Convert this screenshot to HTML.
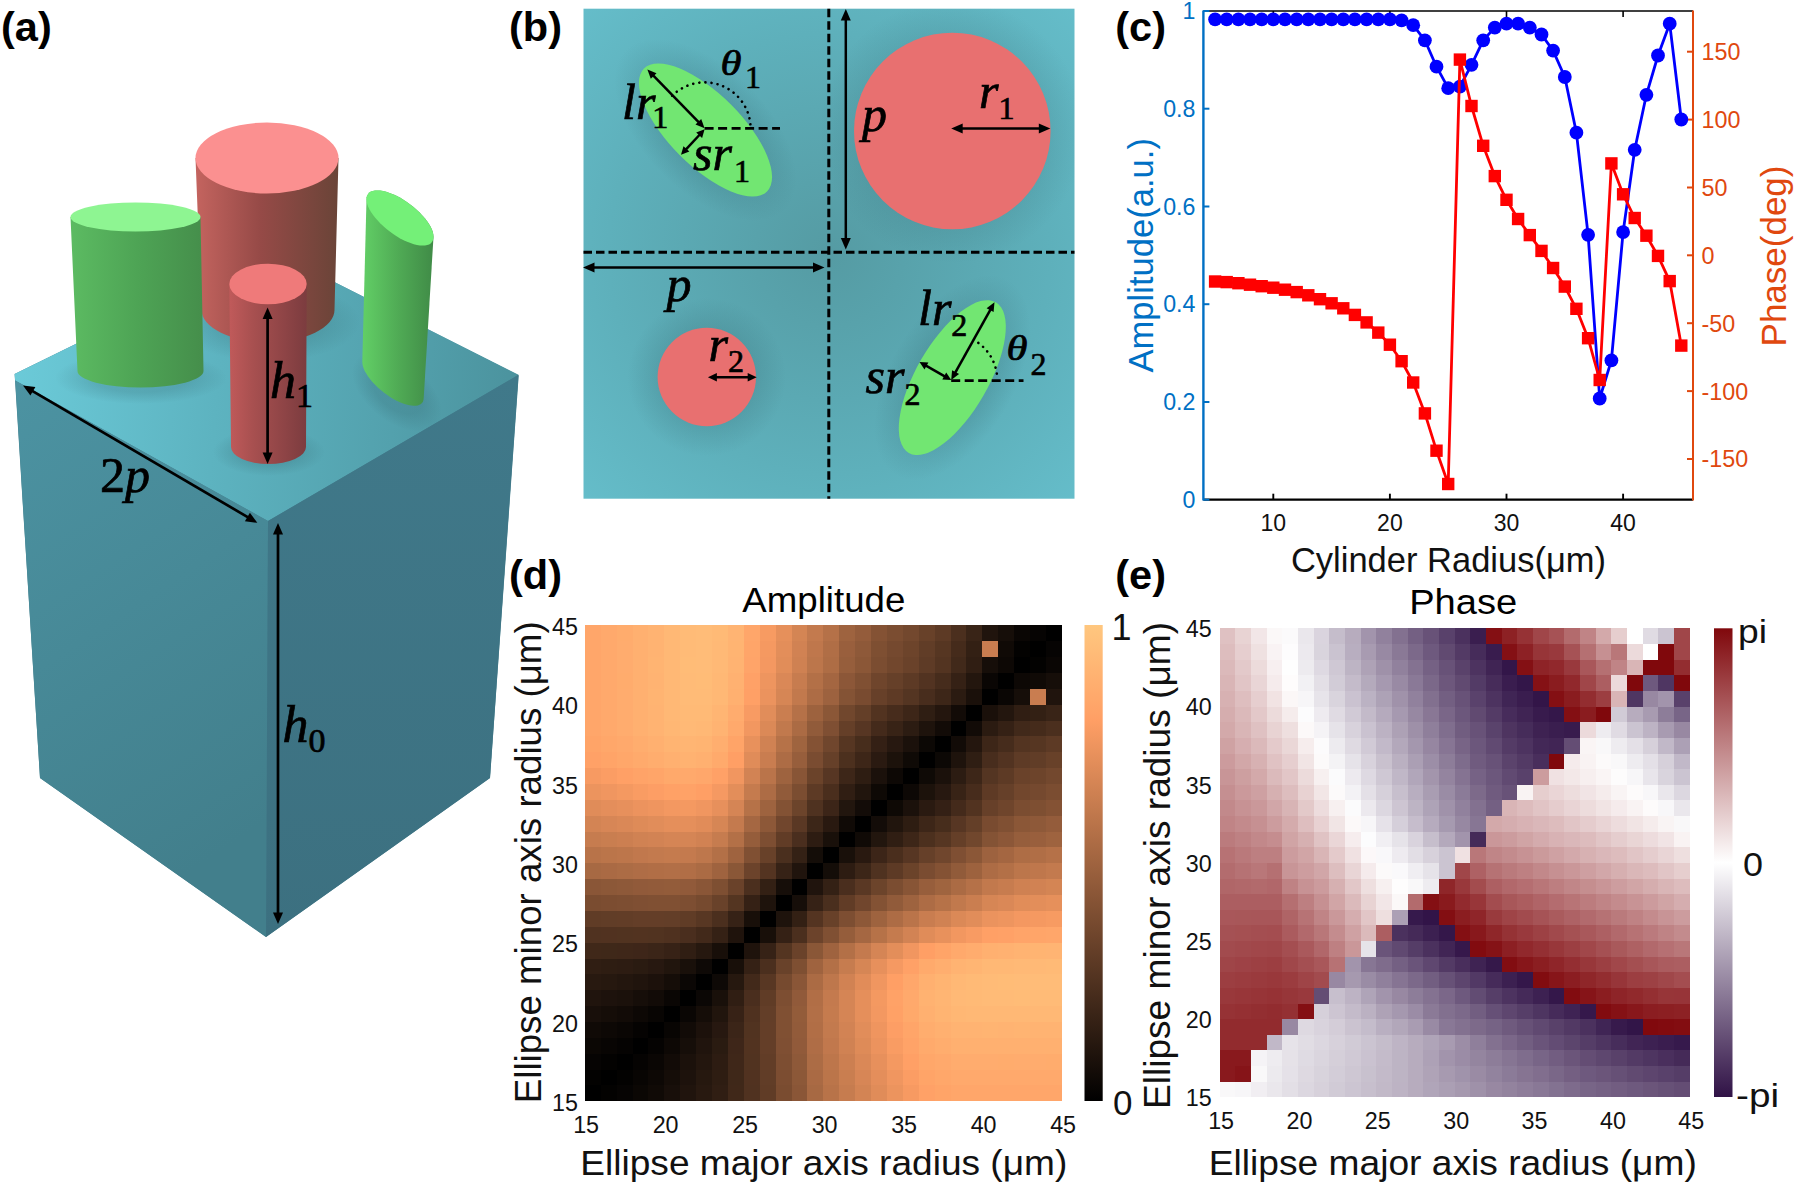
<!DOCTYPE html>
<html><head><meta charset="utf-8"><title>Figure</title>
<style>html,body{margin:0;padding:0;background:#fff}svg{display:block}</style></head>
<body>
<svg width="1797" height="1189" viewBox="0 0 1797 1189">
<defs>

<linearGradient id="gTop" gradientUnits="userSpaceOnUse" x1="15" y1="374" x2="520" y2="420"><stop offset="0" stop-color="#6bcad8"/><stop offset="0.4" stop-color="#5db3c0"/><stop offset="0.75" stop-color="#53a1ad"/><stop offset="1" stop-color="#4b929d"/></linearGradient>
<linearGradient id="gLeft" x1="0" y1="0" x2="0.3" y2="1"><stop offset="0" stop-color="#4c93a2"/><stop offset="1" stop-color="#427f8c"/></linearGradient>
<linearGradient id="gRight" x1="0" y1="0" x2="0" y2="1"><stop offset="0" stop-color="#40798a"/><stop offset="1" stop-color="#3c7080"/></linearGradient>
<linearGradient id="gRedBig" x1="0" y1="0" x2="1" y2="0"><stop offset="0" stop-color="#c4645f"/><stop offset="0.45" stop-color="#964a47"/><stop offset="1" stop-color="#6a4438"/></linearGradient>
<linearGradient id="gRedSm" x1="0" y1="0" x2="1" y2="0"><stop offset="0" stop-color="#c05a5a"/><stop offset="0.3" stop-color="#a85050"/><stop offset="1" stop-color="#7c3c3f"/></linearGradient>
<linearGradient id="gGrL" x1="0" y1="0" x2="1" y2="0"><stop offset="0" stop-color="#5cbb62"/><stop offset="0.5" stop-color="#4ea455"/><stop offset="1" stop-color="#458e4b"/></linearGradient>
<linearGradient id="gGrR" x1="0" y1="0" x2="1" y2="0"><stop offset="0" stop-color="#62cf66"/><stop offset="0.5" stop-color="#50ab55"/><stop offset="1" stop-color="#408b47"/></linearGradient>
<radialGradient id="gB" cx="0.5" cy="0.5" r="0.75"><stop offset="0" stop-color="#559ba3"/><stop offset="0.6" stop-color="#5eb0bb"/><stop offset="1" stop-color="#66bfcc"/></radialGradient>
<radialGradient id="gSh" cx="0.5" cy="0.5" r="0.5"><stop offset="0.55" stop-color="#2f6068" stop-opacity="0.22"/><stop offset="1" stop-color="#2f6068" stop-opacity="0"/></radialGradient>
<linearGradient id="gCopper" x1="0" y1="1" x2="0" y2="0"><stop offset="0" stop-color="#000"/><stop offset="0.8" stop-color="#ff9f65"/><stop offset="1" stop-color="#ffc77f"/></linearGradient>
<linearGradient id="gPhase" x1="0" y1="1" x2="0" y2="0"><stop offset="0" stop-color="#301246"/><stop offset="0.5" stop-color="#ffffff"/><stop offset="1" stop-color="#80080c"/></linearGradient>

</defs>
<rect width="1797" height="1189" fill="#fff"/>
<text x="1" y="40.6" font-family="'Liberation Sans', Arial, Helvetica, sans-serif" font-weight="bold" font-size="41.5" fill="#000">(a)</text>
<text x="509" y="40.6" font-family="'Liberation Sans', Arial, Helvetica, sans-serif" font-weight="bold" font-size="41.5" fill="#000">(b)</text>
<text x="1115.3" y="40.6" font-family="'Liberation Sans', Arial, Helvetica, sans-serif" font-weight="bold" font-size="41.5" fill="#000">(c)</text>
<text x="509" y="588.6" font-family="'Liberation Sans', Arial, Helvetica, sans-serif" font-weight="bold" font-size="41.5" fill="#000">(d)</text>
<text x="1115.3" y="588.8" font-family="'Liberation Sans', Arial, Helvetica, sans-serif" font-weight="bold" font-size="41.5" fill="#000">(e)</text>
<g id="pa">
<polygon points="14.6,374 269,249 518.7,375.5 490,778 266,937 40,778" fill="#447f8d"/>
<polygon points="14.6,374 269,249 518.5,374.8 268,521 15.2,380.5" fill="url(#gTop)"/>
<polygon points="15.2,380.5 268,521 266,937 40,778" fill="url(#gLeft)"/>
<polygon points="268,521 518.5,374.8 490,778 266,937" fill="url(#gRight)"/>
<ellipse cx="268" cy="322" rx="92" ry="40" fill="url(#gSh)"/>
<ellipse cx="141" cy="378" rx="86" ry="26" fill="url(#gSh)"/>
<ellipse cx="269" cy="452" rx="56" ry="24" fill="url(#gSh)"/>
<ellipse cx="397" cy="392" rx="52" ry="30" fill="url(#gSh)" transform="rotate(38 397 392)"/>
<path d="M195.5,158 L201.5,310 A66.5,32 0 0 0 334.5,310 L338.5,158 Z" fill="url(#gRedBig)"/>
<ellipse cx="267" cy="158" rx="71.5" ry="35.5" fill="#fb9090"/>
<path d="M70.5,217 L77.5,371 A63,16.5 0 0 0 203.5,371 L200.5,217 Z" fill="url(#gGrL)"/>
<ellipse cx="135.5" cy="217" rx="65" ry="14.5" fill="#8ef592"/>
<polygon points="433.5,236.7 423.7,397.9 423.5,399.7 423.0,401.4 422.2,402.8 421.0,403.9 419.5,404.8 417.8,405.4 415.8,405.8 413.5,405.8 411.0,405.6 408.3,405.1 405.4,404.3 402.4,403.3 399.3,402.0 396.1,400.4 392.9,398.7 389.7,396.7 386.6,394.5 383.5,392.2 380.5,389.8 377.6,387.2 374.9,384.6 372.4,381.9 370.2,379.2 368.1,376.5 366.4,373.8 364.9,371.2 363.8,368.8 363.0,366.4 362.5,364.2 362.3,362.1 366.5,199.3 366.6,197.3 367.2,195.5 368.1,193.9 369.3,192.6 370.9,191.6 372.8,190.9 375.0,190.5 377.4,190.4 380.2,190.5 383.1,191.0 386.2,191.8 389.5,192.9 392.9,194.2 396.4,195.8 399.9,197.6 403.4,199.7 406.8,202.0 410.2,204.4 413.5,207.0 416.6,209.7 419.6,212.5 422.3,215.4 424.8,218.3 427.1,221.2 429.0,224.0 430.6,226.8 431.9,229.5 432.8,232.1 433.3,234.5" fill="url(#gGrR)"/>
<polygon points="431.9,242.1 430.7,243.4 429.1,244.4 427.2,245.1 425.0,245.5 422.6,245.6 419.8,245.5 416.9,245.0 413.8,244.2 410.5,243.1 407.1,241.8 403.6,240.2 400.1,238.4 396.6,236.3 393.2,234.0 389.8,231.6 386.5,229.0 383.4,226.3 380.4,223.5 377.7,220.6 375.2,217.7 372.9,214.8 371.0,212.0 369.4,209.2 368.1,206.5 367.2,203.9 366.7,201.5 366.5,199.3 366.6,197.3 367.2,195.5 368.1,193.9 369.3,192.6 370.9,191.6 372.8,190.9 375.0,190.5 377.4,190.4 380.2,190.5 383.1,191.0 386.2,191.8 389.5,192.9 392.9,194.2 396.4,195.8 399.9,197.6 403.4,199.7 406.8,202.0 410.2,204.4 413.5,207.0 416.6,209.7 419.6,212.5 422.3,215.4 424.8,218.3 427.1,221.2 429.0,224.0 430.6,226.8 431.9,229.5 432.8,232.1 433.3,234.5 433.5,236.7 433.4,238.7 432.8,240.5" fill="#74f078"/>
<path d="M229.3,284 L231,447 A37.5,17 0 0 0 306,447 L306.7,284 Z" fill="url(#gRedSm)"/>
<ellipse cx="268" cy="284" rx="38.7" ry="20.3" fill="#ef7a7a"/>
<line x1="267.6" y1="316.7" x2="267.6" y2="454.8" stroke="#000" stroke-width="2.7"/><polygon points="267.6,464.0 262.6,452.5 272.6,452.5" fill="#000"/><polygon points="267.6,307.5 262.6,319.0 272.6,319.0" fill="#000"/>
<text x="270" y="398" font-family="'Liberation Serif', 'Times New Roman', serif" font-size="52" font-style="italic" fill="#000" stroke="#000" stroke-width="0.7">h<tspan font-style="normal" font-size="34" dy="9" dx="0">1</tspan></text>
<line x1="278.0" y1="532.2" x2="278.0" y2="914.8" stroke="#000" stroke-width="2.7"/><polygon points="278.0,924.0 273.0,912.5 283.0,912.5" fill="#000"/><polygon points="278.0,523.0 273.0,534.5 283.0,534.5" fill="#000"/>
<text x="282.5" y="742" font-family="'Liberation Serif', 'Times New Roman', serif" font-size="52" font-style="italic" fill="#000" stroke="#000" stroke-width="0.7">h<tspan font-style="normal" font-size="34" dy="10" dx="0">0</tspan></text>
<line x1="30.9" y1="390.2" x2="249.4" y2="518.1" stroke="#000" stroke-width="2.7"/><polygon points="257.3,522.8 244.9,521.3 249.9,512.7" fill="#000"/><polygon points="23.0,385.5 30.4,395.6 35.4,387.0" fill="#000"/>
<text x="100" y="491.8" font-family="'Liberation Serif', 'Times New Roman', serif" font-size="50" font-style="italic" fill="#000" stroke="#000" stroke-width="0.7"><tspan font-style="normal">2</tspan>p</text>
</g>
<g id="pb">
<rect x="583.5" y="8.7" width="491.0" height="490.0" fill="url(#gB)"/>
<clipPath id="cpB"><rect x="583.5" y="8.7" width="491.0" height="490.0"/></clipPath>
<ellipse clip-path="url(#cpB)" cx="952.3" cy="131" rx="132.3" ry="132.3" fill="url(#gSh)" transform="rotate(0 952.3 131)"/>
<ellipse clip-path="url(#cpB)" cx="706.8" cy="377" rx="79.2" ry="79.2" fill="url(#gSh)" transform="rotate(0 706.8 377)"/>
<ellipse clip-path="url(#cpB)" cx="705.5" cy="130" rx="113" ry="62" fill="url(#gSh)" transform="rotate(45 705.5 130)"/>
<ellipse clip-path="url(#cpB)" cx="952.3" cy="377.6" rx="113" ry="62" fill="url(#gSh)" transform="rotate(-60 952.3 377.6)"/>
<circle cx="952.3" cy="131" r="98.3" fill="#e87070"/>
<circle cx="706.8" cy="377" r="49.2" fill="#e87070"/>
<ellipse cx="705.5" cy="130" rx="87" ry="36" fill="#72e672" transform="rotate(45 705.5 130)"/>
<ellipse cx="952.3" cy="377.6" rx="87" ry="36" fill="#72e672" transform="rotate(-60 952.3 377.6)"/>
<line x1="828.8" y1="8.7" x2="828.8" y2="498.7" stroke="#000" stroke-width="3" stroke-dasharray="8.5 4"/>
<line x1="583.5" y1="252.3" x2="1074.5" y2="252.3" stroke="#000" stroke-width="3" stroke-dasharray="8.5 4"/>
<line x1="845.8" y1="18.2" x2="845.8" y2="240.3" stroke="#000" stroke-width="2.5"/><polygon points="845.8,249.5 840.8,238.0 850.8,238.0" fill="#000"/><polygon points="845.8,9.0 840.8,20.5 850.8,20.5" fill="#000"/>
<line x1="592.2" y1="267.5" x2="815.3" y2="267.5" stroke="#000" stroke-width="2.5"/><polygon points="824.5,267.5 813.0,272.5 813.0,262.5" fill="#000"/><polygon points="583.0,267.5 594.5,272.5 594.5,262.5" fill="#000"/>
<text x="862" y="131.2" font-family="'Liberation Serif', 'Times New Roman', serif" font-size="50" font-style="italic" fill="#000" stroke="#000" stroke-width="0.7">p</text>
<text x="666.5" y="301.4" font-family="'Liberation Serif', 'Times New Roman', serif" font-size="50" font-style="italic" fill="#000" stroke="#000" stroke-width="0.7">p</text>
<line x1="960.4" y1="128.6" x2="1041.1" y2="128.6" stroke="#000" stroke-width="2.5"/><polygon points="1050.3,128.6 1038.8,133.6 1038.8,123.6" fill="#000"/><polygon points="951.2,128.6 962.7,133.6 962.7,123.6" fill="#000"/>
<text x="979" y="108.2" font-family="'Liberation Serif', 'Times New Roman', serif" font-size="50" font-style="italic" fill="#000" stroke="#000" stroke-width="0.7">r<tspan font-style="normal" font-size="32" dy="11" dx="0">1</tspan></text>
<line x1="715.1" y1="377.3" x2="749.5" y2="377.3" stroke="#000" stroke-width="2.5"/><polygon points="756.7,377.3 747.7,381.6 747.7,373.1" fill="#000"/><polygon points="707.9,377.3 716.9,381.6 716.9,373.1" fill="#000"/>
<text x="708.5" y="360.5" font-family="'Liberation Serif', 'Times New Roman', serif" font-size="50" font-style="italic" fill="#000" stroke="#000" stroke-width="0.7">r<tspan font-style="normal" font-size="32" dy="11" dx="0">2</tspan></text>
<line x1="699.6" y1="123.1" x2="652.4" y2="74.7" stroke="#000" stroke-width="2.5"/><polygon points="647.4,69.5 656.5,73.2 650.8,78.7" fill="#000"/><polygon points="704.6,128.3 701.2,119.1 695.5,124.6" fill="#000"/>
<line x1="700.3" y1="134.0" x2="685.3" y2="150.1" stroke="#000" stroke-width="2.5"/><polygon points="681.0,154.8 683.5,146.2 689.4,151.6" fill="#000"/><polygon points="704.6,129.3 696.2,132.5 702.1,137.9" fill="#000"/>
<line x1="704.6" y1="128.3" x2="780" y2="128.3" stroke="#000" stroke-width="2.7" stroke-dasharray="9 4.5"/>
<path d="M750.4,124.3 A46,46 0 0 0 672.1,95.8" fill="none" stroke="#000" stroke-width="2.6" stroke-linecap="round" stroke-dasharray="0.1 6"/>
<text x="622" y="119.2" font-family="'Liberation Serif', 'Times New Roman', serif" font-size="50" font-style="italic" fill="#000" stroke="#000" stroke-width="0.7">lr<tspan font-style="normal" font-size="32" dy="9" dx="-3">1</tspan></text>
<text x="693" y="169.5" font-family="'Liberation Serif', 'Times New Roman', serif" font-size="50" font-style="italic" fill="#000" stroke="#000" stroke-width="0.7">sr<tspan font-style="normal" font-size="32" dy="12" dx="2">1</tspan></text>
<text transform="translate(720.5,75.4) scale(1.22,1)" font-family="'Liberation Serif', 'Times New Roman', serif" font-size="35" font-style="italic" stroke="#000" stroke-width="0.7">θ</text>
<text x="745" y="87.6" font-family="'Liberation Serif', 'Times New Roman', serif" font-size="32" stroke="#000" stroke-width="0.6">1</text>
<line x1="954.7" y1="373.7" x2="991.0" y2="308.6" stroke="#000" stroke-width="2.5"/><polygon points="994.5,302.3 993.6,312.1 986.6,308.2" fill="#000"/><polygon points="951.2,380.0 959.1,374.1 952.1,370.2" fill="#000"/>
<line x1="945.6" y1="376.8" x2="925.1" y2="365.2" stroke="#000" stroke-width="2.5"/><polygon points="919.5,362.0 928.4,362.5 924.5,369.4" fill="#000"/><polygon points="951.2,380.0 946.2,372.6 942.3,379.5" fill="#000"/>
<line x1="951.2" y1="380.6" x2="1023.5" y2="380.6" stroke="#000" stroke-width="2.7" stroke-dasharray="9 4.5"/>
<path d="M996.8,373.6 A46,46 0 0 0 974.2,340.2" fill="none" stroke="#000" stroke-width="2.6" stroke-linecap="round" stroke-dasharray="0.1 6"/>
<text x="918" y="324.8" font-family="'Liberation Serif', 'Times New Roman', serif" font-size="50" font-style="italic" fill="#000" stroke="#000" stroke-width="0.7">lr<tspan font-style="normal" font-size="32" dy="11" dx="0">2</tspan></text>
<text x="865.5" y="392.6" font-family="'Liberation Serif', 'Times New Roman', serif" font-size="50" font-style="italic" fill="#000" stroke="#000" stroke-width="0.7">sr<tspan font-style="normal" font-size="32" dy="12" dx="0">2</tspan></text>
<text transform="translate(1006.5,359.8) scale(1.22,1)" font-family="'Liberation Serif', 'Times New Roman', serif" font-size="35" font-style="italic" stroke="#000" stroke-width="0.7">θ</text>
<text x="1030.5" y="374.5" font-family="'Liberation Serif', 'Times New Roman', serif" font-size="32" stroke="#000" stroke-width="0.6">2</text>
</g>
<g id="pc">
<line x1="1203.4" y1="11.0" x2="1693.0" y2="11.0" stroke="#000" stroke-width="1.6"/>
<line x1="1203.4" y1="499.7" x2="1693.0" y2="499.7" stroke="#000" stroke-width="2.2"/>
<line x1="1203.4" y1="10.4" x2="1203.4" y2="500.4" stroke="#0070c4" stroke-width="2.4"/>
<line x1="1693.0" y1="10.4" x2="1693.0" y2="500.4" stroke="#e0480f" stroke-width="2.0"/>
<line x1="1273.3" y1="499.7" x2="1273.3" y2="493.7" stroke="#000" stroke-width="1.9"/>
<line x1="1273.3" y1="11.0" x2="1273.3" y2="17.0" stroke="#000" stroke-width="1.6"/>
<text x="1273.3" y="531.2" font-family="'Liberation Sans', Arial, Helvetica, sans-serif" font-size="23" text-anchor="middle" fill="#111">10</text>
<line x1="1389.9" y1="499.7" x2="1389.9" y2="493.7" stroke="#000" stroke-width="1.9"/>
<line x1="1389.9" y1="11.0" x2="1389.9" y2="17.0" stroke="#000" stroke-width="1.6"/>
<text x="1389.9" y="531.2" font-family="'Liberation Sans', Arial, Helvetica, sans-serif" font-size="23" text-anchor="middle" fill="#111">20</text>
<line x1="1506.5" y1="499.7" x2="1506.5" y2="493.7" stroke="#000" stroke-width="1.9"/>
<line x1="1506.5" y1="11.0" x2="1506.5" y2="17.0" stroke="#000" stroke-width="1.6"/>
<text x="1506.5" y="531.2" font-family="'Liberation Sans', Arial, Helvetica, sans-serif" font-size="23" text-anchor="middle" fill="#111">30</text>
<line x1="1623.1" y1="499.7" x2="1623.1" y2="493.7" stroke="#000" stroke-width="1.9"/>
<line x1="1623.1" y1="11.0" x2="1623.1" y2="17.0" stroke="#000" stroke-width="1.6"/>
<text x="1623.1" y="531.2" font-family="'Liberation Sans', Arial, Helvetica, sans-serif" font-size="23" text-anchor="middle" fill="#111">40</text>
<line x1="1203.4" y1="499.7" x2="1209.4" y2="499.7" stroke="#0070c4" stroke-width="2"/>
<text x="1195.4" y="507.9" font-family="'Liberation Sans', Arial, Helvetica, sans-serif" font-size="23.2" text-anchor="end" fill="#0070c4">0</text>
<line x1="1203.4" y1="402.0" x2="1209.4" y2="402.0" stroke="#0070c4" stroke-width="2"/>
<text x="1195.4" y="410.2" font-family="'Liberation Sans', Arial, Helvetica, sans-serif" font-size="23.2" text-anchor="end" fill="#0070c4">0.2</text>
<line x1="1203.4" y1="304.2" x2="1209.4" y2="304.2" stroke="#0070c4" stroke-width="2"/>
<text x="1195.4" y="312.4" font-family="'Liberation Sans', Arial, Helvetica, sans-serif" font-size="23.2" text-anchor="end" fill="#0070c4">0.4</text>
<line x1="1203.4" y1="206.5" x2="1209.4" y2="206.5" stroke="#0070c4" stroke-width="2"/>
<text x="1195.4" y="214.7" font-family="'Liberation Sans', Arial, Helvetica, sans-serif" font-size="23.2" text-anchor="end" fill="#0070c4">0.6</text>
<line x1="1203.4" y1="108.7" x2="1209.4" y2="108.7" stroke="#0070c4" stroke-width="2"/>
<text x="1195.4" y="116.9" font-family="'Liberation Sans', Arial, Helvetica, sans-serif" font-size="23.2" text-anchor="end" fill="#0070c4">0.8</text>
<line x1="1203.4" y1="11.0" x2="1209.4" y2="11.0" stroke="#0070c4" stroke-width="2"/>
<text x="1195.4" y="19.2" font-family="'Liberation Sans', Arial, Helvetica, sans-serif" font-size="23.2" text-anchor="end" fill="#0070c4">1</text>
<line x1="1693.0" y1="459.0" x2="1687.0" y2="459.0" stroke="#e0480f" stroke-width="2"/>
<text x="1701.5" y="467.4" font-family="'Liberation Sans', Arial, Helvetica, sans-serif" font-size="23.3" fill="#e0480f">-150</text>
<line x1="1693.0" y1="391.1" x2="1687.0" y2="391.1" stroke="#e0480f" stroke-width="2"/>
<text x="1701.5" y="399.5" font-family="'Liberation Sans', Arial, Helvetica, sans-serif" font-size="23.3" fill="#e0480f">-100</text>
<line x1="1693.0" y1="323.2" x2="1687.0" y2="323.2" stroke="#e0480f" stroke-width="2"/>
<text x="1701.5" y="331.6" font-family="'Liberation Sans', Arial, Helvetica, sans-serif" font-size="23.3" fill="#e0480f">-50</text>
<line x1="1693.0" y1="255.3" x2="1687.0" y2="255.3" stroke="#e0480f" stroke-width="2"/>
<text x="1701.5" y="263.8" font-family="'Liberation Sans', Arial, Helvetica, sans-serif" font-size="23.3" fill="#e0480f">0</text>
<line x1="1693.0" y1="187.5" x2="1687.0" y2="187.5" stroke="#e0480f" stroke-width="2"/>
<text x="1701.5" y="195.9" font-family="'Liberation Sans', Arial, Helvetica, sans-serif" font-size="23.3" fill="#e0480f">50</text>
<line x1="1693.0" y1="119.6" x2="1687.0" y2="119.6" stroke="#e0480f" stroke-width="2"/>
<text x="1701.5" y="128.0" font-family="'Liberation Sans', Arial, Helvetica, sans-serif" font-size="23.3" fill="#e0480f">100</text>
<line x1="1693.0" y1="51.7" x2="1687.0" y2="51.7" stroke="#e0480f" stroke-width="2"/>
<text x="1701.5" y="60.1" font-family="'Liberation Sans', Arial, Helvetica, sans-serif" font-size="23.3" fill="#e0480f">150</text>
<text transform="translate(1153,255.3) rotate(-90)" font-family="'Liberation Sans', Arial, Helvetica, sans-serif" font-size="34.6" text-anchor="middle" fill="#0070c4">Amplitude(a.u.)</text>
<text transform="translate(1786,256) rotate(-90)" font-family="'Liberation Sans', Arial, Helvetica, sans-serif" font-size="35" text-anchor="middle" fill="#e0480f">Phase(deg)</text>
<text x="1448.5" y="571.5" font-family="'Liberation Sans', Arial, Helvetica, sans-serif" font-size="34.5" text-anchor="middle" fill="#111">Cylinder Radius(μm)</text>
<polyline points="1215.1,19.3 1226.7,19.3 1238.4,19.3 1250.0,19.3 1261.7,19.3 1273.3,19.3 1285.0,19.3 1296.7,19.3 1308.3,19.3 1320.0,19.3 1331.6,19.3 1343.3,19.3 1354.9,19.3 1366.6,19.3 1378.3,19.3 1389.9,19.3 1401.6,20.3 1413.2,25.2 1424.9,40.3 1436.5,66.7 1448.2,88.2 1459.9,86.7 1471.5,64.8 1483.2,40.3 1494.8,27.6 1506.5,23.7 1518.1,23.7 1529.8,27.6 1541.5,34.5 1553.1,50.6 1564.8,77.0 1576.4,132.7 1588.1,234.8 1599.7,398.5 1611.4,360.4 1623.1,232.1 1634.7,149.8 1646.4,94.8 1658.0,55.5 1669.7,23.7 1681.3,119.5" fill="none" stroke="#0000ff" stroke-width="2.8" stroke-linejoin="round"/>
<circle cx="1215.1" cy="19.3" r="6.9" fill="#0000ff"/>
<circle cx="1226.7" cy="19.3" r="6.9" fill="#0000ff"/>
<circle cx="1238.4" cy="19.3" r="6.9" fill="#0000ff"/>
<circle cx="1250.0" cy="19.3" r="6.9" fill="#0000ff"/>
<circle cx="1261.7" cy="19.3" r="6.9" fill="#0000ff"/>
<circle cx="1273.3" cy="19.3" r="6.9" fill="#0000ff"/>
<circle cx="1285.0" cy="19.3" r="6.9" fill="#0000ff"/>
<circle cx="1296.7" cy="19.3" r="6.9" fill="#0000ff"/>
<circle cx="1308.3" cy="19.3" r="6.9" fill="#0000ff"/>
<circle cx="1320.0" cy="19.3" r="6.9" fill="#0000ff"/>
<circle cx="1331.6" cy="19.3" r="6.9" fill="#0000ff"/>
<circle cx="1343.3" cy="19.3" r="6.9" fill="#0000ff"/>
<circle cx="1354.9" cy="19.3" r="6.9" fill="#0000ff"/>
<circle cx="1366.6" cy="19.3" r="6.9" fill="#0000ff"/>
<circle cx="1378.3" cy="19.3" r="6.9" fill="#0000ff"/>
<circle cx="1389.9" cy="19.3" r="6.9" fill="#0000ff"/>
<circle cx="1401.6" cy="20.3" r="6.9" fill="#0000ff"/>
<circle cx="1413.2" cy="25.2" r="6.9" fill="#0000ff"/>
<circle cx="1424.9" cy="40.3" r="6.9" fill="#0000ff"/>
<circle cx="1436.5" cy="66.7" r="6.9" fill="#0000ff"/>
<circle cx="1448.2" cy="88.2" r="6.9" fill="#0000ff"/>
<circle cx="1459.9" cy="86.7" r="6.9" fill="#0000ff"/>
<circle cx="1471.5" cy="64.8" r="6.9" fill="#0000ff"/>
<circle cx="1483.2" cy="40.3" r="6.9" fill="#0000ff"/>
<circle cx="1494.8" cy="27.6" r="6.9" fill="#0000ff"/>
<circle cx="1506.5" cy="23.7" r="6.9" fill="#0000ff"/>
<circle cx="1518.1" cy="23.7" r="6.9" fill="#0000ff"/>
<circle cx="1529.8" cy="27.6" r="6.9" fill="#0000ff"/>
<circle cx="1541.5" cy="34.5" r="6.9" fill="#0000ff"/>
<circle cx="1553.1" cy="50.6" r="6.9" fill="#0000ff"/>
<circle cx="1564.8" cy="77.0" r="6.9" fill="#0000ff"/>
<circle cx="1576.4" cy="132.7" r="6.9" fill="#0000ff"/>
<circle cx="1588.1" cy="234.8" r="6.9" fill="#0000ff"/>
<circle cx="1599.7" cy="398.5" r="6.9" fill="#0000ff"/>
<circle cx="1611.4" cy="360.4" r="6.9" fill="#0000ff"/>
<circle cx="1623.1" cy="232.1" r="6.9" fill="#0000ff"/>
<circle cx="1634.7" cy="149.8" r="6.9" fill="#0000ff"/>
<circle cx="1646.4" cy="94.8" r="6.9" fill="#0000ff"/>
<circle cx="1658.0" cy="55.5" r="6.9" fill="#0000ff"/>
<circle cx="1669.7" cy="23.7" r="6.9" fill="#0000ff"/>
<circle cx="1681.3" cy="119.5" r="6.9" fill="#0000ff"/>
<polyline points="1215.1,281.5 1226.7,282.1 1238.4,283.2 1250.0,284.7 1261.7,286.2 1273.3,287.7 1285.0,289.7 1296.7,292.1 1308.3,295.3 1320.0,299.2 1331.6,303.3 1343.3,308.3 1354.9,314.9 1366.6,322.4 1378.3,332.6 1389.9,344.7 1401.6,361.2 1413.2,382.5 1424.9,413.4 1436.5,450.7 1448.2,484.0 1459.9,59.6 1471.5,106.0 1483.2,145.8 1494.8,176.1 1506.5,199.8 1518.1,219.0 1529.8,235.1 1541.5,250.9 1553.1,268.0 1564.8,286.6 1576.4,308.8 1588.1,338.2 1599.7,380.0 1611.4,163.4 1623.1,194.3 1634.7,218.0 1646.4,235.7 1658.0,255.9 1669.7,281.1 1681.3,345.6" fill="none" stroke="#ff0000" stroke-width="2.8" stroke-linejoin="round"/>
<rect x="1208.9" y="275.3" width="12.4" height="12.4" fill="#ff0000"/>
<rect x="1220.5" y="275.9" width="12.4" height="12.4" fill="#ff0000"/>
<rect x="1232.2" y="277.0" width="12.4" height="12.4" fill="#ff0000"/>
<rect x="1243.8" y="278.5" width="12.4" height="12.4" fill="#ff0000"/>
<rect x="1255.5" y="280.0" width="12.4" height="12.4" fill="#ff0000"/>
<rect x="1267.1" y="281.5" width="12.4" height="12.4" fill="#ff0000"/>
<rect x="1278.8" y="283.5" width="12.4" height="12.4" fill="#ff0000"/>
<rect x="1290.5" y="285.9" width="12.4" height="12.4" fill="#ff0000"/>
<rect x="1302.1" y="289.1" width="12.4" height="12.4" fill="#ff0000"/>
<rect x="1313.8" y="293.0" width="12.4" height="12.4" fill="#ff0000"/>
<rect x="1325.4" y="297.1" width="12.4" height="12.4" fill="#ff0000"/>
<rect x="1337.1" y="302.1" width="12.4" height="12.4" fill="#ff0000"/>
<rect x="1348.7" y="308.7" width="12.4" height="12.4" fill="#ff0000"/>
<rect x="1360.4" y="316.2" width="12.4" height="12.4" fill="#ff0000"/>
<rect x="1372.1" y="326.4" width="12.4" height="12.4" fill="#ff0000"/>
<rect x="1383.7" y="338.5" width="12.4" height="12.4" fill="#ff0000"/>
<rect x="1395.4" y="355.0" width="12.4" height="12.4" fill="#ff0000"/>
<rect x="1407.0" y="376.3" width="12.4" height="12.4" fill="#ff0000"/>
<rect x="1418.7" y="407.2" width="12.4" height="12.4" fill="#ff0000"/>
<rect x="1430.3" y="444.5" width="12.4" height="12.4" fill="#ff0000"/>
<rect x="1442.0" y="477.8" width="12.4" height="12.4" fill="#ff0000"/>
<rect x="1453.7" y="53.4" width="12.4" height="12.4" fill="#ff0000"/>
<rect x="1465.3" y="99.8" width="12.4" height="12.4" fill="#ff0000"/>
<rect x="1477.0" y="139.6" width="12.4" height="12.4" fill="#ff0000"/>
<rect x="1488.6" y="169.9" width="12.4" height="12.4" fill="#ff0000"/>
<rect x="1500.3" y="193.6" width="12.4" height="12.4" fill="#ff0000"/>
<rect x="1511.9" y="212.8" width="12.4" height="12.4" fill="#ff0000"/>
<rect x="1523.6" y="228.9" width="12.4" height="12.4" fill="#ff0000"/>
<rect x="1535.3" y="244.7" width="12.4" height="12.4" fill="#ff0000"/>
<rect x="1546.9" y="261.8" width="12.4" height="12.4" fill="#ff0000"/>
<rect x="1558.6" y="280.4" width="12.4" height="12.4" fill="#ff0000"/>
<rect x="1570.2" y="302.6" width="12.4" height="12.4" fill="#ff0000"/>
<rect x="1581.9" y="332.0" width="12.4" height="12.4" fill="#ff0000"/>
<rect x="1593.5" y="373.8" width="12.4" height="12.4" fill="#ff0000"/>
<rect x="1605.2" y="157.2" width="12.4" height="12.4" fill="#ff0000"/>
<rect x="1616.9" y="188.1" width="12.4" height="12.4" fill="#ff0000"/>
<rect x="1628.5" y="211.8" width="12.4" height="12.4" fill="#ff0000"/>
<rect x="1640.2" y="229.5" width="12.4" height="12.4" fill="#ff0000"/>
<rect x="1651.8" y="249.7" width="12.4" height="12.4" fill="#ff0000"/>
<rect x="1663.5" y="274.9" width="12.4" height="12.4" fill="#ff0000"/>
<rect x="1675.1" y="339.4" width="12.4" height="12.4" fill="#ff0000"/>
</g>
<g id="pd">
<g shape-rendering="crispEdges"><rect x="584.80" y="1085.13" width="16.20" height="16.17" fill="#000000"/><rect x="600.70" y="1085.13" width="16.20" height="16.17" fill="#030201"/><rect x="616.60" y="1085.13" width="16.20" height="16.17" fill="#060403"/><rect x="632.50" y="1085.13" width="16.20" height="16.17" fill="#0b0704"/><rect x="648.40" y="1085.13" width="16.20" height="16.17" fill="#100a06"/><rect x="664.30" y="1085.13" width="16.20" height="16.17" fill="#180f0a"/><rect x="680.20" y="1085.13" width="16.20" height="16.17" fill="#20140d"/><rect x="696.10" y="1085.13" width="16.20" height="16.17" fill="#281910"/><rect x="712.00" y="1085.13" width="16.20" height="16.17" fill="#301e13"/><rect x="727.90" y="1085.13" width="16.20" height="16.17" fill="#402819"/><rect x="743.80" y="1085.13" width="16.20" height="16.17" fill="#503220"/><rect x="759.70" y="1085.13" width="16.20" height="16.17" fill="#603c26"/><rect x="775.60" y="1085.13" width="16.20" height="16.17" fill="#7a4c30"/><rect x="791.50" y="1085.13" width="16.20" height="16.17" fill="#8a5637"/><rect x="807.40" y="1085.13" width="16.20" height="16.17" fill="#a76943"/><rect x="823.30" y="1085.13" width="16.20" height="16.17" fill="#b87349"/><rect x="839.20" y="1085.13" width="16.20" height="16.17" fill="#c67c4f"/><rect x="855.10" y="1085.13" width="16.20" height="16.17" fill="#d38454"/><rect x="871.00" y="1085.13" width="16.20" height="16.17" fill="#e08c59"/><rect x="886.90" y="1085.13" width="16.20" height="16.17" fill="#ec945e"/><rect x="902.80" y="1085.13" width="16.20" height="16.17" fill="#f79a62"/><rect x="918.70" y="1085.13" width="16.20" height="16.17" fill="#ffa167"/><rect x="934.60" y="1085.13" width="16.20" height="16.17" fill="#ffa468"/><rect x="950.50" y="1085.13" width="111.60" height="16.17" fill="#ffa66a"/><rect x="584.80" y="1069.27" width="16.20" height="16.17" fill="#030201"/><rect x="600.70" y="1069.27" width="16.20" height="16.17" fill="#000000"/><rect x="616.60" y="1069.27" width="16.20" height="16.17" fill="#030201"/><rect x="632.50" y="1069.27" width="16.20" height="16.17" fill="#080503"/><rect x="648.40" y="1069.27" width="16.20" height="16.17" fill="#0d0805"/><rect x="664.30" y="1069.27" width="16.20" height="16.17" fill="#150d08"/><rect x="680.20" y="1069.27" width="16.20" height="16.17" fill="#1d120c"/><rect x="696.10" y="1069.27" width="16.20" height="16.17" fill="#26180f"/><rect x="712.00" y="1069.27" width="16.20" height="16.17" fill="#2e1d12"/><rect x="727.90" y="1069.27" width="16.20" height="16.17" fill="#3f2819"/><rect x="743.80" y="1069.27" width="16.20" height="16.17" fill="#513220"/><rect x="759.70" y="1069.27" width="16.20" height="16.17" fill="#613d27"/><rect x="775.60" y="1069.27" width="16.20" height="16.17" fill="#7c4d31"/><rect x="791.50" y="1069.27" width="16.20" height="16.17" fill="#8c5838"/><rect x="807.40" y="1069.27" width="16.20" height="16.17" fill="#aa6a44"/><rect x="823.30" y="1069.27" width="16.20" height="16.17" fill="#bb754a"/><rect x="839.20" y="1069.27" width="16.20" height="16.17" fill="#c97e50"/><rect x="855.10" y="1069.27" width="16.20" height="16.17" fill="#d78656"/><rect x="871.00" y="1069.27" width="16.20" height="16.17" fill="#e48e5b"/><rect x="886.90" y="1069.27" width="16.20" height="16.17" fill="#f09660"/><rect x="902.80" y="1069.27" width="16.20" height="16.17" fill="#fb9d64"/><rect x="918.70" y="1069.27" width="16.20" height="16.17" fill="#ffa468"/><rect x="934.60" y="1069.27" width="16.20" height="16.17" fill="#ffa76a"/><rect x="950.50" y="1069.27" width="111.60" height="16.17" fill="#ffa96c"/><rect x="584.80" y="1053.40" width="16.20" height="16.17" fill="#060403"/><rect x="600.70" y="1053.40" width="16.20" height="16.17" fill="#030201"/><rect x="616.60" y="1053.40" width="16.20" height="16.17" fill="#000000"/><rect x="632.50" y="1053.40" width="16.20" height="16.17" fill="#050302"/><rect x="648.40" y="1053.40" width="16.20" height="16.17" fill="#0a0604"/><rect x="664.30" y="1053.40" width="16.20" height="16.17" fill="#120b07"/><rect x="680.20" y="1053.40" width="16.20" height="16.17" fill="#1b110b"/><rect x="696.10" y="1053.40" width="16.20" height="16.17" fill="#23160e"/><rect x="712.00" y="1053.40" width="16.20" height="16.17" fill="#2d1c12"/><rect x="727.90" y="1053.40" width="16.20" height="16.17" fill="#3f2719"/><rect x="743.80" y="1053.40" width="16.20" height="16.17" fill="#513320"/><rect x="759.70" y="1053.40" width="16.20" height="16.17" fill="#623d27"/><rect x="775.60" y="1053.40" width="16.20" height="16.17" fill="#7d4e32"/><rect x="791.50" y="1053.40" width="16.20" height="16.17" fill="#8e5939"/><rect x="807.40" y="1053.40" width="16.20" height="16.17" fill="#ac6c45"/><rect x="823.30" y="1053.40" width="16.20" height="16.17" fill="#bd764b"/><rect x="839.20" y="1053.40" width="16.20" height="16.17" fill="#cc7f51"/><rect x="855.10" y="1053.40" width="16.20" height="16.17" fill="#da8857"/><rect x="871.00" y="1053.40" width="16.20" height="16.17" fill="#e7905c"/><rect x="886.90" y="1053.40" width="16.20" height="16.17" fill="#f49961"/><rect x="902.80" y="1053.40" width="16.20" height="16.17" fill="#ffa066"/><rect x="918.70" y="1053.40" width="16.20" height="16.17" fill="#ffa76a"/><rect x="934.60" y="1053.40" width="16.20" height="16.17" fill="#ffa96c"/><rect x="950.50" y="1053.40" width="48.00" height="16.17" fill="#ffac6e"/><rect x="998.20" y="1053.40" width="16.20" height="16.17" fill="#ffac6d"/><rect x="1014.10" y="1053.40" width="32.10" height="16.17" fill="#ffac6e"/><rect x="1045.90" y="1053.40" width="16.20" height="16.17" fill="#ffac6d"/><rect x="584.80" y="1037.53" width="16.20" height="16.17" fill="#0b0704"/><rect x="600.70" y="1037.53" width="16.20" height="16.17" fill="#080503"/><rect x="616.60" y="1037.53" width="16.20" height="16.17" fill="#050302"/><rect x="632.50" y="1037.53" width="16.20" height="16.17" fill="#000000"/><rect x="648.40" y="1037.53" width="16.20" height="16.17" fill="#050302"/><rect x="664.30" y="1037.53" width="16.20" height="16.17" fill="#0d0805"/><rect x="680.20" y="1037.53" width="16.20" height="16.17" fill="#160e09"/><rect x="696.10" y="1037.53" width="16.20" height="16.17" fill="#20140d"/><rect x="712.00" y="1037.53" width="16.20" height="16.17" fill="#2a1b11"/><rect x="727.90" y="1037.53" width="16.20" height="16.17" fill="#3e2619"/><rect x="743.80" y="1037.53" width="16.20" height="16.17" fill="#523320"/><rect x="759.70" y="1037.53" width="16.20" height="16.17" fill="#643e28"/><rect x="775.60" y="1037.53" width="16.20" height="16.17" fill="#7f4f33"/><rect x="791.50" y="1037.53" width="16.20" height="16.17" fill="#915a3a"/><rect x="807.40" y="1037.53" width="16.20" height="16.17" fill="#af6d46"/><rect x="823.30" y="1037.53" width="16.20" height="16.17" fill="#c1784d"/><rect x="839.20" y="1037.53" width="16.20" height="16.17" fill="#d08253"/><rect x="855.10" y="1037.53" width="16.20" height="16.17" fill="#de8b58"/><rect x="871.00" y="1037.53" width="16.20" height="16.17" fill="#ec935e"/><rect x="886.90" y="1037.53" width="16.20" height="16.17" fill="#f99c63"/><rect x="902.80" y="1037.53" width="16.20" height="16.17" fill="#ffa368"/><rect x="918.70" y="1037.53" width="16.20" height="16.17" fill="#ffaa6c"/><rect x="934.60" y="1037.53" width="16.20" height="16.17" fill="#ffad6e"/><rect x="950.50" y="1037.53" width="111.60" height="16.17" fill="#ffb070"/><rect x="584.80" y="1021.67" width="16.20" height="16.17" fill="#100a06"/><rect x="600.70" y="1021.67" width="16.20" height="16.17" fill="#0d0805"/><rect x="616.60" y="1021.67" width="16.20" height="16.17" fill="#0a0604"/><rect x="632.50" y="1021.67" width="16.20" height="16.17" fill="#050302"/><rect x="648.40" y="1021.67" width="16.20" height="16.17" fill="#000000"/><rect x="664.30" y="1021.67" width="16.20" height="16.17" fill="#080503"/><rect x="680.20" y="1021.67" width="16.20" height="16.17" fill="#120b07"/><rect x="696.10" y="1021.67" width="16.20" height="16.17" fill="#1c110b"/><rect x="712.00" y="1021.67" width="16.20" height="16.17" fill="#271810"/><rect x="727.90" y="1021.67" width="16.20" height="16.17" fill="#3b2518"/><rect x="743.80" y="1021.67" width="16.20" height="16.17" fill="#513320"/><rect x="759.70" y="1021.67" width="16.20" height="16.17" fill="#643e28"/><rect x="775.60" y="1021.67" width="16.20" height="16.17" fill="#805033"/><rect x="791.50" y="1021.67" width="16.20" height="16.17" fill="#925b3a"/><rect x="807.40" y="1021.67" width="16.20" height="16.17" fill="#b16e46"/><rect x="823.30" y="1021.67" width="16.20" height="16.17" fill="#c37a4e"/><rect x="839.20" y="1021.67" width="16.20" height="16.17" fill="#d28354"/><rect x="855.10" y="1021.67" width="16.20" height="16.17" fill="#e18d5a"/><rect x="871.00" y="1021.67" width="16.20" height="16.17" fill="#ef955f"/><rect x="886.90" y="1021.67" width="16.20" height="16.17" fill="#fd9e65"/><rect x="902.80" y="1021.67" width="16.20" height="16.17" fill="#ffa569"/><rect x="918.70" y="1021.67" width="16.20" height="16.17" fill="#ffad6e"/><rect x="934.60" y="1021.67" width="16.20" height="16.17" fill="#ffb070"/><rect x="950.50" y="1021.67" width="32.10" height="16.17" fill="#ffb372"/><rect x="982.30" y="1021.67" width="16.20" height="16.17" fill="#ffb472"/><rect x="998.20" y="1021.67" width="16.20" height="16.17" fill="#ffb372"/><rect x="1014.10" y="1021.67" width="16.20" height="16.17" fill="#ffb472"/><rect x="1030.00" y="1021.67" width="32.10" height="16.17" fill="#ffb372"/><rect x="584.80" y="1005.80" width="16.20" height="16.17" fill="#180f0a"/><rect x="600.70" y="1005.80" width="16.20" height="16.17" fill="#150d08"/><rect x="616.60" y="1005.80" width="16.20" height="16.17" fill="#120b07"/><rect x="632.50" y="1005.80" width="16.20" height="16.17" fill="#0d0805"/><rect x="648.40" y="1005.80" width="16.20" height="16.17" fill="#080503"/><rect x="664.30" y="1005.80" width="16.20" height="16.17" fill="#000000"/><rect x="680.20" y="1005.80" width="16.20" height="16.17" fill="#0a0604"/><rect x="696.10" y="1005.80" width="16.20" height="16.17" fill="#150d08"/><rect x="712.00" y="1005.80" width="16.20" height="16.17" fill="#21150d"/><rect x="727.90" y="1005.80" width="16.20" height="16.17" fill="#372216"/><rect x="743.80" y="1005.80" width="16.20" height="16.17" fill="#4f311f"/><rect x="759.70" y="1005.80" width="16.20" height="16.17" fill="#633e28"/><rect x="775.60" y="1005.80" width="16.20" height="16.17" fill="#805033"/><rect x="791.50" y="1005.80" width="16.20" height="16.17" fill="#935c3a"/><rect x="807.40" y="1005.80" width="16.20" height="16.17" fill="#b26f47"/><rect x="823.30" y="1005.80" width="16.20" height="16.17" fill="#c57b4e"/><rect x="839.20" y="1005.80" width="16.20" height="16.17" fill="#d58555"/><rect x="855.10" y="1005.80" width="16.20" height="16.17" fill="#e58f5b"/><rect x="871.00" y="1005.80" width="16.20" height="16.17" fill="#f39861"/><rect x="886.90" y="1005.80" width="16.20" height="16.17" fill="#ffa166"/><rect x="902.80" y="1005.80" width="16.20" height="16.17" fill="#ffa96b"/><rect x="918.70" y="1005.80" width="16.20" height="16.17" fill="#ffb070"/><rect x="934.60" y="1005.80" width="16.20" height="16.17" fill="#ffb472"/><rect x="950.50" y="1005.80" width="16.20" height="16.17" fill="#ffb774"/><rect x="966.40" y="1005.80" width="95.70" height="16.17" fill="#ffb875"/><rect x="584.80" y="989.93" width="16.20" height="16.17" fill="#20140d"/><rect x="600.70" y="989.93" width="16.20" height="16.17" fill="#1d120c"/><rect x="616.60" y="989.93" width="16.20" height="16.17" fill="#1b110b"/><rect x="632.50" y="989.93" width="16.20" height="16.17" fill="#160e09"/><rect x="648.40" y="989.93" width="16.20" height="16.17" fill="#120b07"/><rect x="664.30" y="989.93" width="16.20" height="16.17" fill="#0a0604"/><rect x="680.20" y="989.93" width="16.20" height="16.17" fill="#000000"/><rect x="696.10" y="989.93" width="16.20" height="16.17" fill="#0b0705"/><rect x="712.00" y="989.93" width="16.20" height="16.17" fill="#19100a"/><rect x="727.90" y="989.93" width="16.20" height="16.17" fill="#301e13"/><rect x="743.80" y="989.93" width="16.20" height="16.17" fill="#4a2e1e"/><rect x="759.70" y="989.93" width="16.20" height="16.17" fill="#603c26"/><rect x="775.60" y="989.93" width="16.20" height="16.17" fill="#7d4e32"/><rect x="791.50" y="989.93" width="16.20" height="16.17" fill="#915a3a"/><rect x="807.40" y="989.93" width="16.20" height="16.17" fill="#b16e46"/><rect x="823.30" y="989.93" width="16.20" height="16.17" fill="#c47a4e"/><rect x="839.20" y="989.93" width="16.20" height="16.17" fill="#d58555"/><rect x="855.10" y="989.93" width="16.20" height="16.17" fill="#e58f5b"/><rect x="871.00" y="989.93" width="16.20" height="16.17" fill="#f49961"/><rect x="886.90" y="989.93" width="16.20" height="16.17" fill="#ffa267"/><rect x="902.80" y="989.93" width="16.20" height="16.17" fill="#ffa96c"/><rect x="918.70" y="989.93" width="16.20" height="16.17" fill="#ffb271"/><rect x="934.60" y="989.93" width="16.20" height="16.17" fill="#ffb573"/><rect x="950.50" y="989.93" width="16.20" height="16.17" fill="#ffb976"/><rect x="966.40" y="989.93" width="16.20" height="16.17" fill="#ffba76"/><rect x="982.30" y="989.93" width="32.10" height="16.17" fill="#ffbb77"/><rect x="1014.10" y="989.93" width="16.20" height="16.17" fill="#ffbc77"/><rect x="1030.00" y="989.93" width="32.10" height="16.17" fill="#ffbb77"/><rect x="584.80" y="974.07" width="16.20" height="16.17" fill="#281910"/><rect x="600.70" y="974.07" width="16.20" height="16.17" fill="#26180f"/><rect x="616.60" y="974.07" width="16.20" height="16.17" fill="#23160e"/><rect x="632.50" y="974.07" width="16.20" height="16.17" fill="#20140d"/><rect x="648.40" y="974.07" width="16.20" height="16.17" fill="#1c110b"/><rect x="664.30" y="974.07" width="16.20" height="16.17" fill="#150d08"/><rect x="680.20" y="974.07" width="16.20" height="16.17" fill="#0b0705"/><rect x="696.10" y="974.07" width="16.20" height="16.17" fill="#000000"/><rect x="712.00" y="974.07" width="16.20" height="16.17" fill="#0e0906"/><rect x="727.90" y="974.07" width="16.20" height="16.17" fill="#26180f"/><rect x="743.80" y="974.07" width="16.20" height="16.17" fill="#42291a"/><rect x="759.70" y="974.07" width="16.20" height="16.17" fill="#583723"/><rect x="775.60" y="974.07" width="16.20" height="16.17" fill="#764a2f"/><rect x="791.50" y="974.07" width="16.20" height="16.17" fill="#8a5637"/><rect x="807.40" y="974.07" width="16.20" height="16.17" fill="#ab6b44"/><rect x="823.30" y="974.07" width="16.20" height="16.17" fill="#be774c"/><rect x="839.20" y="974.07" width="16.20" height="16.17" fill="#d18253"/><rect x="855.10" y="974.07" width="16.20" height="16.17" fill="#e18c59"/><rect x="871.00" y="974.07" width="16.20" height="16.17" fill="#f09660"/><rect x="886.90" y="974.07" width="16.20" height="16.17" fill="#ff9f65"/><rect x="902.80" y="974.07" width="16.20" height="16.17" fill="#ffa76b"/><rect x="918.70" y="974.07" width="16.20" height="16.17" fill="#ffb070"/><rect x="934.60" y="974.07" width="16.20" height="16.17" fill="#ffb472"/><rect x="950.50" y="974.07" width="16.20" height="16.17" fill="#ffb875"/><rect x="966.40" y="974.07" width="16.20" height="16.17" fill="#ffba76"/><rect x="982.30" y="974.07" width="16.20" height="16.17" fill="#ffbb77"/><rect x="998.20" y="974.07" width="16.20" height="16.17" fill="#ffbc77"/><rect x="1014.10" y="974.07" width="48.00" height="16.17" fill="#ffbc78"/><rect x="584.80" y="958.20" width="16.20" height="16.17" fill="#301e13"/><rect x="600.70" y="958.20" width="16.20" height="16.17" fill="#2e1d12"/><rect x="616.60" y="958.20" width="16.20" height="16.17" fill="#2d1c12"/><rect x="632.50" y="958.20" width="16.20" height="16.17" fill="#2a1b11"/><rect x="648.40" y="958.20" width="16.20" height="16.17" fill="#271810"/><rect x="664.30" y="958.20" width="16.20" height="16.17" fill="#21150d"/><rect x="680.20" y="958.20" width="16.20" height="16.17" fill="#19100a"/><rect x="696.10" y="958.20" width="16.20" height="16.17" fill="#0e0906"/><rect x="712.00" y="958.20" width="16.20" height="16.17" fill="#000000"/><rect x="727.90" y="958.20" width="16.20" height="16.17" fill="#180f09"/><rect x="743.80" y="958.20" width="16.20" height="16.17" fill="#352115"/><rect x="759.70" y="958.20" width="16.20" height="16.17" fill="#4b2f1e"/><rect x="775.60" y="958.20" width="16.20" height="16.17" fill="#69422a"/><rect x="791.50" y="958.20" width="16.20" height="16.17" fill="#7e4f32"/><rect x="807.40" y="958.20" width="16.20" height="16.17" fill="#9f633f"/><rect x="823.30" y="958.20" width="16.20" height="16.17" fill="#b37047"/><rect x="839.20" y="958.20" width="16.20" height="16.17" fill="#c67c4f"/><rect x="855.10" y="958.20" width="16.20" height="16.17" fill="#d68655"/><rect x="871.00" y="958.20" width="16.20" height="16.17" fill="#e7905c"/><rect x="886.90" y="958.20" width="16.20" height="16.17" fill="#f59962"/><rect x="902.80" y="958.20" width="16.20" height="16.17" fill="#ffa167"/><rect x="918.70" y="958.20" width="16.20" height="16.17" fill="#ffaa6c"/><rect x="934.60" y="958.20" width="16.20" height="16.17" fill="#ffae6f"/><rect x="950.50" y="958.20" width="16.20" height="16.17" fill="#ffb372"/><rect x="966.40" y="958.20" width="16.20" height="16.17" fill="#ffb573"/><rect x="982.30" y="958.20" width="32.10" height="16.17" fill="#ffb875"/><rect x="1014.10" y="958.20" width="32.10" height="16.17" fill="#ffb976"/><rect x="1045.90" y="958.20" width="16.20" height="16.17" fill="#ffba76"/><rect x="584.80" y="942.33" width="16.20" height="16.17" fill="#402819"/><rect x="600.70" y="942.33" width="16.20" height="16.17" fill="#3f2819"/><rect x="616.60" y="942.33" width="16.20" height="16.17" fill="#3f2719"/><rect x="632.50" y="942.33" width="16.20" height="16.17" fill="#3e2619"/><rect x="648.40" y="942.33" width="16.20" height="16.17" fill="#3b2518"/><rect x="664.30" y="942.33" width="16.20" height="16.17" fill="#372216"/><rect x="680.20" y="942.33" width="16.20" height="16.17" fill="#301e13"/><rect x="696.10" y="942.33" width="16.20" height="16.17" fill="#26180f"/><rect x="712.00" y="942.33" width="16.20" height="16.17" fill="#180f09"/><rect x="727.90" y="942.33" width="16.20" height="16.17" fill="#000000"/><rect x="743.80" y="942.33" width="16.20" height="16.17" fill="#1f130c"/><rect x="759.70" y="942.33" width="16.20" height="16.17" fill="#362216"/><rect x="775.60" y="942.33" width="16.20" height="16.17" fill="#543521"/><rect x="791.50" y="942.33" width="16.20" height="16.17" fill="#6a422a"/><rect x="807.40" y="942.33" width="16.20" height="16.17" fill="#8a5737"/><rect x="823.30" y="942.33" width="16.20" height="16.17" fill="#9f633f"/><rect x="839.20" y="942.33" width="16.20" height="16.17" fill="#b37047"/><rect x="855.10" y="942.33" width="16.20" height="16.17" fill="#c47a4e"/><rect x="871.00" y="942.33" width="16.20" height="16.17" fill="#d58555"/><rect x="886.90" y="942.33" width="16.20" height="16.17" fill="#e38e5a"/><rect x="902.80" y="942.33" width="16.20" height="16.17" fill="#f19660"/><rect x="918.70" y="942.33" width="16.20" height="16.17" fill="#ff9f65"/><rect x="934.60" y="942.33" width="16.20" height="16.17" fill="#ffa468"/><rect x="950.50" y="942.33" width="16.20" height="16.17" fill="#ffa96c"/><rect x="966.40" y="942.33" width="16.20" height="16.17" fill="#ffac6e"/><rect x="982.30" y="942.33" width="16.20" height="16.17" fill="#ffb070"/><rect x="998.20" y="942.33" width="16.20" height="16.17" fill="#ffb171"/><rect x="1014.10" y="942.33" width="16.20" height="16.17" fill="#ffb372"/><rect x="1030.00" y="942.33" width="16.20" height="16.17" fill="#ffb472"/><rect x="1045.90" y="942.33" width="16.20" height="16.17" fill="#ffb473"/><rect x="584.80" y="926.47" width="16.20" height="16.17" fill="#503220"/><rect x="600.70" y="926.47" width="16.20" height="16.17" fill="#513220"/><rect x="616.60" y="926.47" width="16.20" height="16.17" fill="#513320"/><rect x="632.50" y="926.47" width="16.20" height="16.17" fill="#523320"/><rect x="648.40" y="926.47" width="16.20" height="16.17" fill="#513320"/><rect x="664.30" y="926.47" width="16.20" height="16.17" fill="#4f311f"/><rect x="680.20" y="926.47" width="16.20" height="16.17" fill="#4a2e1e"/><rect x="696.10" y="926.47" width="16.20" height="16.17" fill="#42291a"/><rect x="712.00" y="926.47" width="16.20" height="16.17" fill="#352115"/><rect x="727.90" y="926.47" width="16.20" height="16.17" fill="#1f130c"/><rect x="743.80" y="926.47" width="16.20" height="16.17" fill="#000000"/><rect x="759.70" y="926.47" width="16.20" height="16.17" fill="#180f09"/><rect x="775.60" y="926.47" width="16.20" height="16.17" fill="#352115"/><rect x="791.50" y="926.47" width="16.20" height="16.17" fill="#4b2f1e"/><rect x="807.40" y="926.47" width="16.20" height="16.17" fill="#6c432b"/><rect x="823.30" y="926.47" width="16.20" height="16.17" fill="#805033"/><rect x="839.20" y="926.47" width="16.20" height="16.17" fill="#955d3b"/><rect x="855.10" y="926.47" width="16.20" height="16.17" fill="#a56742"/><rect x="871.00" y="926.47" width="16.20" height="16.17" fill="#b67248"/><rect x="886.90" y="926.47" width="16.20" height="16.17" fill="#c57b4e"/><rect x="902.80" y="926.47" width="16.20" height="16.17" fill="#d28354"/><rect x="918.70" y="926.47" width="16.20" height="16.17" fill="#e08c59"/><rect x="934.60" y="926.47" width="16.20" height="16.17" fill="#e8915c"/><rect x="950.50" y="926.47" width="16.20" height="16.17" fill="#f29760"/><rect x="966.40" y="926.47" width="16.20" height="16.17" fill="#f89b63"/><rect x="982.30" y="926.47" width="16.20" height="16.17" fill="#ffa066"/><rect x="998.20" y="926.47" width="16.20" height="16.17" fill="#ffa167"/><rect x="1014.10" y="926.47" width="16.20" height="16.17" fill="#ffa469"/><rect x="1030.00" y="926.47" width="16.20" height="16.17" fill="#ffa569"/><rect x="1045.90" y="926.47" width="16.20" height="16.17" fill="#ffa66a"/><rect x="584.80" y="910.60" width="16.20" height="16.17" fill="#603c26"/><rect x="600.70" y="910.60" width="16.20" height="16.17" fill="#613d27"/><rect x="616.60" y="910.60" width="16.20" height="16.17" fill="#623d27"/><rect x="632.50" y="910.60" width="32.10" height="16.17" fill="#643e28"/><rect x="664.30" y="910.60" width="16.20" height="16.17" fill="#633e28"/><rect x="680.20" y="910.60" width="16.20" height="16.17" fill="#603c26"/><rect x="696.10" y="910.60" width="16.20" height="16.17" fill="#583723"/><rect x="712.00" y="910.60" width="16.20" height="16.17" fill="#4b2f1e"/><rect x="727.90" y="910.60" width="16.20" height="16.17" fill="#362216"/><rect x="743.80" y="910.60" width="16.20" height="16.17" fill="#180f09"/><rect x="759.70" y="910.60" width="16.20" height="16.17" fill="#000000"/><rect x="775.60" y="910.60" width="16.20" height="16.17" fill="#1e130c"/><rect x="791.50" y="910.60" width="16.20" height="16.17" fill="#332014"/><rect x="807.40" y="910.60" width="16.20" height="16.17" fill="#543421"/><rect x="823.30" y="910.60" width="16.20" height="16.17" fill="#684129"/><rect x="839.20" y="910.60" width="16.20" height="16.17" fill="#7d4e32"/><rect x="855.10" y="910.60" width="16.20" height="16.17" fill="#8d5838"/><rect x="871.00" y="910.60" width="16.20" height="16.17" fill="#9e633f"/><rect x="886.90" y="910.60" width="16.20" height="16.17" fill="#ad6c45"/><rect x="902.80" y="910.60" width="16.20" height="16.17" fill="#ba744a"/><rect x="918.70" y="910.60" width="16.20" height="16.17" fill="#c97d50"/><rect x="934.60" y="910.60" width="16.20" height="16.17" fill="#d08253"/><rect x="950.50" y="910.60" width="16.20" height="16.17" fill="#db8957"/><rect x="966.40" y="910.60" width="16.20" height="16.17" fill="#e18d5a"/><rect x="982.30" y="910.60" width="16.20" height="16.17" fill="#eb935e"/><rect x="998.20" y="910.60" width="16.20" height="16.17" fill="#ee955f"/><rect x="1014.10" y="910.60" width="16.20" height="16.17" fill="#f49861"/><rect x="1030.00" y="910.60" width="16.20" height="16.17" fill="#f59961"/><rect x="1045.90" y="910.60" width="16.20" height="16.17" fill="#f79b62"/><rect x="584.80" y="894.73" width="16.20" height="16.17" fill="#7a4c30"/><rect x="600.70" y="894.73" width="16.20" height="16.17" fill="#7c4d31"/><rect x="616.60" y="894.73" width="16.20" height="16.17" fill="#7d4e32"/><rect x="632.50" y="894.73" width="16.20" height="16.17" fill="#7f4f33"/><rect x="648.40" y="894.73" width="32.10" height="16.17" fill="#805033"/><rect x="680.20" y="894.73" width="16.20" height="16.17" fill="#7d4e32"/><rect x="696.10" y="894.73" width="16.20" height="16.17" fill="#764a2f"/><rect x="712.00" y="894.73" width="16.20" height="16.17" fill="#69422a"/><rect x="727.90" y="894.73" width="16.20" height="16.17" fill="#543521"/><rect x="743.80" y="894.73" width="16.20" height="16.17" fill="#352115"/><rect x="759.70" y="894.73" width="16.20" height="16.17" fill="#1e130c"/><rect x="775.60" y="894.73" width="16.20" height="16.17" fill="#000000"/><rect x="791.50" y="894.73" width="16.20" height="16.17" fill="#160e09"/><rect x="807.40" y="894.73" width="16.20" height="16.17" fill="#362216"/><rect x="823.30" y="894.73" width="16.20" height="16.17" fill="#4a2f1e"/><rect x="839.20" y="894.73" width="16.20" height="16.17" fill="#613c26"/><rect x="855.10" y="894.73" width="16.20" height="16.17" fill="#71462d"/><rect x="871.00" y="894.73" width="16.20" height="16.17" fill="#835234"/><rect x="886.90" y="894.73" width="16.20" height="16.17" fill="#915b3a"/><rect x="902.80" y="894.73" width="16.20" height="16.17" fill="#9e633f"/><rect x="918.70" y="894.73" width="16.20" height="16.17" fill="#ad6c45"/><rect x="934.60" y="894.73" width="16.20" height="16.17" fill="#b67248"/><rect x="950.50" y="894.73" width="16.20" height="16.17" fill="#c1794d"/><rect x="966.40" y="894.73" width="16.20" height="16.17" fill="#ca7e50"/><rect x="982.30" y="894.73" width="16.20" height="16.17" fill="#d68655"/><rect x="998.20" y="894.73" width="16.20" height="16.17" fill="#da8857"/><rect x="1014.10" y="894.73" width="16.20" height="16.17" fill="#e18d59"/><rect x="1030.00" y="894.73" width="16.20" height="16.17" fill="#e38e5a"/><rect x="1045.90" y="894.73" width="16.20" height="16.17" fill="#e6905b"/><rect x="584.80" y="878.87" width="16.20" height="16.17" fill="#8a5637"/><rect x="600.70" y="878.87" width="16.20" height="16.17" fill="#8c5838"/><rect x="616.60" y="878.87" width="16.20" height="16.17" fill="#8e5939"/><rect x="632.50" y="878.87" width="16.20" height="16.17" fill="#915a3a"/><rect x="648.40" y="878.87" width="16.20" height="16.17" fill="#925b3a"/><rect x="664.30" y="878.87" width="16.20" height="16.17" fill="#935c3a"/><rect x="680.20" y="878.87" width="16.20" height="16.17" fill="#915a3a"/><rect x="696.10" y="878.87" width="16.20" height="16.17" fill="#8a5637"/><rect x="712.00" y="878.87" width="16.20" height="16.17" fill="#7e4f32"/><rect x="727.90" y="878.87" width="16.20" height="16.17" fill="#6a422a"/><rect x="743.80" y="878.87" width="16.20" height="16.17" fill="#4b2f1e"/><rect x="759.70" y="878.87" width="16.20" height="16.17" fill="#332014"/><rect x="775.60" y="878.87" width="16.20" height="16.17" fill="#160e09"/><rect x="791.50" y="878.87" width="16.20" height="16.17" fill="#000000"/><rect x="807.40" y="878.87" width="16.20" height="16.17" fill="#20140d"/><rect x="823.30" y="878.87" width="16.20" height="16.17" fill="#342115"/><rect x="839.20" y="878.87" width="16.20" height="16.17" fill="#4a2e1e"/><rect x="855.10" y="878.87" width="16.20" height="16.17" fill="#5a3824"/><rect x="871.00" y="878.87" width="16.20" height="16.17" fill="#6c442b"/><rect x="886.90" y="878.87" width="16.20" height="16.17" fill="#7b4d31"/><rect x="902.80" y="878.87" width="16.20" height="16.17" fill="#885536"/><rect x="918.70" y="878.87" width="16.20" height="16.17" fill="#975e3c"/><rect x="934.60" y="878.87" width="16.20" height="16.17" fill="#9f643f"/><rect x="950.50" y="878.87" width="16.20" height="16.17" fill="#ab6b44"/><rect x="966.40" y="878.87" width="16.20" height="16.17" fill="#b57148"/><rect x="982.30" y="878.87" width="16.20" height="16.17" fill="#c2794d"/><rect x="998.20" y="878.87" width="16.20" height="16.17" fill="#c77c4f"/><rect x="1014.10" y="878.87" width="16.20" height="16.17" fill="#cf8152"/><rect x="1030.00" y="878.87" width="16.20" height="16.17" fill="#d18253"/><rect x="1045.90" y="878.87" width="16.20" height="16.17" fill="#d48554"/><rect x="584.80" y="863.00" width="16.20" height="16.17" fill="#a76943"/><rect x="600.70" y="863.00" width="16.20" height="16.17" fill="#aa6a44"/><rect x="616.60" y="863.00" width="16.20" height="16.17" fill="#ac6c45"/><rect x="632.50" y="863.00" width="16.20" height="16.17" fill="#af6d46"/><rect x="648.40" y="863.00" width="16.20" height="16.17" fill="#b16e46"/><rect x="664.30" y="863.00" width="16.20" height="16.17" fill="#b26f47"/><rect x="680.20" y="863.00" width="16.20" height="16.17" fill="#b16e46"/><rect x="696.10" y="863.00" width="16.20" height="16.17" fill="#ab6b44"/><rect x="712.00" y="863.00" width="16.20" height="16.17" fill="#9f633f"/><rect x="727.90" y="863.00" width="16.20" height="16.17" fill="#8a5737"/><rect x="743.80" y="863.00" width="16.20" height="16.17" fill="#6c432b"/><rect x="759.70" y="863.00" width="16.20" height="16.17" fill="#543421"/><rect x="775.60" y="863.00" width="16.20" height="16.17" fill="#362216"/><rect x="791.50" y="863.00" width="16.20" height="16.17" fill="#20140d"/><rect x="807.40" y="863.00" width="16.20" height="16.17" fill="#000000"/><rect x="823.30" y="863.00" width="16.20" height="16.17" fill="#140d08"/><rect x="839.20" y="863.00" width="16.20" height="16.17" fill="#2d1c12"/><rect x="855.10" y="863.00" width="16.20" height="16.17" fill="#3c2618"/><rect x="871.00" y="863.00" width="16.20" height="16.17" fill="#4f3220"/><rect x="886.90" y="863.00" width="16.20" height="16.17" fill="#5d3a25"/><rect x="902.80" y="863.00" width="16.20" height="16.17" fill="#6b432a"/><rect x="918.70" y="863.00" width="16.20" height="16.17" fill="#7a4c31"/><rect x="934.60" y="863.00" width="16.20" height="16.17" fill="#845234"/><rect x="950.50" y="863.00" width="16.20" height="16.17" fill="#915b3a"/><rect x="966.40" y="863.00" width="16.20" height="16.17" fill="#9d623e"/><rect x="982.30" y="863.00" width="16.20" height="16.17" fill="#ad6c45"/><rect x="998.20" y="863.00" width="16.20" height="16.17" fill="#b37047"/><rect x="1014.10" y="863.00" width="16.20" height="16.17" fill="#bc764b"/><rect x="1030.00" y="863.00" width="16.20" height="16.17" fill="#bf774c"/><rect x="1045.90" y="863.00" width="16.20" height="16.17" fill="#c37a4e"/><rect x="584.80" y="847.13" width="16.20" height="16.17" fill="#b87349"/><rect x="600.70" y="847.13" width="16.20" height="16.17" fill="#bb754a"/><rect x="616.60" y="847.13" width="16.20" height="16.17" fill="#bd764b"/><rect x="632.50" y="847.13" width="16.20" height="16.17" fill="#c1784d"/><rect x="648.40" y="847.13" width="16.20" height="16.17" fill="#c37a4e"/><rect x="664.30" y="847.13" width="16.20" height="16.17" fill="#c57b4e"/><rect x="680.20" y="847.13" width="16.20" height="16.17" fill="#c47a4e"/><rect x="696.10" y="847.13" width="16.20" height="16.17" fill="#be774c"/><rect x="712.00" y="847.13" width="16.20" height="16.17" fill="#b37047"/><rect x="727.90" y="847.13" width="16.20" height="16.17" fill="#9f633f"/><rect x="743.80" y="847.13" width="16.20" height="16.17" fill="#805033"/><rect x="759.70" y="847.13" width="16.20" height="16.17" fill="#684129"/><rect x="775.60" y="847.13" width="16.20" height="16.17" fill="#4a2f1e"/><rect x="791.50" y="847.13" width="16.20" height="16.17" fill="#342115"/><rect x="807.40" y="847.13" width="16.20" height="16.17" fill="#140d08"/><rect x="823.30" y="847.13" width="16.20" height="16.17" fill="#000000"/><rect x="839.20" y="847.13" width="16.20" height="16.17" fill="#19100a"/><rect x="855.10" y="847.13" width="16.20" height="16.17" fill="#291910"/><rect x="871.00" y="847.13" width="16.20" height="16.17" fill="#3c2518"/><rect x="886.90" y="847.13" width="16.20" height="16.17" fill="#4a2e1d"/><rect x="902.80" y="847.13" width="16.20" height="16.17" fill="#573623"/><rect x="918.70" y="847.13" width="16.20" height="16.17" fill="#664029"/><rect x="934.60" y="847.13" width="16.20" height="16.17" fill="#70462d"/><rect x="950.50" y="847.13" width="16.20" height="16.17" fill="#7f4f33"/><rect x="966.40" y="847.13" width="16.20" height="16.17" fill="#8b5737"/><rect x="982.30" y="847.13" width="16.20" height="16.17" fill="#9d623f"/><rect x="998.20" y="847.13" width="16.20" height="16.17" fill="#a46641"/><rect x="1014.10" y="847.13" width="16.20" height="16.17" fill="#ae6d45"/><rect x="1030.00" y="847.13" width="16.20" height="16.17" fill="#b06e46"/><rect x="1045.90" y="847.13" width="16.20" height="16.17" fill="#b57148"/><rect x="584.80" y="831.27" width="16.20" height="16.17" fill="#c67c4f"/><rect x="600.70" y="831.27" width="16.20" height="16.17" fill="#c97e50"/><rect x="616.60" y="831.27" width="16.20" height="16.17" fill="#cc7f51"/><rect x="632.50" y="831.27" width="16.20" height="16.17" fill="#d08253"/><rect x="648.40" y="831.27" width="16.20" height="16.17" fill="#d28354"/><rect x="664.30" y="831.27" width="32.10" height="16.17" fill="#d58555"/><rect x="696.10" y="831.27" width="16.20" height="16.17" fill="#d18253"/><rect x="712.00" y="831.27" width="16.20" height="16.17" fill="#c67c4f"/><rect x="727.90" y="831.27" width="16.20" height="16.17" fill="#b37047"/><rect x="743.80" y="831.27" width="16.20" height="16.17" fill="#955d3b"/><rect x="759.70" y="831.27" width="16.20" height="16.17" fill="#7d4e32"/><rect x="775.60" y="831.27" width="16.20" height="16.17" fill="#613c26"/><rect x="791.50" y="831.27" width="16.20" height="16.17" fill="#4a2e1e"/><rect x="807.40" y="831.27" width="16.20" height="16.17" fill="#2d1c12"/><rect x="823.30" y="831.27" width="16.20" height="16.17" fill="#19100a"/><rect x="839.20" y="831.27" width="16.20" height="16.17" fill="#000000"/><rect x="855.10" y="831.27" width="16.20" height="16.17" fill="#100a06"/><rect x="871.00" y="831.27" width="16.20" height="16.17" fill="#22160e"/><rect x="886.90" y="831.27" width="16.20" height="16.17" fill="#301e13"/><rect x="902.80" y="831.27" width="16.20" height="16.17" fill="#3d2618"/><rect x="918.70" y="831.27" width="16.20" height="16.17" fill="#4c301e"/><rect x="934.60" y="831.27" width="16.20" height="16.17" fill="#563622"/><rect x="950.50" y="831.27" width="16.20" height="16.17" fill="#653f28"/><rect x="966.40" y="831.27" width="16.20" height="16.17" fill="#71472d"/><rect x="982.30" y="831.27" width="16.20" height="16.17" fill="#845335"/><rect x="998.20" y="831.27" width="16.20" height="16.17" fill="#8c5738"/><rect x="1014.10" y="831.27" width="16.20" height="16.17" fill="#965e3c"/><rect x="1030.00" y="831.27" width="16.20" height="16.17" fill="#995f3d"/><rect x="1045.90" y="831.27" width="16.20" height="16.17" fill="#9e633f"/><rect x="584.80" y="815.40" width="16.20" height="16.17" fill="#d38454"/><rect x="600.70" y="815.40" width="16.20" height="16.17" fill="#d78656"/><rect x="616.60" y="815.40" width="16.20" height="16.17" fill="#da8857"/><rect x="632.50" y="815.40" width="16.20" height="16.17" fill="#de8b58"/><rect x="648.40" y="815.40" width="16.20" height="16.17" fill="#e18d5a"/><rect x="664.30" y="815.40" width="32.10" height="16.17" fill="#e58f5b"/><rect x="696.10" y="815.40" width="16.20" height="16.17" fill="#e18c59"/><rect x="712.00" y="815.40" width="16.20" height="16.17" fill="#d68655"/><rect x="727.90" y="815.40" width="16.20" height="16.17" fill="#c47a4e"/><rect x="743.80" y="815.40" width="16.20" height="16.17" fill="#a56742"/><rect x="759.70" y="815.40" width="16.20" height="16.17" fill="#8d5838"/><rect x="775.60" y="815.40" width="16.20" height="16.17" fill="#71462d"/><rect x="791.50" y="815.40" width="16.20" height="16.17" fill="#5a3824"/><rect x="807.40" y="815.40" width="16.20" height="16.17" fill="#3c2618"/><rect x="823.30" y="815.40" width="16.20" height="16.17" fill="#291910"/><rect x="839.20" y="815.40" width="16.20" height="16.17" fill="#100a06"/><rect x="855.10" y="815.40" width="16.20" height="16.17" fill="#000000"/><rect x="871.00" y="815.40" width="16.20" height="16.17" fill="#130c08"/><rect x="886.90" y="815.40" width="16.20" height="16.17" fill="#21150d"/><rect x="902.80" y="815.40" width="16.20" height="16.17" fill="#2e1d12"/><rect x="918.70" y="815.40" width="16.20" height="16.17" fill="#3d2618"/><rect x="934.60" y="815.40" width="16.20" height="16.17" fill="#472d1c"/><rect x="950.50" y="815.40" width="16.20" height="16.17" fill="#573623"/><rect x="966.40" y="815.40" width="16.20" height="16.17" fill="#643f28"/><rect x="982.30" y="815.40" width="16.20" height="16.17" fill="#794b30"/><rect x="998.20" y="815.40" width="16.20" height="16.17" fill="#805033"/><rect x="1014.10" y="815.40" width="16.20" height="16.17" fill="#8b5737"/><rect x="1030.00" y="815.40" width="16.20" height="16.17" fill="#8e5939"/><rect x="1045.90" y="815.40" width="16.20" height="16.17" fill="#945c3b"/><rect x="584.80" y="799.53" width="16.20" height="16.17" fill="#e08c59"/><rect x="600.70" y="799.53" width="16.20" height="16.17" fill="#e48e5b"/><rect x="616.60" y="799.53" width="16.20" height="16.17" fill="#e7905c"/><rect x="632.50" y="799.53" width="16.20" height="16.17" fill="#ec935e"/><rect x="648.40" y="799.53" width="16.20" height="16.17" fill="#ef955f"/><rect x="664.30" y="799.53" width="16.20" height="16.17" fill="#f39861"/><rect x="680.20" y="799.53" width="16.20" height="16.17" fill="#f49961"/><rect x="696.10" y="799.53" width="16.20" height="16.17" fill="#f09660"/><rect x="712.00" y="799.53" width="16.20" height="16.17" fill="#e7905c"/><rect x="727.90" y="799.53" width="16.20" height="16.17" fill="#d58555"/><rect x="743.80" y="799.53" width="16.20" height="16.17" fill="#b67248"/><rect x="759.70" y="799.53" width="16.20" height="16.17" fill="#9e633f"/><rect x="775.60" y="799.53" width="16.20" height="16.17" fill="#835234"/><rect x="791.50" y="799.53" width="16.20" height="16.17" fill="#6c442b"/><rect x="807.40" y="799.53" width="16.20" height="16.17" fill="#4f3220"/><rect x="823.30" y="799.53" width="16.20" height="16.17" fill="#3c2518"/><rect x="839.20" y="799.53" width="16.20" height="16.17" fill="#22160e"/><rect x="855.10" y="799.53" width="16.20" height="16.17" fill="#130c08"/><rect x="871.00" y="799.53" width="16.20" height="16.17" fill="#000000"/><rect x="886.90" y="799.53" width="16.20" height="16.17" fill="#0e0905"/><rect x="902.80" y="799.53" width="16.20" height="16.17" fill="#1b110b"/><rect x="918.70" y="799.53" width="16.20" height="16.17" fill="#2a1a11"/><rect x="934.60" y="799.53" width="16.20" height="16.17" fill="#342015"/><rect x="950.50" y="799.53" width="16.20" height="16.17" fill="#442a1b"/><rect x="966.40" y="799.53" width="16.20" height="16.17" fill="#523320"/><rect x="982.30" y="799.53" width="16.20" height="16.17" fill="#674029"/><rect x="998.20" y="799.53" width="16.20" height="16.17" fill="#6f452c"/><rect x="1014.10" y="799.53" width="16.20" height="16.17" fill="#7b4d31"/><rect x="1030.00" y="799.53" width="16.20" height="16.17" fill="#7e4f32"/><rect x="1045.90" y="799.53" width="16.20" height="16.17" fill="#845234"/><rect x="584.80" y="783.67" width="16.20" height="16.17" fill="#ec945e"/><rect x="600.70" y="783.67" width="16.20" height="16.17" fill="#f09660"/><rect x="616.60" y="783.67" width="16.20" height="16.17" fill="#f49961"/><rect x="632.50" y="783.67" width="16.20" height="16.17" fill="#f99c63"/><rect x="648.40" y="783.67" width="16.20" height="16.17" fill="#fd9e65"/><rect x="664.30" y="783.67" width="16.20" height="16.17" fill="#ffa166"/><rect x="680.20" y="783.67" width="16.20" height="16.17" fill="#ffa267"/><rect x="696.10" y="783.67" width="16.20" height="16.17" fill="#ff9f65"/><rect x="712.00" y="783.67" width="16.20" height="16.17" fill="#f59962"/><rect x="727.90" y="783.67" width="16.20" height="16.17" fill="#e38e5a"/><rect x="743.80" y="783.67" width="16.20" height="16.17" fill="#c57b4e"/><rect x="759.70" y="783.67" width="16.20" height="16.17" fill="#ad6c45"/><rect x="775.60" y="783.67" width="16.20" height="16.17" fill="#915b3a"/><rect x="791.50" y="783.67" width="16.20" height="16.17" fill="#7b4d31"/><rect x="807.40" y="783.67" width="16.20" height="16.17" fill="#5d3a25"/><rect x="823.30" y="783.67" width="16.20" height="16.17" fill="#4a2e1d"/><rect x="839.20" y="783.67" width="16.20" height="16.17" fill="#301e13"/><rect x="855.10" y="783.67" width="16.20" height="16.17" fill="#21150d"/><rect x="871.00" y="783.67" width="16.20" height="16.17" fill="#0e0905"/><rect x="886.90" y="783.67" width="16.20" height="16.17" fill="#000000"/><rect x="902.80" y="783.67" width="16.20" height="16.17" fill="#0d0805"/><rect x="918.70" y="783.67" width="16.20" height="16.17" fill="#1c120b"/><rect x="934.60" y="783.67" width="16.20" height="16.17" fill="#271810"/><rect x="950.50" y="783.67" width="16.20" height="16.17" fill="#382316"/><rect x="966.40" y="783.67" width="16.20" height="16.17" fill="#472c1c"/><rect x="982.30" y="783.67" width="16.20" height="16.17" fill="#5e3a25"/><rect x="998.20" y="783.67" width="16.20" height="16.17" fill="#664029"/><rect x="1014.10" y="783.67" width="16.20" height="16.17" fill="#72472d"/><rect x="1030.00" y="783.67" width="16.20" height="16.17" fill="#75492f"/><rect x="1045.90" y="783.67" width="16.20" height="16.17" fill="#7b4d31"/><rect x="584.80" y="767.80" width="16.20" height="16.17" fill="#f79a62"/><rect x="600.70" y="767.80" width="16.20" height="16.17" fill="#fb9d64"/><rect x="616.60" y="767.80" width="16.20" height="16.17" fill="#ffa066"/><rect x="632.50" y="767.80" width="16.20" height="16.17" fill="#ffa368"/><rect x="648.40" y="767.80" width="16.20" height="16.17" fill="#ffa569"/><rect x="664.30" y="767.80" width="16.20" height="16.17" fill="#ffa96b"/><rect x="680.20" y="767.80" width="16.20" height="16.17" fill="#ffa96c"/><rect x="696.10" y="767.80" width="16.20" height="16.17" fill="#ffa76b"/><rect x="712.00" y="767.80" width="16.20" height="16.17" fill="#ffa167"/><rect x="727.90" y="767.80" width="16.20" height="16.17" fill="#f19660"/><rect x="743.80" y="767.80" width="16.20" height="16.17" fill="#d28354"/><rect x="759.70" y="767.80" width="16.20" height="16.17" fill="#ba744a"/><rect x="775.60" y="767.80" width="16.20" height="16.17" fill="#9e633f"/><rect x="791.50" y="767.80" width="16.20" height="16.17" fill="#885536"/><rect x="807.40" y="767.80" width="16.20" height="16.17" fill="#6b432a"/><rect x="823.30" y="767.80" width="16.20" height="16.17" fill="#573623"/><rect x="839.20" y="767.80" width="16.20" height="16.17" fill="#3d2618"/><rect x="855.10" y="767.80" width="16.20" height="16.17" fill="#2e1d12"/><rect x="871.00" y="767.80" width="16.20" height="16.17" fill="#1b110b"/><rect x="886.90" y="767.80" width="16.20" height="16.17" fill="#0d0805"/><rect x="902.80" y="767.80" width="16.20" height="16.17" fill="#000000"/><rect x="918.70" y="767.80" width="16.20" height="16.17" fill="#0f0a06"/><rect x="934.60" y="767.80" width="16.20" height="16.17" fill="#1b110b"/><rect x="950.50" y="767.80" width="16.20" height="16.17" fill="#2c1c12"/><rect x="966.40" y="767.80" width="16.20" height="16.17" fill="#3d2618"/><rect x="982.30" y="767.80" width="16.20" height="16.17" fill="#543522"/><rect x="998.20" y="767.80" width="16.20" height="16.17" fill="#5d3a25"/><rect x="1014.10" y="767.80" width="16.20" height="16.17" fill="#6a422a"/><rect x="1030.00" y="767.80" width="16.20" height="16.17" fill="#6d442b"/><rect x="1045.90" y="767.80" width="16.20" height="16.17" fill="#73482e"/><rect x="584.80" y="751.93" width="16.20" height="16.17" fill="#ffa167"/><rect x="600.70" y="751.93" width="16.20" height="16.17" fill="#ffa468"/><rect x="616.60" y="751.93" width="16.20" height="16.17" fill="#ffa76a"/><rect x="632.50" y="751.93" width="16.20" height="16.17" fill="#ffaa6c"/><rect x="648.40" y="751.93" width="16.20" height="16.17" fill="#ffad6e"/><rect x="664.30" y="751.93" width="16.20" height="16.17" fill="#ffb070"/><rect x="680.20" y="751.93" width="16.20" height="16.17" fill="#ffb271"/><rect x="696.10" y="751.93" width="16.20" height="16.17" fill="#ffb070"/><rect x="712.00" y="751.93" width="16.20" height="16.17" fill="#ffaa6c"/><rect x="727.90" y="751.93" width="16.20" height="16.17" fill="#ff9f65"/><rect x="743.80" y="751.93" width="16.20" height="16.17" fill="#e08c59"/><rect x="759.70" y="751.93" width="16.20" height="16.17" fill="#c97d50"/><rect x="775.60" y="751.93" width="16.20" height="16.17" fill="#ad6c45"/><rect x="791.50" y="751.93" width="16.20" height="16.17" fill="#975e3c"/><rect x="807.40" y="751.93" width="16.20" height="16.17" fill="#7a4c31"/><rect x="823.30" y="751.93" width="16.20" height="16.17" fill="#664029"/><rect x="839.20" y="751.93" width="16.20" height="16.17" fill="#4c301e"/><rect x="855.10" y="751.93" width="16.20" height="16.17" fill="#3d2618"/><rect x="871.00" y="751.93" width="16.20" height="16.17" fill="#2a1a11"/><rect x="886.90" y="751.93" width="16.20" height="16.17" fill="#1c120b"/><rect x="902.80" y="751.93" width="16.20" height="16.17" fill="#0f0a06"/><rect x="918.70" y="751.93" width="16.20" height="16.17" fill="#000000"/><rect x="934.60" y="751.93" width="16.20" height="16.17" fill="#0c0805"/><rect x="950.50" y="751.93" width="16.20" height="16.17" fill="#1e130c"/><rect x="966.40" y="751.93" width="16.20" height="16.17" fill="#2f1e13"/><rect x="982.30" y="751.93" width="16.20" height="16.17" fill="#482d1d"/><rect x="998.20" y="751.93" width="16.20" height="16.17" fill="#523321"/><rect x="1014.10" y="751.93" width="16.20" height="16.17" fill="#5e3b26"/><rect x="1030.00" y="751.93" width="16.20" height="16.17" fill="#613d27"/><rect x="1045.90" y="751.93" width="16.20" height="16.17" fill="#684129"/><rect x="584.80" y="736.07" width="16.20" height="16.17" fill="#ffa468"/><rect x="600.70" y="736.07" width="16.20" height="16.17" fill="#ffa76a"/><rect x="616.60" y="736.07" width="16.20" height="16.17" fill="#ffa96c"/><rect x="632.50" y="736.07" width="16.20" height="16.17" fill="#ffad6e"/><rect x="648.40" y="736.07" width="16.20" height="16.17" fill="#ffb070"/><rect x="664.30" y="736.07" width="16.20" height="16.17" fill="#ffb472"/><rect x="680.20" y="736.07" width="16.20" height="16.17" fill="#ffb573"/><rect x="696.10" y="736.07" width="16.20" height="16.17" fill="#ffb472"/><rect x="712.00" y="736.07" width="16.20" height="16.17" fill="#ffae6f"/><rect x="727.90" y="736.07" width="16.20" height="16.17" fill="#ffa468"/><rect x="743.80" y="736.07" width="16.20" height="16.17" fill="#e8915c"/><rect x="759.70" y="736.07" width="16.20" height="16.17" fill="#d08253"/><rect x="775.60" y="736.07" width="16.20" height="16.17" fill="#b67248"/><rect x="791.50" y="736.07" width="16.20" height="16.17" fill="#9f643f"/><rect x="807.40" y="736.07" width="16.20" height="16.17" fill="#845234"/><rect x="823.30" y="736.07" width="16.20" height="16.17" fill="#70462d"/><rect x="839.20" y="736.07" width="16.20" height="16.17" fill="#563622"/><rect x="855.10" y="736.07" width="16.20" height="16.17" fill="#472d1c"/><rect x="871.00" y="736.07" width="16.20" height="16.17" fill="#342015"/><rect x="886.90" y="736.07" width="16.20" height="16.17" fill="#271810"/><rect x="902.80" y="736.07" width="16.20" height="16.17" fill="#1b110b"/><rect x="918.70" y="736.07" width="16.20" height="16.17" fill="#0c0805"/><rect x="934.60" y="736.07" width="16.20" height="16.17" fill="#000000"/><rect x="950.50" y="736.07" width="16.20" height="16.17" fill="#120b07"/><rect x="966.40" y="736.07" width="16.20" height="16.17" fill="#24160e"/><rect x="982.30" y="736.07" width="16.20" height="16.17" fill="#3d2618"/><rect x="998.20" y="736.07" width="16.20" height="16.17" fill="#462c1c"/><rect x="1014.10" y="736.07" width="16.20" height="16.17" fill="#533421"/><rect x="1030.00" y="736.07" width="16.20" height="16.17" fill="#563622"/><rect x="1045.90" y="736.07" width="16.20" height="16.17" fill="#5d3a25"/><rect x="584.80" y="720.20" width="16.20" height="16.17" fill="#ffa66a"/><rect x="600.70" y="720.20" width="16.20" height="16.17" fill="#ffa96c"/><rect x="616.60" y="720.20" width="16.20" height="16.17" fill="#ffac6e"/><rect x="632.50" y="720.20" width="16.20" height="16.17" fill="#ffb070"/><rect x="648.40" y="720.20" width="16.20" height="16.17" fill="#ffb372"/><rect x="664.30" y="720.20" width="16.20" height="16.17" fill="#ffb774"/><rect x="680.20" y="720.20" width="16.20" height="16.17" fill="#ffb976"/><rect x="696.10" y="720.20" width="16.20" height="16.17" fill="#ffb875"/><rect x="712.00" y="720.20" width="16.20" height="16.17" fill="#ffb372"/><rect x="727.90" y="720.20" width="16.20" height="16.17" fill="#ffa96c"/><rect x="743.80" y="720.20" width="16.20" height="16.17" fill="#f29760"/><rect x="759.70" y="720.20" width="16.20" height="16.17" fill="#db8957"/><rect x="775.60" y="720.20" width="16.20" height="16.17" fill="#c1794d"/><rect x="791.50" y="720.20" width="16.20" height="16.17" fill="#ab6b44"/><rect x="807.40" y="720.20" width="16.20" height="16.17" fill="#915b3a"/><rect x="823.30" y="720.20" width="16.20" height="16.17" fill="#7f4f33"/><rect x="839.20" y="720.20" width="16.20" height="16.17" fill="#653f28"/><rect x="855.10" y="720.20" width="16.20" height="16.17" fill="#573623"/><rect x="871.00" y="720.20" width="16.20" height="16.17" fill="#442a1b"/><rect x="886.90" y="720.20" width="16.20" height="16.17" fill="#382316"/><rect x="902.80" y="720.20" width="16.20" height="16.17" fill="#2c1c12"/><rect x="918.70" y="720.20" width="16.20" height="16.17" fill="#1e130c"/><rect x="934.60" y="720.20" width="16.20" height="16.17" fill="#120b07"/><rect x="950.50" y="720.20" width="16.20" height="16.17" fill="#000000"/><rect x="966.40" y="720.20" width="16.20" height="16.17" fill="#120b07"/><rect x="982.30" y="720.20" width="16.20" height="16.17" fill="#2b1b11"/><rect x="998.20" y="720.20" width="16.20" height="16.17" fill="#352115"/><rect x="1014.10" y="720.20" width="16.20" height="16.17" fill="#41291a"/><rect x="1030.00" y="720.20" width="16.20" height="16.17" fill="#452b1b"/><rect x="1045.90" y="720.20" width="16.20" height="16.17" fill="#4b2f1e"/><rect x="584.80" y="704.33" width="16.20" height="16.17" fill="#ffa66a"/><rect x="600.70" y="704.33" width="16.20" height="16.17" fill="#ffa96c"/><rect x="616.60" y="704.33" width="16.20" height="16.17" fill="#ffac6e"/><rect x="632.50" y="704.33" width="16.20" height="16.17" fill="#ffb070"/><rect x="648.40" y="704.33" width="16.20" height="16.17" fill="#ffb372"/><rect x="664.30" y="704.33" width="16.20" height="16.17" fill="#ffb875"/><rect x="680.20" y="704.33" width="32.10" height="16.17" fill="#ffba76"/><rect x="712.00" y="704.33" width="16.20" height="16.17" fill="#ffb573"/><rect x="727.90" y="704.33" width="16.20" height="16.17" fill="#ffac6e"/><rect x="743.80" y="704.33" width="16.20" height="16.17" fill="#f89b63"/><rect x="759.70" y="704.33" width="16.20" height="16.17" fill="#e18d5a"/><rect x="775.60" y="704.33" width="16.20" height="16.17" fill="#ca7e50"/><rect x="791.50" y="704.33" width="16.20" height="16.17" fill="#b57148"/><rect x="807.40" y="704.33" width="16.20" height="16.17" fill="#9d623e"/><rect x="823.30" y="704.33" width="16.20" height="16.17" fill="#8b5737"/><rect x="839.20" y="704.33" width="16.20" height="16.17" fill="#71472d"/><rect x="855.10" y="704.33" width="16.20" height="16.17" fill="#643f28"/><rect x="871.00" y="704.33" width="16.20" height="16.17" fill="#523320"/><rect x="886.90" y="704.33" width="16.20" height="16.17" fill="#472c1c"/><rect x="902.80" y="704.33" width="16.20" height="16.17" fill="#3d2618"/><rect x="918.70" y="704.33" width="16.20" height="16.17" fill="#2f1e13"/><rect x="934.60" y="704.33" width="16.20" height="16.17" fill="#24160e"/><rect x="950.50" y="704.33" width="16.20" height="16.17" fill="#120b07"/><rect x="966.40" y="704.33" width="16.20" height="16.17" fill="#000000"/><rect x="982.30" y="704.33" width="16.20" height="16.17" fill="#1a100a"/><rect x="998.20" y="704.33" width="16.20" height="16.17" fill="#23160e"/><rect x="1014.10" y="704.33" width="16.20" height="16.17" fill="#301e13"/><rect x="1030.00" y="704.33" width="16.20" height="16.17" fill="#332014"/><rect x="1045.90" y="704.33" width="16.20" height="16.17" fill="#392417"/><rect x="584.80" y="688.47" width="16.20" height="16.17" fill="#ffa66a"/><rect x="600.70" y="688.47" width="16.20" height="16.17" fill="#ffa96c"/><rect x="616.60" y="688.47" width="16.20" height="16.17" fill="#ffac6e"/><rect x="632.50" y="688.47" width="16.20" height="16.17" fill="#ffb070"/><rect x="648.40" y="688.47" width="16.20" height="16.17" fill="#ffb472"/><rect x="664.30" y="688.47" width="16.20" height="16.17" fill="#ffb875"/><rect x="680.20" y="688.47" width="32.10" height="16.17" fill="#ffbb77"/><rect x="712.00" y="688.47" width="16.20" height="16.17" fill="#ffb875"/><rect x="727.90" y="688.47" width="16.20" height="16.17" fill="#ffb070"/><rect x="743.80" y="688.47" width="16.20" height="16.17" fill="#ffa066"/><rect x="759.70" y="688.47" width="16.20" height="16.17" fill="#eb935e"/><rect x="775.60" y="688.47" width="16.20" height="16.17" fill="#d68655"/><rect x="791.50" y="688.47" width="16.20" height="16.17" fill="#c2794d"/><rect x="807.40" y="688.47" width="16.20" height="16.17" fill="#ad6c45"/><rect x="823.30" y="688.47" width="16.20" height="16.17" fill="#9d623f"/><rect x="839.20" y="688.47" width="16.20" height="16.17" fill="#845335"/><rect x="855.10" y="688.47" width="16.20" height="16.17" fill="#794b30"/><rect x="871.00" y="688.47" width="16.20" height="16.17" fill="#674029"/><rect x="886.90" y="688.47" width="16.20" height="16.17" fill="#5e3a25"/><rect x="902.80" y="688.47" width="16.20" height="16.17" fill="#543522"/><rect x="918.70" y="688.47" width="16.20" height="16.17" fill="#482d1d"/><rect x="934.60" y="688.47" width="16.20" height="16.17" fill="#3d2618"/><rect x="950.50" y="688.47" width="16.20" height="16.17" fill="#2b1b11"/><rect x="966.40" y="688.47" width="16.20" height="16.17" fill="#1a100a"/><rect x="982.30" y="688.47" width="16.20" height="16.17" fill="#000000"/><rect x="998.20" y="688.47" width="16.20" height="16.17" fill="#0a0604"/><rect x="1014.10" y="688.47" width="16.20" height="16.17" fill="#160e09"/><rect x="1030.00" y="688.47" width="16.20" height="16.17" fill="#c97d50"/><rect x="1045.90" y="688.47" width="16.20" height="16.17" fill="#20140d"/><rect x="584.80" y="672.60" width="16.20" height="16.17" fill="#ffa66a"/><rect x="600.70" y="672.60" width="16.20" height="16.17" fill="#ffa96c"/><rect x="616.60" y="672.60" width="16.20" height="16.17" fill="#ffac6d"/><rect x="632.50" y="672.60" width="16.20" height="16.17" fill="#ffb070"/><rect x="648.40" y="672.60" width="16.20" height="16.17" fill="#ffb372"/><rect x="664.30" y="672.60" width="16.20" height="16.17" fill="#ffb875"/><rect x="680.20" y="672.60" width="16.20" height="16.17" fill="#ffbb77"/><rect x="696.10" y="672.60" width="16.20" height="16.17" fill="#ffbc77"/><rect x="712.00" y="672.60" width="16.20" height="16.17" fill="#ffb875"/><rect x="727.90" y="672.60" width="16.20" height="16.17" fill="#ffb171"/><rect x="743.80" y="672.60" width="16.20" height="16.17" fill="#ffa167"/><rect x="759.70" y="672.60" width="16.20" height="16.17" fill="#ee955f"/><rect x="775.60" y="672.60" width="16.20" height="16.17" fill="#da8857"/><rect x="791.50" y="672.60" width="16.20" height="16.17" fill="#c77c4f"/><rect x="807.40" y="672.60" width="16.20" height="16.17" fill="#b37047"/><rect x="823.30" y="672.60" width="16.20" height="16.17" fill="#a46641"/><rect x="839.20" y="672.60" width="16.20" height="16.17" fill="#8c5738"/><rect x="855.10" y="672.60" width="16.20" height="16.17" fill="#805033"/><rect x="871.00" y="672.60" width="16.20" height="16.17" fill="#6f452c"/><rect x="886.90" y="672.60" width="16.20" height="16.17" fill="#664029"/><rect x="902.80" y="672.60" width="16.20" height="16.17" fill="#5d3a25"/><rect x="918.70" y="672.60" width="16.20" height="16.17" fill="#523321"/><rect x="934.60" y="672.60" width="16.20" height="16.17" fill="#462c1c"/><rect x="950.50" y="672.60" width="16.20" height="16.17" fill="#352115"/><rect x="966.40" y="672.60" width="16.20" height="16.17" fill="#23160e"/><rect x="982.30" y="672.60" width="16.20" height="16.17" fill="#0a0604"/><rect x="998.20" y="672.60" width="16.20" height="16.17" fill="#000000"/><rect x="1014.10" y="672.60" width="16.20" height="16.17" fill="#0d0805"/><rect x="1030.00" y="672.60" width="16.20" height="16.17" fill="#100a06"/><rect x="1045.90" y="672.60" width="16.20" height="16.17" fill="#160e09"/><rect x="584.80" y="656.73" width="16.20" height="16.17" fill="#ffa66a"/><rect x="600.70" y="656.73" width="16.20" height="16.17" fill="#ffa96c"/><rect x="616.60" y="656.73" width="16.20" height="16.17" fill="#ffac6e"/><rect x="632.50" y="656.73" width="16.20" height="16.17" fill="#ffb070"/><rect x="648.40" y="656.73" width="16.20" height="16.17" fill="#ffb472"/><rect x="664.30" y="656.73" width="16.20" height="16.17" fill="#ffb875"/><rect x="680.20" y="656.73" width="16.20" height="16.17" fill="#ffbc77"/><rect x="696.10" y="656.73" width="16.20" height="16.17" fill="#ffbc78"/><rect x="712.00" y="656.73" width="16.20" height="16.17" fill="#ffb976"/><rect x="727.90" y="656.73" width="16.20" height="16.17" fill="#ffb372"/><rect x="743.80" y="656.73" width="16.20" height="16.17" fill="#ffa469"/><rect x="759.70" y="656.73" width="16.20" height="16.17" fill="#f49861"/><rect x="775.60" y="656.73" width="16.20" height="16.17" fill="#e18d59"/><rect x="791.50" y="656.73" width="16.20" height="16.17" fill="#cf8152"/><rect x="807.40" y="656.73" width="16.20" height="16.17" fill="#bc764b"/><rect x="823.30" y="656.73" width="16.20" height="16.17" fill="#ae6d45"/><rect x="839.20" y="656.73" width="16.20" height="16.17" fill="#965e3c"/><rect x="855.10" y="656.73" width="16.20" height="16.17" fill="#8b5737"/><rect x="871.00" y="656.73" width="16.20" height="16.17" fill="#7b4d31"/><rect x="886.90" y="656.73" width="16.20" height="16.17" fill="#72472d"/><rect x="902.80" y="656.73" width="16.20" height="16.17" fill="#6a422a"/><rect x="918.70" y="656.73" width="16.20" height="16.17" fill="#5e3b26"/><rect x="934.60" y="656.73" width="16.20" height="16.17" fill="#533421"/><rect x="950.50" y="656.73" width="16.20" height="16.17" fill="#41291a"/><rect x="966.40" y="656.73" width="16.20" height="16.17" fill="#301e13"/><rect x="982.30" y="656.73" width="16.20" height="16.17" fill="#160e09"/><rect x="998.20" y="656.73" width="16.20" height="16.17" fill="#0d0805"/><rect x="1014.10" y="656.73" width="16.20" height="16.17" fill="#000000"/><rect x="1030.00" y="656.73" width="16.20" height="16.17" fill="#030201"/><rect x="1045.90" y="656.73" width="16.20" height="16.17" fill="#0a0604"/><rect x="584.80" y="640.87" width="16.20" height="16.17" fill="#ffa66a"/><rect x="600.70" y="640.87" width="16.20" height="16.17" fill="#ffa96c"/><rect x="616.60" y="640.87" width="16.20" height="16.17" fill="#ffac6e"/><rect x="632.50" y="640.87" width="16.20" height="16.17" fill="#ffb070"/><rect x="648.40" y="640.87" width="16.20" height="16.17" fill="#ffb372"/><rect x="664.30" y="640.87" width="16.20" height="16.17" fill="#ffb875"/><rect x="680.20" y="640.87" width="16.20" height="16.17" fill="#ffbb77"/><rect x="696.10" y="640.87" width="16.20" height="16.17" fill="#ffbc78"/><rect x="712.00" y="640.87" width="16.20" height="16.17" fill="#ffb976"/><rect x="727.90" y="640.87" width="16.20" height="16.17" fill="#ffb472"/><rect x="743.80" y="640.87" width="16.20" height="16.17" fill="#ffa569"/><rect x="759.70" y="640.87" width="16.20" height="16.17" fill="#f59961"/><rect x="775.60" y="640.87" width="16.20" height="16.17" fill="#e38e5a"/><rect x="791.50" y="640.87" width="16.20" height="16.17" fill="#d18253"/><rect x="807.40" y="640.87" width="16.20" height="16.17" fill="#bf774c"/><rect x="823.30" y="640.87" width="16.20" height="16.17" fill="#b06e46"/><rect x="839.20" y="640.87" width="16.20" height="16.17" fill="#995f3d"/><rect x="855.10" y="640.87" width="16.20" height="16.17" fill="#8e5939"/><rect x="871.00" y="640.87" width="16.20" height="16.17" fill="#7e4f32"/><rect x="886.90" y="640.87" width="16.20" height="16.17" fill="#75492f"/><rect x="902.80" y="640.87" width="16.20" height="16.17" fill="#6d442b"/><rect x="918.70" y="640.87" width="16.20" height="16.17" fill="#613d27"/><rect x="934.60" y="640.87" width="16.20" height="16.17" fill="#563622"/><rect x="950.50" y="640.87" width="16.20" height="16.17" fill="#452b1b"/><rect x="966.40" y="640.87" width="16.20" height="16.17" fill="#332014"/><rect x="982.30" y="640.87" width="16.20" height="16.17" fill="#c97d50"/><rect x="998.20" y="640.87" width="16.20" height="16.17" fill="#100a06"/><rect x="1014.10" y="640.87" width="16.20" height="16.17" fill="#030201"/><rect x="1030.00" y="640.87" width="16.20" height="16.17" fill="#000000"/><rect x="1045.90" y="640.87" width="16.20" height="16.17" fill="#060403"/><rect x="584.80" y="625.00" width="16.20" height="16.17" fill="#ffa66a"/><rect x="600.70" y="625.00" width="16.20" height="16.17" fill="#ffa96c"/><rect x="616.60" y="625.00" width="16.20" height="16.17" fill="#ffac6d"/><rect x="632.50" y="625.00" width="16.20" height="16.17" fill="#ffb070"/><rect x="648.40" y="625.00" width="16.20" height="16.17" fill="#ffb372"/><rect x="664.30" y="625.00" width="16.20" height="16.17" fill="#ffb875"/><rect x="680.20" y="625.00" width="16.20" height="16.17" fill="#ffbb77"/><rect x="696.10" y="625.00" width="16.20" height="16.17" fill="#ffbc78"/><rect x="712.00" y="625.00" width="16.20" height="16.17" fill="#ffba76"/><rect x="727.90" y="625.00" width="16.20" height="16.17" fill="#ffb473"/><rect x="743.80" y="625.00" width="16.20" height="16.17" fill="#ffa66a"/><rect x="759.70" y="625.00" width="16.20" height="16.17" fill="#f79b62"/><rect x="775.60" y="625.00" width="16.20" height="16.17" fill="#e6905b"/><rect x="791.50" y="625.00" width="16.20" height="16.17" fill="#d48554"/><rect x="807.40" y="625.00" width="16.20" height="16.17" fill="#c37a4e"/><rect x="823.30" y="625.00" width="16.20" height="16.17" fill="#b57148"/><rect x="839.20" y="625.00" width="16.20" height="16.17" fill="#9e633f"/><rect x="855.10" y="625.00" width="16.20" height="16.17" fill="#945c3b"/><rect x="871.00" y="625.00" width="16.20" height="16.17" fill="#845234"/><rect x="886.90" y="625.00" width="16.20" height="16.17" fill="#7b4d31"/><rect x="902.80" y="625.00" width="16.20" height="16.17" fill="#73482e"/><rect x="918.70" y="625.00" width="16.20" height="16.17" fill="#684129"/><rect x="934.60" y="625.00" width="16.20" height="16.17" fill="#5d3a25"/><rect x="950.50" y="625.00" width="16.20" height="16.17" fill="#4b2f1e"/><rect x="966.40" y="625.00" width="16.20" height="16.17" fill="#392417"/><rect x="982.30" y="625.00" width="16.20" height="16.17" fill="#20140d"/><rect x="998.20" y="625.00" width="16.20" height="16.17" fill="#160e09"/><rect x="1014.10" y="625.00" width="16.20" height="16.17" fill="#0a0604"/><rect x="1030.00" y="625.00" width="16.20" height="16.17" fill="#060403"/><rect x="1045.90" y="625.00" width="16.20" height="16.17" fill="#000000"/></g>
<rect x="1084.5" y="625.0" width="18.2" height="476.0" fill="url(#gCopper)"/>
<text x="823.8" y="611.5" font-family="'Liberation Sans', Arial, Helvetica, sans-serif" font-size="35.5" text-anchor="middle" textLength="163" lengthAdjust="spacingAndGlyphs" fill="#000">Amplitude</text>
<text x="586.1" y="1132.7" font-family="'Liberation Sans', Arial, Helvetica, sans-serif" font-size="23.3" text-anchor="middle" fill="#111">15</text>
<text x="578.0" y="1110.8" font-family="'Liberation Sans', Arial, Helvetica, sans-serif" font-size="23.3" text-anchor="end" fill="#111">15</text>
<text x="665.6" y="1132.7" font-family="'Liberation Sans', Arial, Helvetica, sans-serif" font-size="23.3" text-anchor="middle" fill="#111">20</text>
<text x="578.0" y="1031.5" font-family="'Liberation Sans', Arial, Helvetica, sans-serif" font-size="23.3" text-anchor="end" fill="#111">20</text>
<text x="745.1" y="1132.7" font-family="'Liberation Sans', Arial, Helvetica, sans-serif" font-size="23.3" text-anchor="middle" fill="#111">25</text>
<text x="578.0" y="952.1" font-family="'Liberation Sans', Arial, Helvetica, sans-serif" font-size="23.3" text-anchor="end" fill="#111">25</text>
<text x="824.6" y="1132.7" font-family="'Liberation Sans', Arial, Helvetica, sans-serif" font-size="23.3" text-anchor="middle" fill="#111">30</text>
<text x="578.0" y="872.8" font-family="'Liberation Sans', Arial, Helvetica, sans-serif" font-size="23.3" text-anchor="end" fill="#111">30</text>
<text x="904.1" y="1132.7" font-family="'Liberation Sans', Arial, Helvetica, sans-serif" font-size="23.3" text-anchor="middle" fill="#111">35</text>
<text x="578.0" y="793.5" font-family="'Liberation Sans', Arial, Helvetica, sans-serif" font-size="23.3" text-anchor="end" fill="#111">35</text>
<text x="983.6" y="1132.7" font-family="'Liberation Sans', Arial, Helvetica, sans-serif" font-size="23.3" text-anchor="middle" fill="#111">40</text>
<text x="578.0" y="714.1" font-family="'Liberation Sans', Arial, Helvetica, sans-serif" font-size="23.3" text-anchor="end" fill="#111">40</text>
<text x="1063.1" y="1132.7" font-family="'Liberation Sans', Arial, Helvetica, sans-serif" font-size="23.3" text-anchor="middle" fill="#111">45</text>
<text x="578.0" y="634.8" font-family="'Liberation Sans', Arial, Helvetica, sans-serif" font-size="23.3" text-anchor="end" fill="#111">45</text>
<text x="823.8" y="1174.5" font-family="'Liberation Sans', Arial, Helvetica, sans-serif" font-size="35.5" text-anchor="middle" textLength="487" lengthAdjust="spacingAndGlyphs" fill="#111">Ellipse major axis radius (μm)</text>
<text transform="translate(541,862.3) rotate(-90)" font-family="'Liberation Sans', Arial, Helvetica, sans-serif" font-size="36.7" text-anchor="middle" fill="#111">Ellipse minor axis radius (μm)</text>
<text x="1111.5" y="639.5" font-family="'Liberation Sans', Arial, Helvetica, sans-serif" font-size="36" fill="#111">1</text>
<text x="1113" y="1114.5" font-family="'Liberation Sans', Arial, Helvetica, sans-serif" font-size="35" fill="#111">0</text>
</g>
<g id="pe">
<g shape-rendering="crispEdges"><rect x="1219.60" y="1081.38" width="15.97" height="15.92" fill="#f9f8f9"/><rect x="1235.27" y="1081.38" width="15.97" height="15.92" fill="#f7f6f8"/><rect x="1250.94" y="1081.38" width="15.97" height="15.92" fill="#f1eef2"/><rect x="1266.61" y="1081.38" width="15.97" height="15.92" fill="#eae7ec"/><rect x="1282.28" y="1081.38" width="15.97" height="15.92" fill="#e3dfe6"/><rect x="1297.95" y="1081.38" width="15.97" height="15.92" fill="#dcd7e0"/><rect x="1313.62" y="1081.38" width="15.97" height="15.92" fill="#d7d1db"/><rect x="1329.29" y="1081.38" width="15.97" height="15.92" fill="#d1cbd6"/><rect x="1344.96" y="1081.38" width="15.97" height="15.92" fill="#ccc5d2"/><rect x="1360.63" y="1081.38" width="15.97" height="15.92" fill="#c7bfcd"/><rect x="1376.30" y="1081.38" width="15.97" height="15.92" fill="#c2b9c8"/><rect x="1391.97" y="1081.38" width="15.97" height="15.92" fill="#bdb3c4"/><rect x="1407.64" y="1081.38" width="15.97" height="15.92" fill="#b7acbe"/><rect x="1423.31" y="1081.38" width="15.97" height="15.92" fill="#b0a5b9"/><rect x="1438.98" y="1081.38" width="15.97" height="15.92" fill="#ab9fb4"/><rect x="1454.65" y="1081.38" width="15.97" height="15.92" fill="#a699af"/><rect x="1470.32" y="1081.38" width="15.97" height="15.92" fill="#9f91a9"/><rect x="1485.99" y="1081.38" width="15.97" height="15.92" fill="#9888a2"/><rect x="1501.66" y="1081.38" width="15.97" height="15.92" fill="#93839e"/><rect x="1517.33" y="1081.38" width="15.97" height="15.92" fill="#8e7d9a"/><rect x="1533.00" y="1081.38" width="15.97" height="15.92" fill="#897896"/><rect x="1548.67" y="1081.38" width="15.97" height="15.92" fill="#837291"/><rect x="1564.34" y="1081.38" width="15.97" height="15.92" fill="#7e6b8c"/><rect x="1580.01" y="1081.38" width="15.97" height="15.92" fill="#786587"/><rect x="1595.68" y="1081.38" width="15.97" height="15.92" fill="#756184"/><rect x="1611.35" y="1081.38" width="15.97" height="15.92" fill="#725d81"/><rect x="1627.02" y="1081.38" width="15.97" height="15.92" fill="#6e597e"/><rect x="1642.69" y="1081.38" width="15.97" height="15.92" fill="#6b557a"/><rect x="1658.36" y="1081.38" width="15.97" height="15.92" fill="#675177"/><rect x="1674.03" y="1081.38" width="15.97" height="15.92" fill="#644d74"/><rect x="1219.60" y="1065.75" width="15.97" height="15.92" fill="#89191d"/><rect x="1235.27" y="1065.75" width="15.97" height="15.92" fill="#861418"/><rect x="1250.94" y="1065.75" width="15.97" height="15.92" fill="#f9f8f9"/><rect x="1266.61" y="1065.75" width="15.97" height="15.92" fill="#eceaee"/><rect x="1282.28" y="1065.75" width="15.97" height="15.92" fill="#e5e1e8"/><rect x="1297.95" y="1065.75" width="15.97" height="15.92" fill="#ded9e1"/><rect x="1313.62" y="1065.75" width="15.97" height="15.92" fill="#d8d3dc"/><rect x="1329.29" y="1065.75" width="15.97" height="15.92" fill="#d3cdd8"/><rect x="1344.96" y="1065.75" width="15.97" height="15.92" fill="#cec7d3"/><rect x="1360.63" y="1065.75" width="15.97" height="15.92" fill="#c8c1ce"/><rect x="1376.30" y="1065.75" width="15.97" height="15.92" fill="#c3bac9"/><rect x="1391.97" y="1065.75" width="15.97" height="15.92" fill="#bdb4c4"/><rect x="1407.64" y="1065.75" width="15.97" height="15.92" fill="#b7acbe"/><rect x="1423.31" y="1065.75" width="15.97" height="15.92" fill="#afa3b7"/><rect x="1438.98" y="1065.75" width="15.97" height="15.92" fill="#a79ab0"/><rect x="1454.65" y="1065.75" width="15.97" height="15.92" fill="#a093ab"/><rect x="1470.32" y="1065.75" width="15.97" height="15.92" fill="#9a8ba4"/><rect x="1485.99" y="1065.75" width="15.97" height="15.92" fill="#92839e"/><rect x="1501.66" y="1065.75" width="15.97" height="15.92" fill="#8b7b98"/><rect x="1517.33" y="1065.75" width="15.97" height="15.92" fill="#867492"/><rect x="1533.00" y="1065.75" width="15.97" height="15.92" fill="#816e8e"/><rect x="1548.67" y="1065.75" width="15.97" height="15.92" fill="#7a6788"/><rect x="1564.34" y="1065.75" width="15.97" height="15.92" fill="#745f82"/><rect x="1580.01" y="1065.75" width="15.97" height="15.92" fill="#6e597e"/><rect x="1595.68" y="1065.75" width="15.97" height="15.92" fill="#6b557a"/><rect x="1611.35" y="1065.75" width="15.97" height="15.92" fill="#665076"/><rect x="1627.02" y="1065.75" width="15.97" height="15.92" fill="#614a71"/><rect x="1642.69" y="1065.75" width="15.97" height="15.92" fill="#5d456e"/><rect x="1658.36" y="1065.75" width="15.97" height="15.92" fill="#59416b"/><rect x="1674.03" y="1065.75" width="15.97" height="15.92" fill="#553d67"/><rect x="1219.60" y="1050.13" width="31.64" height="15.92" fill="#89191d"/><rect x="1250.94" y="1050.13" width="15.97" height="15.92" fill="#f5f3f6"/><rect x="1266.61" y="1050.13" width="15.97" height="15.92" fill="#eeecf0"/><rect x="1282.28" y="1050.13" width="15.97" height="15.92" fill="#e6e2e8"/><rect x="1297.95" y="1050.13" width="15.97" height="15.92" fill="#dfdbe3"/><rect x="1313.62" y="1050.13" width="15.97" height="15.92" fill="#dad5de"/><rect x="1329.29" y="1050.13" width="15.97" height="15.92" fill="#d5cfd9"/><rect x="1344.96" y="1050.13" width="15.97" height="15.92" fill="#d0c9d5"/><rect x="1360.63" y="1050.13" width="15.97" height="15.92" fill="#cac2d0"/><rect x="1376.30" y="1050.13" width="15.97" height="15.92" fill="#c4bbca"/><rect x="1391.97" y="1050.13" width="15.97" height="15.92" fill="#bdb4c4"/><rect x="1407.64" y="1050.13" width="15.97" height="15.92" fill="#b7acbe"/><rect x="1423.31" y="1050.13" width="15.97" height="15.92" fill="#ada1b6"/><rect x="1438.98" y="1050.13" width="15.97" height="15.92" fill="#a294ac"/><rect x="1454.65" y="1050.13" width="15.97" height="15.92" fill="#9b8ca6"/><rect x="1470.32" y="1050.13" width="15.97" height="15.92" fill="#94859f"/><rect x="1485.99" y="1050.13" width="15.97" height="15.92" fill="#8d7d99"/><rect x="1501.66" y="1050.13" width="15.97" height="15.92" fill="#867593"/><rect x="1517.33" y="1050.13" width="15.97" height="15.92" fill="#7f6d8d"/><rect x="1533.00" y="1050.13" width="15.97" height="15.92" fill="#786587"/><rect x="1548.67" y="1050.13" width="15.97" height="15.92" fill="#725d81"/><rect x="1564.34" y="1050.13" width="15.97" height="15.92" fill="#6b557a"/><rect x="1580.01" y="1050.13" width="15.97" height="15.92" fill="#644d74"/><rect x="1595.68" y="1050.13" width="15.97" height="15.92" fill="#5e476f"/><rect x="1611.35" y="1050.13" width="15.97" height="15.92" fill="#59416a"/><rect x="1627.02" y="1050.13" width="15.97" height="15.92" fill="#533a65"/><rect x="1642.69" y="1050.13" width="15.97" height="15.92" fill="#4e3561"/><rect x="1658.36" y="1050.13" width="15.97" height="15.92" fill="#4a2f5d"/><rect x="1674.03" y="1050.13" width="15.97" height="15.92" fill="#452a58"/><rect x="1219.60" y="1034.51" width="47.31" height="15.92" fill="#922b2e"/><rect x="1266.61" y="1034.51" width="15.97" height="15.92" fill="#c1b8c8"/><rect x="1282.28" y="1034.51" width="15.97" height="15.92" fill="#e6e3e9"/><rect x="1297.95" y="1034.51" width="15.97" height="15.92" fill="#e1dde4"/><rect x="1313.62" y="1034.51" width="15.97" height="15.92" fill="#dcd7e0"/><rect x="1329.29" y="1034.51" width="15.97" height="15.92" fill="#d7d1db"/><rect x="1344.96" y="1034.51" width="15.97" height="15.92" fill="#d1cbd6"/><rect x="1360.63" y="1034.51" width="15.97" height="15.92" fill="#cbc4d1"/><rect x="1376.30" y="1034.51" width="15.97" height="15.92" fill="#c5bdcb"/><rect x="1391.97" y="1034.51" width="15.97" height="15.92" fill="#beb4c5"/><rect x="1407.64" y="1034.51" width="15.97" height="15.92" fill="#b7acbe"/><rect x="1423.31" y="1034.51" width="15.97" height="15.92" fill="#afa4b8"/><rect x="1438.98" y="1034.51" width="15.97" height="15.92" fill="#a89bb1"/><rect x="1454.65" y="1034.51" width="15.97" height="15.92" fill="#9c8da6"/><rect x="1470.32" y="1034.51" width="15.97" height="15.92" fill="#8f7f9b"/><rect x="1485.99" y="1034.51" width="15.97" height="15.92" fill="#837190"/><rect x="1501.66" y="1034.51" width="15.97" height="15.92" fill="#7b6789"/><rect x="1517.33" y="1034.51" width="15.97" height="15.92" fill="#725e81"/><rect x="1533.00" y="1034.51" width="15.97" height="15.92" fill="#6a547a"/><rect x="1548.67" y="1034.51" width="15.97" height="15.92" fill="#634c74"/><rect x="1564.34" y="1034.51" width="15.97" height="15.92" fill="#5c456d"/><rect x="1580.01" y="1034.51" width="15.97" height="15.92" fill="#553d67"/><rect x="1595.68" y="1034.51" width="15.97" height="15.92" fill="#4e3561"/><rect x="1611.35" y="1034.51" width="15.97" height="15.92" fill="#472d5b"/><rect x="1627.02" y="1034.51" width="15.97" height="15.92" fill="#412555"/><rect x="1642.69" y="1034.51" width="15.97" height="15.92" fill="#3d2152"/><rect x="1658.36" y="1034.51" width="15.97" height="15.92" fill="#3a1d4f"/><rect x="1674.03" y="1034.51" width="15.97" height="15.92" fill="#36194c"/><rect x="1219.60" y="1018.88" width="62.98" height="15.92" fill="#922b2e"/><rect x="1282.28" y="1018.88" width="15.97" height="15.92" fill="#9888a2"/><rect x="1297.95" y="1018.88" width="15.97" height="15.92" fill="#ded9e1"/><rect x="1313.62" y="1018.88" width="15.97" height="15.92" fill="#d9d3dd"/><rect x="1329.29" y="1018.88" width="15.97" height="15.92" fill="#d4cdd8"/><rect x="1344.96" y="1018.88" width="15.97" height="15.92" fill="#cbc3d0"/><rect x="1360.63" y="1018.88" width="15.97" height="15.92" fill="#c4bccb"/><rect x="1376.30" y="1018.88" width="15.97" height="15.92" fill="#b9afc1"/><rect x="1391.97" y="1018.88" width="15.97" height="15.92" fill="#b2a7ba"/><rect x="1407.64" y="1018.88" width="15.97" height="15.92" fill="#a99cb2"/><rect x="1423.31" y="1018.88" width="15.97" height="15.92" fill="#998aa4"/><rect x="1438.98" y="1018.88" width="15.97" height="15.92" fill="#897896"/><rect x="1454.65" y="1018.88" width="15.97" height="15.92" fill="#837190"/><rect x="1470.32" y="1018.88" width="15.97" height="15.92" fill="#7d6a8a"/><rect x="1485.99" y="1018.88" width="15.97" height="15.92" fill="#766385"/><rect x="1501.66" y="1018.88" width="15.97" height="15.92" fill="#6f5a7e"/><rect x="1517.33" y="1018.88" width="15.97" height="15.92" fill="#675177"/><rect x="1533.00" y="1018.88" width="15.97" height="15.92" fill="#604971"/><rect x="1548.67" y="1018.88" width="15.97" height="15.92" fill="#59416a"/><rect x="1564.34" y="1018.88" width="15.97" height="15.92" fill="#523964"/><rect x="1580.01" y="1018.88" width="15.97" height="15.92" fill="#4b315e"/><rect x="1595.68" y="1018.88" width="15.97" height="15.92" fill="#402555"/><rect x="1611.35" y="1018.88" width="15.97" height="15.92" fill="#371a4c"/><rect x="1627.02" y="1018.88" width="15.97" height="15.92" fill="#321548"/><rect x="1642.69" y="1018.88" width="15.97" height="15.92" fill="#81090d"/><rect x="1658.36" y="1018.88" width="15.97" height="15.92" fill="#820b0f"/><rect x="1674.03" y="1018.88" width="15.97" height="15.92" fill="#830d11"/><rect x="1219.60" y="1003.26" width="15.97" height="15.92" fill="#963235"/><rect x="1235.27" y="1003.26" width="15.97" height="15.92" fill="#953033"/><rect x="1250.94" y="1003.26" width="15.97" height="15.92" fill="#932e31"/><rect x="1266.61" y="1003.26" width="15.97" height="15.92" fill="#922c2f"/><rect x="1282.28" y="1003.26" width="15.97" height="15.92" fill="#943033"/><rect x="1297.95" y="1003.26" width="15.97" height="15.92" fill="#840f13"/><rect x="1313.62" y="1003.26" width="15.97" height="15.92" fill="#d6d0da"/><rect x="1329.29" y="1003.26" width="15.97" height="15.92" fill="#cdc5d2"/><rect x="1344.96" y="1003.26" width="15.97" height="15.92" fill="#c4bbca"/><rect x="1360.63" y="1003.26" width="15.97" height="15.92" fill="#bbb1c2"/><rect x="1376.30" y="1003.26" width="15.97" height="15.92" fill="#aea2b6"/><rect x="1391.97" y="1003.26" width="15.97" height="15.92" fill="#a598af"/><rect x="1407.64" y="1003.26" width="15.97" height="15.92" fill="#9b8ca6"/><rect x="1423.31" y="1003.26" width="15.97" height="15.92" fill="#8b7a97"/><rect x="1438.98" y="1003.26" width="15.97" height="15.92" fill="#82708f"/><rect x="1454.65" y="1003.26" width="15.97" height="15.92" fill="#7c698a"/><rect x="1470.32" y="1003.26" width="15.97" height="15.92" fill="#725e81"/><rect x="1485.99" y="1003.26" width="15.97" height="15.92" fill="#665077"/><rect x="1501.66" y="1003.26" width="15.97" height="15.92" fill="#5e466f"/><rect x="1517.33" y="1003.26" width="15.97" height="15.92" fill="#563e68"/><rect x="1533.00" y="1003.26" width="15.97" height="15.92" fill="#4e3561"/><rect x="1548.67" y="1003.26" width="15.97" height="15.92" fill="#462b5a"/><rect x="1564.34" y="1003.26" width="15.97" height="15.92" fill="#3f2354"/><rect x="1580.01" y="1003.26" width="15.97" height="15.92" fill="#35184b"/><rect x="1595.68" y="1003.26" width="15.97" height="15.92" fill="#820b0f"/><rect x="1611.35" y="1003.26" width="15.97" height="15.92" fill="#851115"/><rect x="1627.02" y="1003.26" width="15.97" height="15.92" fill="#88171b"/><rect x="1642.69" y="1003.26" width="15.97" height="15.92" fill="#8b1d21"/><rect x="1658.36" y="1003.26" width="15.97" height="15.92" fill="#8c1f22"/><rect x="1674.03" y="1003.26" width="15.97" height="15.92" fill="#8d2124"/><rect x="1219.60" y="987.64" width="15.97" height="15.92" fill="#99383b"/><rect x="1235.27" y="987.64" width="15.97" height="15.92" fill="#983639"/><rect x="1250.94" y="987.64" width="15.97" height="15.92" fill="#973437"/><rect x="1266.61" y="987.64" width="15.97" height="15.92" fill="#963235"/><rect x="1282.28" y="987.64" width="15.97" height="15.92" fill="#973639"/><rect x="1297.95" y="987.64" width="15.97" height="15.92" fill="#99393d"/><rect x="1313.62" y="987.64" width="15.97" height="15.92" fill="#644d74"/><rect x="1329.29" y="987.64" width="15.97" height="15.92" fill="#c7bfcd"/><rect x="1344.96" y="987.64" width="15.97" height="15.92" fill="#bdb3c4"/><rect x="1360.63" y="987.64" width="15.97" height="15.92" fill="#afa4b8"/><rect x="1376.30" y="987.64" width="15.97" height="15.92" fill="#a294ac"/><rect x="1391.97" y="987.64" width="15.97" height="15.92" fill="#9888a2"/><rect x="1407.64" y="987.64" width="15.97" height="15.92" fill="#8d7d99"/><rect x="1423.31" y="987.64" width="15.97" height="15.92" fill="#847291"/><rect x="1438.98" y="987.64" width="15.97" height="15.92" fill="#7b6789"/><rect x="1454.65" y="987.64" width="15.97" height="15.92" fill="#6e597e"/><rect x="1470.32" y="987.64" width="15.97" height="15.92" fill="#624c73"/><rect x="1485.99" y="987.64" width="15.97" height="15.92" fill="#563e68"/><rect x="1501.66" y="987.64" width="15.97" height="15.92" fill="#4d3360"/><rect x="1517.33" y="987.64" width="15.97" height="15.92" fill="#452a59"/><rect x="1533.00" y="987.64" width="15.97" height="15.92" fill="#3d2152"/><rect x="1548.67" y="987.64" width="15.97" height="15.92" fill="#34174a"/><rect x="1564.34" y="987.64" width="15.97" height="15.92" fill="#820c10"/><rect x="1580.01" y="987.64" width="15.97" height="15.92" fill="#861418"/><rect x="1595.68" y="987.64" width="15.97" height="15.92" fill="#8b1d20"/><rect x="1611.35" y="987.64" width="15.97" height="15.92" fill="#8e2428"/><rect x="1627.02" y="987.64" width="15.97" height="15.92" fill="#91292c"/><rect x="1642.69" y="987.64" width="15.97" height="15.92" fill="#942f32"/><rect x="1658.36" y="987.64" width="15.97" height="15.92" fill="#973538"/><rect x="1674.03" y="987.64" width="15.97" height="15.92" fill="#973438"/><rect x="1219.60" y="972.01" width="15.97" height="15.92" fill="#9c3e41"/><rect x="1235.27" y="972.01" width="15.97" height="15.92" fill="#9b3c3f"/><rect x="1250.94" y="972.01" width="15.97" height="15.92" fill="#9a3a3d"/><rect x="1266.61" y="972.01" width="15.97" height="15.92" fill="#99383b"/><rect x="1282.28" y="972.01" width="15.97" height="15.92" fill="#9b3c3f"/><rect x="1297.95" y="972.01" width="15.97" height="15.92" fill="#9f4447"/><rect x="1313.62" y="972.01" width="15.97" height="15.92" fill="#a24b4e"/><rect x="1329.29" y="972.01" width="15.97" height="15.92" fill="#9888a2"/><rect x="1344.96" y="972.01" width="15.97" height="15.92" fill="#a699af"/><rect x="1360.63" y="972.01" width="15.97" height="15.92" fill="#9a8ca5"/><rect x="1376.30" y="972.01" width="15.97" height="15.92" fill="#90809c"/><rect x="1391.97" y="972.01" width="15.97" height="15.92" fill="#867493"/><rect x="1407.64" y="972.01" width="15.97" height="15.92" fill="#7c698a"/><rect x="1423.31" y="972.01" width="15.97" height="15.92" fill="#725e81"/><rect x="1438.98" y="972.01" width="15.97" height="15.92" fill="#675177"/><rect x="1454.65" y="972.01" width="15.97" height="15.92" fill="#5d456e"/><rect x="1470.32" y="972.01" width="15.97" height="15.92" fill="#523965"/><rect x="1485.99" y="972.01" width="15.97" height="15.92" fill="#462b5a"/><rect x="1501.66" y="972.01" width="15.97" height="15.92" fill="#3c2051"/><rect x="1517.33" y="972.01" width="15.97" height="15.92" fill="#34174a"/><rect x="1533.00" y="972.01" width="15.97" height="15.92" fill="#820c10"/><rect x="1548.67" y="972.01" width="15.97" height="15.92" fill="#871519"/><rect x="1564.34" y="972.01" width="15.97" height="15.92" fill="#8b1d21"/><rect x="1580.01" y="972.01" width="15.97" height="15.92" fill="#8f2629"/><rect x="1595.68" y="972.01" width="15.97" height="15.92" fill="#932d30"/><rect x="1611.35" y="972.01" width="15.97" height="15.92" fill="#973539"/><rect x="1627.02" y="972.01" width="15.97" height="15.92" fill="#9c3e41"/><rect x="1642.69" y="972.01" width="15.97" height="15.92" fill="#9d4144"/><rect x="1658.36" y="972.01" width="15.97" height="15.92" fill="#a0474a"/><rect x="1674.03" y="972.01" width="15.97" height="15.92" fill="#a44d50"/><rect x="1219.60" y="956.39" width="15.97" height="15.92" fill="#9f4548"/><rect x="1235.27" y="956.39" width="15.97" height="15.92" fill="#9e4246"/><rect x="1250.94" y="956.39" width="15.97" height="15.92" fill="#9d4043"/><rect x="1266.61" y="956.39" width="15.97" height="15.92" fill="#9c3e41"/><rect x="1282.28" y="956.39" width="15.97" height="15.92" fill="#a0474a"/><rect x="1297.95" y="956.39" width="15.97" height="15.92" fill="#a44f52"/><rect x="1313.62" y="956.39" width="15.97" height="15.92" fill="#a9575a"/><rect x="1329.29" y="956.39" width="15.97" height="15.92" fill="#b77274"/><rect x="1344.96" y="956.39" width="15.97" height="15.92" fill="#a294ac"/><rect x="1360.63" y="956.39" width="15.97" height="15.92" fill="#877694"/><rect x="1376.30" y="956.39" width="15.97" height="15.92" fill="#7f6c8c"/><rect x="1391.97" y="956.39" width="15.97" height="15.92" fill="#746083"/><rect x="1407.64" y="956.39" width="15.97" height="15.92" fill="#6a547a"/><rect x="1423.31" y="956.39" width="15.97" height="15.92" fill="#5f4770"/><rect x="1438.98" y="956.39" width="15.97" height="15.92" fill="#533a65"/><rect x="1454.65" y="956.39" width="15.97" height="15.92" fill="#492e5c"/><rect x="1470.32" y="956.39" width="15.97" height="15.92" fill="#3f2353"/><rect x="1485.99" y="956.39" width="15.97" height="15.92" fill="#35184a"/><rect x="1501.66" y="956.39" width="15.97" height="15.92" fill="#820d11"/><rect x="1517.33" y="956.39" width="15.97" height="15.92" fill="#87161a"/><rect x="1533.00" y="956.39" width="15.97" height="15.92" fill="#8b1e21"/><rect x="1548.67" y="956.39" width="15.97" height="15.92" fill="#8f2529"/><rect x="1564.34" y="956.39" width="15.97" height="15.92" fill="#942e32"/><rect x="1580.01" y="956.39" width="15.97" height="15.92" fill="#98373a"/><rect x="1595.68" y="956.39" width="15.97" height="15.92" fill="#9c3f42"/><rect x="1611.35" y="956.39" width="15.97" height="15.92" fill="#a1474a"/><rect x="1627.02" y="956.39" width="15.97" height="15.92" fill="#a44f51"/><rect x="1642.69" y="956.39" width="15.97" height="15.92" fill="#a85659"/><rect x="1658.36" y="956.39" width="15.97" height="15.92" fill="#ab5c5f"/><rect x="1674.03" y="956.39" width="15.97" height="15.92" fill="#ac5e61"/><rect x="1219.60" y="940.77" width="15.97" height="15.92" fill="#a24b4e"/><rect x="1235.27" y="940.77" width="15.97" height="15.92" fill="#a1494c"/><rect x="1250.94" y="940.77" width="15.97" height="15.92" fill="#a1474a"/><rect x="1266.61" y="940.77" width="15.97" height="15.92" fill="#a04649"/><rect x="1282.28" y="940.77" width="15.97" height="15.92" fill="#a44e51"/><rect x="1297.95" y="940.77" width="15.97" height="15.92" fill="#aa595c"/><rect x="1313.62" y="940.77" width="15.97" height="15.92" fill="#b1676a"/><rect x="1329.29" y="940.77" width="15.97" height="15.92" fill="#be8082"/><rect x="1344.96" y="940.77" width="15.97" height="15.92" fill="#ca9799"/><rect x="1360.63" y="940.77" width="15.97" height="15.92" fill="#e6e3e9"/><rect x="1376.30" y="940.77" width="15.97" height="15.92" fill="#6a547a"/><rect x="1391.97" y="940.77" width="15.97" height="15.92" fill="#604971"/><rect x="1407.64" y="940.77" width="15.97" height="15.92" fill="#553d67"/><rect x="1423.31" y="940.77" width="15.97" height="15.92" fill="#4b315e"/><rect x="1438.98" y="940.77" width="15.97" height="15.92" fill="#412555"/><rect x="1454.65" y="940.77" width="15.97" height="15.92" fill="#36184b"/><rect x="1470.32" y="940.77" width="15.97" height="15.92" fill="#820b0f"/><rect x="1485.99" y="940.77" width="15.97" height="15.92" fill="#851216"/><rect x="1501.66" y="940.77" width="15.97" height="15.92" fill="#8c1f23"/><rect x="1517.33" y="940.77" width="15.97" height="15.92" fill="#91282c"/><rect x="1533.00" y="940.77" width="15.97" height="15.92" fill="#942f33"/><rect x="1548.67" y="940.77" width="15.97" height="15.92" fill="#98373a"/><rect x="1564.34" y="940.77" width="15.97" height="15.92" fill="#9c3f42"/><rect x="1580.01" y="940.77" width="15.97" height="15.92" fill="#a1474a"/><rect x="1595.68" y="940.77" width="15.97" height="15.92" fill="#a55053"/><rect x="1611.35" y="940.77" width="15.97" height="15.92" fill="#a9595b"/><rect x="1627.02" y="940.77" width="15.97" height="15.92" fill="#ae6163"/><rect x="1642.69" y="940.77" width="15.97" height="15.92" fill="#b2696c"/><rect x="1658.36" y="940.77" width="15.97" height="15.92" fill="#b67073"/><rect x="1674.03" y="940.77" width="15.97" height="15.92" fill="#b97779"/><rect x="1219.60" y="925.14" width="15.97" height="15.92" fill="#a55154"/><rect x="1235.27" y="925.14" width="15.97" height="15.92" fill="#a55052"/><rect x="1250.94" y="925.14" width="15.97" height="15.92" fill="#a44e51"/><rect x="1266.61" y="925.14" width="15.97" height="15.92" fill="#a44d50"/><rect x="1282.28" y="925.14" width="15.97" height="15.92" fill="#ab5b5e"/><rect x="1297.95" y="925.14" width="15.97" height="15.92" fill="#b2696c"/><rect x="1313.62" y="925.14" width="15.97" height="15.92" fill="#b97779"/><rect x="1329.29" y="925.14" width="15.97" height="15.92" fill="#c48c8e"/><rect x="1344.96" y="925.14" width="15.97" height="15.92" fill="#cfa1a3"/><rect x="1360.63" y="925.14" width="15.97" height="15.92" fill="#dbbabb"/><rect x="1376.30" y="925.14" width="15.97" height="15.92" fill="#ac5e61"/><rect x="1391.97" y="925.14" width="15.97" height="15.92" fill="#4b315e"/><rect x="1407.64" y="925.14" width="15.97" height="15.92" fill="#452a58"/><rect x="1423.31" y="925.14" width="15.97" height="15.92" fill="#3c2051"/><rect x="1438.98" y="925.14" width="15.97" height="15.92" fill="#34174a"/><rect x="1454.65" y="925.14" width="15.97" height="15.92" fill="#840f13"/><rect x="1470.32" y="925.14" width="15.97" height="15.92" fill="#88181c"/><rect x="1485.99" y="925.14" width="15.97" height="15.92" fill="#8f2629"/><rect x="1501.66" y="925.14" width="15.97" height="15.92" fill="#953235"/><rect x="1517.33" y="925.14" width="15.97" height="15.92" fill="#99393d"/><rect x="1533.00" y="925.14" width="15.97" height="15.92" fill="#9d4144"/><rect x="1548.67" y="925.14" width="15.97" height="15.92" fill="#a1494c"/><rect x="1564.34" y="925.14" width="15.97" height="15.92" fill="#a55153"/><rect x="1580.01" y="925.14" width="15.97" height="15.92" fill="#a9585b"/><rect x="1595.68" y="925.14" width="15.97" height="15.92" fill="#ad6063"/><rect x="1611.35" y="925.14" width="15.97" height="15.92" fill="#b2696c"/><rect x="1627.02" y="925.14" width="15.97" height="15.92" fill="#b77274"/><rect x="1642.69" y="925.14" width="15.97" height="15.92" fill="#bb7a7d"/><rect x="1658.36" y="925.14" width="15.97" height="15.92" fill="#bf8385"/><rect x="1674.03" y="925.14" width="15.97" height="15.92" fill="#c38b8d"/><rect x="1219.60" y="909.52" width="15.97" height="15.92" fill="#a9575a"/><rect x="1235.27" y="909.52" width="15.97" height="15.92" fill="#a85759"/><rect x="1250.94" y="909.52" width="31.64" height="15.92" fill="#a85659"/><rect x="1282.28" y="909.52" width="15.97" height="15.92" fill="#af6466"/><rect x="1297.95" y="909.52" width="15.97" height="15.92" fill="#b77375"/><rect x="1313.62" y="909.52" width="15.97" height="15.92" fill="#c08486"/><rect x="1329.29" y="909.52" width="15.97" height="15.92" fill="#ca989a"/><rect x="1344.96" y="909.52" width="15.97" height="15.92" fill="#d5adaf"/><rect x="1360.63" y="909.52" width="15.97" height="15.92" fill="#e2c6c7"/><rect x="1376.30" y="909.52" width="15.97" height="15.92" fill="#eedfdf"/><rect x="1391.97" y="909.52" width="15.97" height="15.92" fill="#aca0b5"/><rect x="1407.64" y="909.52" width="15.97" height="15.92" fill="#36194c"/><rect x="1423.31" y="909.52" width="15.97" height="15.92" fill="#321448"/><rect x="1438.98" y="909.52" width="15.97" height="15.92" fill="#830e12"/><rect x="1454.65" y="909.52" width="15.97" height="15.92" fill="#8b1d20"/><rect x="1470.32" y="909.52" width="15.97" height="15.92" fill="#8f2529"/><rect x="1485.99" y="909.52" width="15.97" height="15.92" fill="#993a3d"/><rect x="1501.66" y="909.52" width="15.97" height="15.92" fill="#9f4447"/><rect x="1517.33" y="909.52" width="15.97" height="15.92" fill="#a24b4e"/><rect x="1533.00" y="909.52" width="15.97" height="15.92" fill="#a65356"/><rect x="1548.67" y="909.52" width="15.97" height="15.92" fill="#aa5b5d"/><rect x="1564.34" y="909.52" width="15.97" height="15.92" fill="#ae6265"/><rect x="1580.01" y="909.52" width="15.97" height="15.92" fill="#b26a6d"/><rect x="1595.68" y="909.52" width="15.97" height="15.92" fill="#b67274"/><rect x="1611.35" y="909.52" width="15.97" height="15.92" fill="#ba7a7c"/><rect x="1627.02" y="909.52" width="15.97" height="15.92" fill="#bf8284"/><rect x="1642.69" y="909.52" width="15.97" height="15.92" fill="#c48b8d"/><rect x="1658.36" y="909.52" width="15.97" height="15.92" fill="#c89496"/><rect x="1674.03" y="909.52" width="15.97" height="15.92" fill="#cc9c9e"/><rect x="1219.60" y="893.90" width="62.98" height="15.92" fill="#ac5e61"/><rect x="1282.28" y="893.90" width="15.97" height="15.92" fill="#b56f71"/><rect x="1297.95" y="893.90" width="15.97" height="15.92" fill="#bd7f81"/><rect x="1313.62" y="893.90" width="15.97" height="15.92" fill="#c69092"/><rect x="1329.29" y="893.90" width="15.97" height="15.92" fill="#d1a5a6"/><rect x="1344.96" y="893.90" width="15.97" height="15.92" fill="#dbbabb"/><rect x="1360.63" y="893.90" width="15.97" height="15.92" fill="#e8d3d3"/><rect x="1376.30" y="893.90" width="15.97" height="15.92" fill="#f2e6e7"/><rect x="1391.97" y="893.90" width="15.97" height="15.92" fill="#fbf8f8"/><rect x="1407.64" y="893.90" width="15.97" height="15.92" fill="#b36b6d"/><rect x="1423.31" y="893.90" width="15.97" height="15.92" fill="#840f13"/><rect x="1438.98" y="893.90" width="15.97" height="15.92" fill="#891a1d"/><rect x="1454.65" y="893.90" width="15.97" height="15.92" fill="#922a2e"/><rect x="1470.32" y="893.90" width="15.97" height="15.92" fill="#983639"/><rect x="1485.99" y="893.90" width="15.97" height="15.92" fill="#a34c4f"/><rect x="1501.66" y="893.90" width="15.97" height="15.92" fill="#a85759"/><rect x="1517.33" y="893.90" width="15.97" height="15.92" fill="#ac5d5f"/><rect x="1533.00" y="893.90" width="15.97" height="15.92" fill="#b06467"/><rect x="1548.67" y="893.90" width="15.97" height="15.92" fill="#b46c6f"/><rect x="1564.34" y="893.90" width="15.97" height="15.92" fill="#b87476"/><rect x="1580.01" y="893.90" width="15.97" height="15.92" fill="#bc7c7e"/><rect x="1595.68" y="893.90" width="15.97" height="15.92" fill="#c08486"/><rect x="1611.35" y="893.90" width="15.97" height="15.92" fill="#c48b8d"/><rect x="1627.02" y="893.90" width="15.97" height="15.92" fill="#c89395"/><rect x="1642.69" y="893.90" width="15.97" height="15.92" fill="#cc9b9d"/><rect x="1658.36" y="893.90" width="15.97" height="15.92" fill="#d0a4a5"/><rect x="1674.03" y="893.90" width="15.97" height="15.92" fill="#d5adaf"/><rect x="1219.60" y="878.27" width="15.97" height="15.92" fill="#b06668"/><rect x="1235.27" y="878.27" width="15.97" height="15.92" fill="#b1686a"/><rect x="1250.94" y="878.27" width="15.97" height="15.92" fill="#b26a6c"/><rect x="1266.61" y="878.27" width="15.97" height="15.92" fill="#b1676a"/><rect x="1282.28" y="878.27" width="15.97" height="15.92" fill="#bf8284"/><rect x="1297.95" y="878.27" width="15.97" height="15.92" fill="#c79294"/><rect x="1313.62" y="878.27" width="15.97" height="15.92" fill="#cc9b9d"/><rect x="1329.29" y="878.27" width="15.97" height="15.92" fill="#d6b0b1"/><rect x="1344.96" y="878.27" width="15.97" height="15.92" fill="#e2c7c8"/><rect x="1360.63" y="878.27" width="15.97" height="15.92" fill="#eedfdf"/><rect x="1376.30" y="878.27" width="15.97" height="15.92" fill="#f7f0f0"/><rect x="1391.97" y="878.27" width="15.97" height="15.92" fill="#fefdfd"/><rect x="1407.64" y="878.27" width="15.97" height="15.92" fill="#f9f8f9"/><rect x="1423.31" y="878.27" width="15.97" height="15.92" fill="#eeecf0"/><rect x="1438.98" y="878.27" width="15.97" height="15.92" fill="#8f2629"/><rect x="1454.65" y="878.27" width="15.97" height="15.92" fill="#99383b"/><rect x="1470.32" y="878.27" width="15.97" height="15.92" fill="#a34c4e"/><rect x="1485.99" y="878.27" width="15.97" height="15.92" fill="#ad5f62"/><rect x="1501.66" y="878.27" width="15.97" height="15.92" fill="#b2686b"/><rect x="1517.33" y="878.27" width="15.97" height="15.92" fill="#b56e71"/><rect x="1533.00" y="878.27" width="15.97" height="15.92" fill="#b97678"/><rect x="1548.67" y="878.27" width="15.97" height="15.92" fill="#bd7e80"/><rect x="1564.34" y="878.27" width="15.97" height="15.92" fill="#c18688"/><rect x="1580.01" y="878.27" width="15.97" height="15.92" fill="#c58e8f"/><rect x="1595.68" y="878.27" width="15.97" height="15.92" fill="#c99597"/><rect x="1611.35" y="878.27" width="15.97" height="15.92" fill="#cd9d9f"/><rect x="1627.02" y="878.27" width="15.97" height="15.92" fill="#d1a5a6"/><rect x="1642.69" y="878.27" width="15.97" height="15.92" fill="#d5adae"/><rect x="1658.36" y="878.27" width="15.97" height="15.92" fill="#d9b5b6"/><rect x="1674.03" y="878.27" width="15.97" height="15.92" fill="#ddbcbd"/><rect x="1219.60" y="862.65" width="15.97" height="15.92" fill="#b36c6e"/><rect x="1235.27" y="862.65" width="15.97" height="15.92" fill="#b67274"/><rect x="1250.94" y="862.65" width="15.97" height="15.92" fill="#b97779"/><rect x="1266.61" y="862.65" width="15.97" height="15.92" fill="#b57072"/><rect x="1282.28" y="862.65" width="15.97" height="15.92" fill="#c89597"/><rect x="1297.95" y="862.65" width="15.97" height="15.92" fill="#cd9d9f"/><rect x="1313.62" y="862.65" width="15.97" height="15.92" fill="#d1a6a8"/><rect x="1329.29" y="862.65" width="15.97" height="15.92" fill="#ddbebf"/><rect x="1344.96" y="862.65" width="15.97" height="15.92" fill="#e9d5d6"/><rect x="1360.63" y="862.65" width="15.97" height="15.92" fill="#f5ebec"/><rect x="1376.30" y="862.65" width="15.97" height="15.92" fill="#fcfafa"/><rect x="1391.97" y="862.65" width="15.97" height="15.92" fill="#faf9fb"/><rect x="1407.64" y="862.65" width="15.97" height="15.92" fill="#f0eef2"/><rect x="1423.31" y="862.65" width="15.97" height="15.92" fill="#e6e3e9"/><rect x="1438.98" y="862.65" width="15.97" height="15.92" fill="#cbc4d1"/><rect x="1454.65" y="862.65" width="15.97" height="15.92" fill="#a04649"/><rect x="1470.32" y="862.65" width="15.97" height="15.92" fill="#ae6164"/><rect x="1485.99" y="862.65" width="15.97" height="15.92" fill="#b67274"/><rect x="1501.66" y="862.65" width="15.97" height="15.92" fill="#ba7a7c"/><rect x="1517.33" y="862.65" width="15.97" height="15.92" fill="#be8082"/><rect x="1533.00" y="862.65" width="15.97" height="15.92" fill="#c2888a"/><rect x="1548.67" y="862.65" width="15.97" height="15.92" fill="#c69092"/><rect x="1564.34" y="862.65" width="15.97" height="15.92" fill="#ca9799"/><rect x="1580.01" y="862.65" width="15.97" height="15.92" fill="#ce9fa1"/><rect x="1595.68" y="862.65" width="15.97" height="15.92" fill="#d2a7a9"/><rect x="1611.35" y="862.65" width="15.97" height="15.92" fill="#d6afb0"/><rect x="1627.02" y="862.65" width="15.97" height="15.92" fill="#dab7b8"/><rect x="1642.69" y="862.65" width="15.97" height="15.92" fill="#ddbcbd"/><rect x="1658.36" y="862.65" width="15.97" height="15.92" fill="#e1c5c6"/><rect x="1674.03" y="862.65" width="15.97" height="15.92" fill="#e6cece"/><rect x="1219.60" y="847.03" width="15.97" height="15.92" fill="#b77274"/><rect x="1235.27" y="847.03" width="15.97" height="15.92" fill="#ba797b"/><rect x="1250.94" y="847.03" width="31.64" height="15.92" fill="#bd7f81"/><rect x="1282.28" y="847.03" width="15.97" height="15.92" fill="#cc9c9e"/><rect x="1297.95" y="847.03" width="15.97" height="15.92" fill="#d1a5a6"/><rect x="1313.62" y="847.03" width="15.97" height="15.92" fill="#d9b5b6"/><rect x="1329.29" y="847.03" width="15.97" height="15.92" fill="#e4cacb"/><rect x="1344.96" y="847.03" width="15.97" height="15.92" fill="#f0e1e2"/><rect x="1360.63" y="847.03" width="15.97" height="15.92" fill="#fcf8f9"/><rect x="1376.30" y="847.03" width="15.97" height="15.92" fill="#f9f8fa"/><rect x="1391.97" y="847.03" width="15.97" height="15.92" fill="#eeebf0"/><rect x="1407.64" y="847.03" width="15.97" height="15.92" fill="#e2dee5"/><rect x="1423.31" y="847.03" width="15.97" height="15.92" fill="#d7d1db"/><rect x="1438.98" y="847.03" width="15.97" height="15.92" fill="#cbc4d1"/><rect x="1454.65" y="847.03" width="15.97" height="15.92" fill="#f0e1e2"/><rect x="1470.32" y="847.03" width="15.97" height="15.92" fill="#b97779"/><rect x="1485.99" y="847.03" width="15.97" height="15.92" fill="#c08587"/><rect x="1501.66" y="847.03" width="15.97" height="15.92" fill="#c38b8d"/><rect x="1517.33" y="847.03" width="15.97" height="15.92" fill="#c79294"/><rect x="1533.00" y="847.03" width="15.97" height="15.92" fill="#cb9a9b"/><rect x="1548.67" y="847.03" width="15.97" height="15.92" fill="#cfa1a3"/><rect x="1564.34" y="847.03" width="15.97" height="15.92" fill="#d3a9ab"/><rect x="1580.01" y="847.03" width="15.97" height="15.92" fill="#d7b1b2"/><rect x="1595.68" y="847.03" width="15.97" height="15.92" fill="#dab7b9"/><rect x="1611.35" y="847.03" width="15.97" height="15.92" fill="#ddbcbd"/><rect x="1627.02" y="847.03" width="15.97" height="15.92" fill="#e1c5c6"/><rect x="1642.69" y="847.03" width="15.97" height="15.92" fill="#e5cdce"/><rect x="1658.36" y="847.03" width="15.97" height="15.92" fill="#e9d5d6"/><rect x="1674.03" y="847.03" width="15.97" height="15.92" fill="#eedfdf"/><rect x="1219.60" y="831.40" width="15.97" height="15.92" fill="#bb7b7d"/><rect x="1235.27" y="831.40" width="15.97" height="15.92" fill="#be8183"/><rect x="1250.94" y="831.40" width="15.97" height="15.92" fill="#c2888a"/><rect x="1266.61" y="831.40" width="15.97" height="15.92" fill="#c58d8f"/><rect x="1282.28" y="831.40" width="15.97" height="15.92" fill="#d0a4a5"/><rect x="1297.95" y="831.40" width="15.97" height="15.92" fill="#d6b0b1"/><rect x="1313.62" y="831.40" width="15.97" height="15.92" fill="#e0c3c4"/><rect x="1329.29" y="831.40" width="15.97" height="15.92" fill="#ead6d7"/><rect x="1344.96" y="831.40" width="15.97" height="15.92" fill="#f6edee"/><rect x="1360.63" y="831.40" width="15.97" height="15.92" fill="#fcfcfd"/><rect x="1376.30" y="831.40" width="15.97" height="15.92" fill="#f1eff3"/><rect x="1391.97" y="831.40" width="15.97" height="15.92" fill="#e6e3e9"/><rect x="1407.64" y="831.40" width="15.97" height="15.92" fill="#d9d3dd"/><rect x="1423.31" y="831.40" width="15.97" height="15.92" fill="#c6becc"/><rect x="1438.98" y="831.40" width="15.97" height="15.92" fill="#b4a9bc"/><rect x="1454.65" y="831.40" width="15.97" height="15.92" fill="#a294ac"/><rect x="1470.32" y="831.40" width="15.97" height="15.92" fill="#452a58"/><rect x="1485.99" y="831.40" width="15.97" height="15.92" fill="#ca9799"/><rect x="1501.66" y="831.40" width="15.97" height="15.92" fill="#cc9c9e"/><rect x="1517.33" y="831.40" width="15.97" height="15.92" fill="#d0a4a5"/><rect x="1533.00" y="831.40" width="15.97" height="15.92" fill="#d4abad"/><rect x="1548.67" y="831.40" width="15.97" height="15.92" fill="#d8b2b4"/><rect x="1564.34" y="831.40" width="15.97" height="15.92" fill="#dab7b9"/><rect x="1580.01" y="831.40" width="15.97" height="15.92" fill="#ddbcbd"/><rect x="1595.68" y="831.40" width="15.97" height="15.92" fill="#e1c5c6"/><rect x="1611.35" y="831.40" width="15.97" height="15.92" fill="#e5cdce"/><rect x="1627.02" y="831.40" width="15.97" height="15.92" fill="#e9d5d5"/><rect x="1642.69" y="831.40" width="15.97" height="15.92" fill="#eddcdd"/><rect x="1658.36" y="831.40" width="15.97" height="15.92" fill="#f1e4e5"/><rect x="1674.03" y="831.40" width="15.97" height="15.92" fill="#f9f3f3"/><rect x="1219.60" y="815.78" width="15.97" height="15.92" fill="#c08486"/><rect x="1235.27" y="815.78" width="15.97" height="15.92" fill="#c38a8c"/><rect x="1250.94" y="815.78" width="15.97" height="15.92" fill="#c69092"/><rect x="1266.61" y="815.78" width="15.97" height="15.92" fill="#cc9c9e"/><rect x="1282.28" y="815.78" width="15.97" height="15.92" fill="#d4abac"/><rect x="1297.95" y="815.78" width="15.97" height="15.92" fill="#debebf"/><rect x="1313.62" y="815.78" width="15.97" height="15.92" fill="#e8d1d2"/><rect x="1329.29" y="815.78" width="15.97" height="15.92" fill="#f1e5e5"/><rect x="1344.96" y="815.78" width="15.97" height="15.92" fill="#fcf9f9"/><rect x="1360.63" y="815.78" width="15.97" height="15.92" fill="#f7f6f8"/><rect x="1376.30" y="815.78" width="15.97" height="15.92" fill="#e6e2e9"/><rect x="1391.97" y="815.78" width="15.97" height="15.92" fill="#d5cfda"/><rect x="1407.64" y="815.78" width="15.97" height="15.92" fill="#c6bdcc"/><rect x="1423.31" y="815.78" width="15.97" height="15.92" fill="#b6abbe"/><rect x="1438.98" y="815.78" width="15.97" height="15.92" fill="#a69ab0"/><rect x="1454.65" y="815.78" width="15.97" height="15.92" fill="#9788a2"/><rect x="1470.32" y="815.78" width="15.97" height="15.92" fill="#877694"/><rect x="1485.99" y="815.78" width="15.97" height="15.92" fill="#d3a9aa"/><rect x="1501.66" y="815.78" width="15.97" height="15.92" fill="#d5adaf"/><rect x="1517.33" y="815.78" width="15.97" height="15.92" fill="#d8b2b4"/><rect x="1533.00" y="815.78" width="15.97" height="15.92" fill="#dab7b9"/><rect x="1548.67" y="815.78" width="15.97" height="15.92" fill="#ddbcbd"/><rect x="1564.34" y="815.78" width="15.97" height="15.92" fill="#e1c5c6"/><rect x="1580.01" y="815.78" width="15.97" height="15.92" fill="#e5cccd"/><rect x="1595.68" y="815.78" width="15.97" height="15.92" fill="#e9d4d5"/><rect x="1611.35" y="815.78" width="15.97" height="15.92" fill="#eddcdd"/><rect x="1627.02" y="815.78" width="15.97" height="15.92" fill="#f1e4e4"/><rect x="1642.69" y="815.78" width="15.97" height="15.92" fill="#f5ecec"/><rect x="1658.36" y="815.78" width="15.97" height="15.92" fill="#f9f4f4"/><rect x="1674.03" y="815.78" width="15.97" height="15.92" fill="#f9f8f9"/><rect x="1219.60" y="800.16" width="15.97" height="15.92" fill="#c2898b"/><rect x="1235.27" y="800.16" width="15.97" height="15.92" fill="#c79294"/><rect x="1250.94" y="800.16" width="15.97" height="15.92" fill="#ca989a"/><rect x="1266.61" y="800.16" width="15.97" height="15.92" fill="#d1a6a8"/><rect x="1282.28" y="800.16" width="15.97" height="15.92" fill="#d8b4b5"/><rect x="1297.95" y="800.16" width="15.97" height="15.92" fill="#e3c9c9"/><rect x="1313.62" y="800.16" width="15.97" height="15.92" fill="#eddcdd"/><rect x="1329.29" y="800.16" width="15.97" height="15.92" fill="#f7f0f0"/><rect x="1344.96" y="800.16" width="15.97" height="15.92" fill="#fbfbfc"/><rect x="1360.63" y="800.16" width="15.97" height="15.92" fill="#ece9ee"/><rect x="1376.30" y="800.16" width="15.97" height="15.92" fill="#dcd7e0"/><rect x="1391.97" y="800.16" width="15.97" height="15.92" fill="#cdc5d2"/><rect x="1407.64" y="800.16" width="15.97" height="15.92" fill="#bdb4c4"/><rect x="1423.31" y="800.16" width="15.97" height="15.92" fill="#aea3b7"/><rect x="1438.98" y="800.16" width="15.97" height="15.92" fill="#a092aa"/><rect x="1454.65" y="800.16" width="15.97" height="15.92" fill="#91819d"/><rect x="1470.32" y="800.16" width="15.97" height="15.92" fill="#837190"/><rect x="1485.99" y="800.16" width="15.97" height="15.92" fill="#746083"/><rect x="1501.66" y="800.16" width="15.97" height="15.92" fill="#d9b5b6"/><rect x="1517.33" y="800.16" width="15.97" height="15.92" fill="#ddbcbd"/><rect x="1533.00" y="800.16" width="15.97" height="15.92" fill="#e1c4c5"/><rect x="1548.67" y="800.16" width="15.97" height="15.92" fill="#e5cccd"/><rect x="1564.34" y="800.16" width="15.97" height="15.92" fill="#e9d4d5"/><rect x="1580.01" y="800.16" width="15.97" height="15.92" fill="#eddcdc"/><rect x="1595.68" y="800.16" width="15.97" height="15.92" fill="#f1e4e4"/><rect x="1611.35" y="800.16" width="15.97" height="15.92" fill="#f5ebec"/><rect x="1627.02" y="800.16" width="15.97" height="15.92" fill="#f9f3f3"/><rect x="1642.69" y="800.16" width="15.97" height="15.92" fill="#fdfbfb"/><rect x="1658.36" y="800.16" width="15.97" height="15.92" fill="#f8f7f9"/><rect x="1674.03" y="800.16" width="15.97" height="15.92" fill="#eae7ec"/><rect x="1219.60" y="784.53" width="15.97" height="15.92" fill="#c58f91"/><rect x="1235.27" y="784.53" width="15.97" height="15.92" fill="#cb999b"/><rect x="1250.94" y="784.53" width="15.97" height="15.92" fill="#cea0a2"/><rect x="1266.61" y="784.53" width="15.97" height="15.92" fill="#d6b0b1"/><rect x="1282.28" y="784.53" width="15.97" height="15.92" fill="#ddbdbe"/><rect x="1297.95" y="784.53" width="15.97" height="15.92" fill="#e8d2d2"/><rect x="1313.62" y="784.53" width="15.97" height="15.92" fill="#f2e6e6"/><rect x="1329.29" y="784.53" width="15.97" height="15.92" fill="#fcfafa"/><rect x="1344.96" y="784.53" width="15.97" height="15.92" fill="#f3f2f5"/><rect x="1360.63" y="784.53" width="15.97" height="15.92" fill="#e4e0e7"/><rect x="1376.30" y="784.53" width="15.97" height="15.92" fill="#d6d0da"/><rect x="1391.97" y="784.53" width="15.97" height="15.92" fill="#c7bfcd"/><rect x="1407.64" y="784.53" width="15.97" height="15.92" fill="#b8aec0"/><rect x="1423.31" y="784.53" width="15.97" height="15.92" fill="#a99db2"/><rect x="1438.98" y="784.53" width="15.97" height="15.92" fill="#9a8ca5"/><rect x="1454.65" y="784.53" width="15.97" height="15.92" fill="#8b7b98"/><rect x="1470.32" y="784.53" width="15.97" height="15.92" fill="#7d6a8a"/><rect x="1485.99" y="784.53" width="15.97" height="15.92" fill="#705b7f"/><rect x="1501.66" y="784.53" width="15.97" height="15.92" fill="#685278"/><rect x="1517.33" y="784.53" width="15.97" height="15.92" fill="#f9f3f3"/><rect x="1533.00" y="784.53" width="15.97" height="15.92" fill="#e6cece"/><rect x="1548.67" y="784.53" width="15.97" height="15.92" fill="#ead5d6"/><rect x="1564.34" y="784.53" width="15.97" height="15.92" fill="#eddddd"/><rect x="1580.01" y="784.53" width="15.97" height="15.92" fill="#f1e4e5"/><rect x="1595.68" y="784.53" width="15.97" height="15.92" fill="#f5ecec"/><rect x="1611.35" y="784.53" width="15.97" height="15.92" fill="#f9f4f4"/><rect x="1627.02" y="784.53" width="15.97" height="15.92" fill="#fdfbfb"/><rect x="1642.69" y="784.53" width="15.97" height="15.92" fill="#f8f7f9"/><rect x="1658.36" y="784.53" width="15.97" height="15.92" fill="#eae7ec"/><rect x="1674.03" y="784.53" width="15.97" height="15.92" fill="#dcd7e0"/><rect x="1219.60" y="768.91" width="15.97" height="15.92" fill="#c89597"/><rect x="1235.27" y="768.91" width="15.97" height="15.92" fill="#cd9fa0"/><rect x="1250.94" y="768.91" width="15.97" height="15.92" fill="#d3a9aa"/><rect x="1266.61" y="768.91" width="15.97" height="15.92" fill="#dbbabb"/><rect x="1282.28" y="768.91" width="15.97" height="15.92" fill="#e2c6c7"/><rect x="1297.95" y="768.91" width="15.97" height="15.92" fill="#ecdbdb"/><rect x="1313.62" y="768.91" width="15.97" height="15.92" fill="#f7f0f0"/><rect x="1329.29" y="768.91" width="15.97" height="15.92" fill="#fbfbfc"/><rect x="1344.96" y="768.91" width="15.97" height="15.92" fill="#edeaef"/><rect x="1360.63" y="768.91" width="15.97" height="15.92" fill="#ded9e2"/><rect x="1376.30" y="768.91" width="15.97" height="15.92" fill="#cfc8d4"/><rect x="1391.97" y="768.91" width="15.97" height="15.92" fill="#c0b7c7"/><rect x="1407.64" y="768.91" width="15.97" height="15.92" fill="#b1a6ba"/><rect x="1423.31" y="768.91" width="15.97" height="15.92" fill="#a395ac"/><rect x="1438.98" y="768.91" width="15.97" height="15.92" fill="#94849f"/><rect x="1454.65" y="768.91" width="15.97" height="15.92" fill="#857392"/><rect x="1470.32" y="768.91" width="15.97" height="15.92" fill="#766285"/><rect x="1485.99" y="768.91" width="15.97" height="15.92" fill="#6c577c"/><rect x="1501.66" y="768.91" width="15.97" height="15.92" fill="#614a72"/><rect x="1517.33" y="768.91" width="15.97" height="15.92" fill="#59416b"/><rect x="1533.00" y="768.91" width="15.97" height="15.92" fill="#cc9c9e"/><rect x="1548.67" y="768.91" width="15.97" height="15.92" fill="#f0e1e2"/><rect x="1564.34" y="768.91" width="15.97" height="15.92" fill="#f3e8e8"/><rect x="1580.01" y="768.91" width="15.97" height="15.92" fill="#f7efef"/><rect x="1595.68" y="768.91" width="15.97" height="15.92" fill="#faf5f5"/><rect x="1611.35" y="768.91" width="15.97" height="15.92" fill="#fdfcfc"/><rect x="1627.02" y="768.91" width="15.97" height="15.92" fill="#f7f6f8"/><rect x="1642.69" y="768.91" width="15.97" height="15.92" fill="#e8e5eb"/><rect x="1658.36" y="768.91" width="15.97" height="15.92" fill="#d9d4dd"/><rect x="1674.03" y="768.91" width="15.97" height="15.92" fill="#cbc4d1"/><rect x="1219.60" y="753.29" width="15.97" height="15.92" fill="#cc9b9d"/><rect x="1235.27" y="753.29" width="15.97" height="15.92" fill="#d2a7a8"/><rect x="1250.94" y="753.29" width="15.97" height="15.92" fill="#d7b1b2"/><rect x="1266.61" y="753.29" width="15.97" height="15.92" fill="#e0c2c3"/><rect x="1282.28" y="753.29" width="15.97" height="15.92" fill="#e6cecf"/><rect x="1297.95" y="753.29" width="15.97" height="15.92" fill="#f1e5e5"/><rect x="1313.62" y="753.29" width="15.97" height="15.92" fill="#fcfafa"/><rect x="1329.29" y="753.29" width="15.97" height="15.92" fill="#f4f3f5"/><rect x="1344.96" y="753.29" width="15.97" height="15.92" fill="#e6e3e9"/><rect x="1360.63" y="753.29" width="15.97" height="15.92" fill="#d8d2dc"/><rect x="1376.30" y="753.29" width="15.97" height="15.92" fill="#c9c1ce"/><rect x="1391.97" y="753.29" width="15.97" height="15.92" fill="#bab0c1"/><rect x="1407.64" y="753.29" width="15.97" height="15.92" fill="#ab9fb4"/><rect x="1423.31" y="753.29" width="15.97" height="15.92" fill="#9c8ea7"/><rect x="1438.98" y="753.29" width="15.97" height="15.92" fill="#8d7d99"/><rect x="1454.65" y="753.29" width="15.97" height="15.92" fill="#7e6c8c"/><rect x="1470.32" y="753.29" width="15.97" height="15.92" fill="#705b7f"/><rect x="1485.99" y="753.29" width="15.97" height="15.92" fill="#685278"/><rect x="1501.66" y="753.29" width="15.97" height="15.92" fill="#5b436c"/><rect x="1517.33" y="753.29" width="15.97" height="15.92" fill="#533a65"/><rect x="1533.00" y="753.29" width="15.97" height="15.92" fill="#492e5c"/><rect x="1548.67" y="753.29" width="15.97" height="15.92" fill="#80080c"/><rect x="1564.34" y="753.29" width="15.97" height="15.92" fill="#f5ebec"/><rect x="1580.01" y="753.29" width="15.97" height="15.92" fill="#f9f3f3"/><rect x="1595.68" y="753.29" width="15.97" height="15.92" fill="#fcfafa"/><rect x="1611.35" y="753.29" width="15.97" height="15.92" fill="#f9f8f9"/><rect x="1627.02" y="753.29" width="15.97" height="15.92" fill="#eeecf0"/><rect x="1642.69" y="753.29" width="15.97" height="15.92" fill="#e4e0e7"/><rect x="1658.36" y="753.29" width="15.97" height="15.92" fill="#d6d0da"/><rect x="1674.03" y="753.29" width="15.97" height="15.92" fill="#c1b8c8"/><rect x="1219.60" y="737.66" width="15.97" height="15.92" fill="#cfa2a3"/><rect x="1235.27" y="737.66" width="15.97" height="15.92" fill="#d6aeb0"/><rect x="1250.94" y="737.66" width="15.97" height="15.92" fill="#dbb9ba"/><rect x="1266.61" y="737.66" width="15.97" height="15.92" fill="#e4cacb"/><rect x="1282.28" y="737.66" width="15.97" height="15.92" fill="#ead7d7"/><rect x="1297.95" y="737.66" width="15.97" height="15.92" fill="#f6eded"/><rect x="1313.62" y="737.66" width="15.97" height="15.92" fill="#fcfbfc"/><rect x="1329.29" y="737.66" width="15.97" height="15.92" fill="#edebef"/><rect x="1344.96" y="737.66" width="15.97" height="15.92" fill="#dfdae2"/><rect x="1360.63" y="737.66" width="15.97" height="15.92" fill="#d1cad6"/><rect x="1376.30" y="737.66" width="15.97" height="15.92" fill="#c2b9c9"/><rect x="1391.97" y="737.66" width="15.97" height="15.92" fill="#b3a8bb"/><rect x="1407.64" y="737.66" width="15.97" height="15.92" fill="#a497ae"/><rect x="1423.31" y="737.66" width="15.97" height="15.92" fill="#9686a1"/><rect x="1438.98" y="737.66" width="15.97" height="15.92" fill="#877594"/><rect x="1454.65" y="737.66" width="15.97" height="15.92" fill="#786486"/><rect x="1470.32" y="737.66" width="15.97" height="15.92" fill="#6c577c"/><rect x="1485.99" y="737.66" width="15.97" height="15.92" fill="#614a72"/><rect x="1501.66" y="737.66" width="15.97" height="15.92" fill="#543b66"/><rect x="1517.33" y="737.66" width="15.97" height="15.92" fill="#4d3360"/><rect x="1533.00" y="737.66" width="15.97" height="15.92" fill="#432857"/><rect x="1548.67" y="737.66" width="15.97" height="15.92" fill="#412555"/><rect x="1564.34" y="737.66" width="15.97" height="15.92" fill="#644d74"/><rect x="1580.01" y="737.66" width="15.97" height="15.92" fill="#faf5f5"/><rect x="1595.68" y="737.66" width="15.97" height="15.92" fill="#f9f8f9"/><rect x="1611.35" y="737.66" width="15.97" height="15.92" fill="#eeecf0"/><rect x="1627.02" y="737.66" width="15.97" height="15.92" fill="#e4e0e7"/><rect x="1642.69" y="737.66" width="15.97" height="15.92" fill="#d6d0da"/><rect x="1658.36" y="737.66" width="15.97" height="15.92" fill="#c1b8c8"/><rect x="1674.03" y="737.66" width="15.97" height="15.92" fill="#aca0b5"/><rect x="1219.60" y="722.04" width="15.97" height="15.92" fill="#d3a9aa"/><rect x="1235.27" y="722.04" width="15.97" height="15.92" fill="#d9b5b6"/><rect x="1250.94" y="722.04" width="15.97" height="15.92" fill="#dfc1c2"/><rect x="1266.61" y="722.04" width="15.97" height="15.92" fill="#e8d3d3"/><rect x="1282.28" y="722.04" width="15.97" height="15.92" fill="#eedfdf"/><rect x="1297.95" y="722.04" width="15.97" height="15.92" fill="#fcf9f9"/><rect x="1313.62" y="722.04" width="15.97" height="15.92" fill="#f5f3f6"/><rect x="1329.29" y="722.04" width="15.97" height="15.92" fill="#e6e3e9"/><rect x="1344.96" y="722.04" width="15.97" height="15.92" fill="#d8d2dc"/><rect x="1360.63" y="722.04" width="15.97" height="15.92" fill="#cac2d0"/><rect x="1376.30" y="722.04" width="15.97" height="15.92" fill="#bcb2c3"/><rect x="1391.97" y="722.04" width="15.97" height="15.92" fill="#ada1b5"/><rect x="1407.64" y="722.04" width="15.97" height="15.92" fill="#9e90a8"/><rect x="1423.31" y="722.04" width="15.97" height="15.92" fill="#8f7f9b"/><rect x="1438.98" y="722.04" width="15.97" height="15.92" fill="#806e8e"/><rect x="1454.65" y="722.04" width="15.97" height="15.92" fill="#715d80"/><rect x="1470.32" y="722.04" width="15.97" height="15.92" fill="#685278"/><rect x="1485.99" y="722.04" width="15.97" height="15.92" fill="#5a436c"/><rect x="1501.66" y="722.04" width="15.97" height="15.92" fill="#4e3460"/><rect x="1517.33" y="722.04" width="15.97" height="15.92" fill="#462c5a"/><rect x="1533.00" y="722.04" width="15.97" height="15.92" fill="#3e2252"/><rect x="1548.67" y="722.04" width="15.97" height="15.92" fill="#3a1e4f"/><rect x="1564.34" y="722.04" width="15.97" height="15.92" fill="#381b4d"/><rect x="1580.01" y="722.04" width="15.97" height="15.92" fill="#ecdadb"/><rect x="1595.68" y="722.04" width="15.97" height="15.92" fill="#eeecf0"/><rect x="1611.35" y="722.04" width="15.97" height="15.92" fill="#e0dbe3"/><rect x="1627.02" y="722.04" width="15.97" height="15.92" fill="#cbc4d1"/><rect x="1642.69" y="722.04" width="15.97" height="15.92" fill="#bdb3c4"/><rect x="1658.36" y="722.04" width="15.97" height="15.92" fill="#a89bb1"/><rect x="1674.03" y="722.04" width="15.97" height="15.92" fill="#9888a2"/><rect x="1219.60" y="706.42" width="15.97" height="15.92" fill="#d5adae"/><rect x="1235.27" y="706.42" width="15.97" height="15.92" fill="#dbb9ba"/><rect x="1250.94" y="706.42" width="15.97" height="15.92" fill="#e3c8c9"/><rect x="1266.61" y="706.42" width="15.97" height="15.92" fill="#ecdbdb"/><rect x="1282.28" y="706.42" width="15.97" height="15.92" fill="#f5ecec"/><rect x="1297.95" y="706.42" width="15.97" height="15.92" fill="#fcfcfd"/><rect x="1313.62" y="706.42" width="15.97" height="15.92" fill="#eeebf0"/><rect x="1329.29" y="706.42" width="15.97" height="15.92" fill="#e0dbe3"/><rect x="1344.96" y="706.42" width="15.97" height="15.92" fill="#d1cad6"/><rect x="1360.63" y="706.42" width="15.97" height="15.92" fill="#c3bac9"/><rect x="1376.30" y="706.42" width="15.97" height="15.92" fill="#b5aabd"/><rect x="1391.97" y="706.42" width="15.97" height="15.92" fill="#a699b0"/><rect x="1407.64" y="706.42" width="15.97" height="15.92" fill="#9788a2"/><rect x="1423.31" y="706.42" width="15.97" height="15.92" fill="#897795"/><rect x="1438.98" y="706.42" width="15.97" height="15.92" fill="#7a6688"/><rect x="1454.65" y="706.42" width="15.97" height="15.92" fill="#6c577c"/><rect x="1470.32" y="706.42" width="15.97" height="15.92" fill="#614a71"/><rect x="1485.99" y="706.42" width="15.97" height="15.92" fill="#543b66"/><rect x="1501.66" y="706.42" width="15.97" height="15.92" fill="#472c5b"/><rect x="1517.33" y="706.42" width="15.97" height="15.92" fill="#402454"/><rect x="1533.00" y="706.42" width="15.97" height="15.92" fill="#381b4d"/><rect x="1548.67" y="706.42" width="15.97" height="15.92" fill="#34174a"/><rect x="1564.34" y="706.42" width="15.97" height="15.92" fill="#840f13"/><rect x="1580.01" y="706.42" width="15.97" height="15.92" fill="#8a1c1f"/><rect x="1595.68" y="706.42" width="15.97" height="15.92" fill="#80080c"/><rect x="1611.35" y="706.42" width="15.97" height="15.92" fill="#d1cbd6"/><rect x="1627.02" y="706.42" width="15.97" height="15.92" fill="#b7acbe"/><rect x="1642.69" y="706.42" width="15.97" height="15.92" fill="#a89bb1"/><rect x="1658.36" y="706.42" width="15.97" height="15.92" fill="#8d7d99"/><rect x="1674.03" y="706.42" width="15.97" height="15.92" fill="#786587"/><rect x="1219.60" y="690.79" width="15.97" height="15.92" fill="#d7b1b2"/><rect x="1235.27" y="690.79" width="15.97" height="15.92" fill="#debebf"/><rect x="1250.94" y="690.79" width="15.97" height="15.92" fill="#e6cecf"/><rect x="1266.61" y="690.79" width="15.97" height="15.92" fill="#f1e3e3"/><rect x="1282.28" y="690.79" width="15.97" height="15.92" fill="#fbf7f7"/><rect x="1297.95" y="690.79" width="15.97" height="15.92" fill="#f7f6f8"/><rect x="1313.62" y="690.79" width="15.97" height="15.92" fill="#e7e4ea"/><rect x="1329.29" y="690.79" width="15.97" height="15.92" fill="#d9d4dd"/><rect x="1344.96" y="690.79" width="15.97" height="15.92" fill="#cac2d0"/><rect x="1360.63" y="690.79" width="15.97" height="15.92" fill="#bbb2c3"/><rect x="1376.30" y="690.79" width="15.97" height="15.92" fill="#ada2b6"/><rect x="1391.97" y="690.79" width="15.97" height="15.92" fill="#a092aa"/><rect x="1407.64" y="690.79" width="15.97" height="15.92" fill="#91819d"/><rect x="1423.31" y="690.79" width="15.97" height="15.92" fill="#82708f"/><rect x="1438.98" y="690.79" width="15.97" height="15.92" fill="#735f82"/><rect x="1454.65" y="690.79" width="15.97" height="15.92" fill="#685278"/><rect x="1470.32" y="690.79" width="15.97" height="15.92" fill="#5a426c"/><rect x="1485.99" y="690.79" width="15.97" height="15.92" fill="#4d3360"/><rect x="1501.66" y="690.79" width="15.97" height="15.92" fill="#402555"/><rect x="1517.33" y="690.79" width="15.97" height="15.92" fill="#3a1d4f"/><rect x="1533.00" y="690.79" width="15.97" height="15.92" fill="#331548"/><rect x="1548.67" y="690.79" width="15.97" height="15.92" fill="#840f13"/><rect x="1564.34" y="690.79" width="15.97" height="15.92" fill="#8a1c1f"/><rect x="1580.01" y="690.79" width="15.97" height="15.92" fill="#932d30"/><rect x="1595.68" y="690.79" width="15.97" height="15.92" fill="#9c3e41"/><rect x="1611.35" y="690.79" width="15.97" height="15.92" fill="#d9b5b6"/><rect x="1627.02" y="690.79" width="15.97" height="15.92" fill="#4f3662"/><rect x="1642.69" y="690.79" width="15.97" height="15.92" fill="#9888a2"/><rect x="1658.36" y="690.79" width="15.97" height="15.92" fill="#a294ac"/><rect x="1674.03" y="690.79" width="15.97" height="15.92" fill="#59416b"/><rect x="1219.60" y="675.17" width="15.97" height="15.92" fill="#d9b5b6"/><rect x="1235.27" y="675.17" width="15.97" height="15.92" fill="#e1c5c6"/><rect x="1250.94" y="675.17" width="15.97" height="15.92" fill="#e9d5d6"/><rect x="1266.61" y="675.17" width="15.97" height="15.92" fill="#f5ebec"/><rect x="1282.28" y="675.17" width="15.97" height="15.92" fill="#fefcfc"/><rect x="1297.95" y="675.17" width="15.97" height="15.92" fill="#f2f1f4"/><rect x="1313.62" y="675.17" width="15.97" height="15.92" fill="#e3dfe6"/><rect x="1329.29" y="675.17" width="15.97" height="15.92" fill="#d2ccd7"/><rect x="1344.96" y="675.17" width="15.97" height="15.92" fill="#c4bbca"/><rect x="1360.63" y="675.17" width="15.97" height="15.92" fill="#b4aabc"/><rect x="1376.30" y="675.17" width="15.97" height="15.92" fill="#a699b0"/><rect x="1391.97" y="675.17" width="15.97" height="15.92" fill="#998aa4"/><rect x="1407.64" y="675.17" width="15.97" height="15.92" fill="#8a7997"/><rect x="1423.31" y="675.17" width="15.97" height="15.92" fill="#7b6889"/><rect x="1438.98" y="675.17" width="15.97" height="15.92" fill="#6d577c"/><rect x="1454.65" y="675.17" width="15.97" height="15.92" fill="#614a71"/><rect x="1470.32" y="675.17" width="15.97" height="15.92" fill="#533b66"/><rect x="1485.99" y="675.17" width="15.97" height="15.92" fill="#472c5a"/><rect x="1501.66" y="675.17" width="15.97" height="15.92" fill="#3a1d4f"/><rect x="1517.33" y="675.17" width="15.97" height="15.92" fill="#331649"/><rect x="1533.00" y="675.17" width="15.97" height="15.92" fill="#851115"/><rect x="1548.67" y="675.17" width="15.97" height="15.92" fill="#8a1c1f"/><rect x="1564.34" y="675.17" width="15.97" height="15.92" fill="#91282c"/><rect x="1580.01" y="675.17" width="15.97" height="15.92" fill="#a04649"/><rect x="1595.68" y="675.17" width="15.97" height="15.92" fill="#ac5e61"/><rect x="1611.35" y="675.17" width="15.97" height="15.92" fill="#ecdadb"/><rect x="1627.02" y="675.17" width="15.97" height="15.92" fill="#80080c"/><rect x="1642.69" y="675.17" width="15.97" height="15.92" fill="#6e597e"/><rect x="1658.36" y="675.17" width="15.97" height="15.92" fill="#4f3662"/><rect x="1674.03" y="675.17" width="15.97" height="15.92" fill="#80080c"/><rect x="1219.60" y="659.55" width="15.97" height="15.92" fill="#dbb9ba"/><rect x="1235.27" y="659.55" width="15.97" height="15.92" fill="#e3c9ca"/><rect x="1250.94" y="659.55" width="15.97" height="15.92" fill="#ecdbdb"/><rect x="1266.61" y="659.55" width="15.97" height="15.92" fill="#f7eff0"/><rect x="1282.28" y="659.55" width="15.97" height="15.92" fill="#fefefe"/><rect x="1297.95" y="659.55" width="15.97" height="15.92" fill="#edebef"/><rect x="1313.62" y="659.55" width="15.97" height="15.92" fill="#ded9e2"/><rect x="1329.29" y="659.55" width="15.97" height="15.92" fill="#cfc8d4"/><rect x="1344.96" y="659.55" width="15.97" height="15.92" fill="#bdb4c4"/><rect x="1360.63" y="659.55" width="15.97" height="15.92" fill="#aea2b6"/><rect x="1376.30" y="659.55" width="15.97" height="15.92" fill="#9f91a9"/><rect x="1391.97" y="659.55" width="15.97" height="15.92" fill="#91819d"/><rect x="1407.64" y="659.55" width="15.97" height="15.92" fill="#847291"/><rect x="1423.31" y="659.55" width="15.97" height="15.92" fill="#756184"/><rect x="1438.98" y="659.55" width="15.97" height="15.92" fill="#685278"/><rect x="1454.65" y="659.55" width="15.97" height="15.92" fill="#5a426b"/><rect x="1470.32" y="659.55" width="15.97" height="15.92" fill="#4d3360"/><rect x="1485.99" y="659.55" width="15.97" height="15.92" fill="#402454"/><rect x="1501.66" y="659.55" width="15.97" height="15.92" fill="#331649"/><rect x="1517.33" y="659.55" width="15.97" height="15.92" fill="#841014"/><rect x="1533.00" y="659.55" width="15.97" height="15.92" fill="#8e2327"/><rect x="1548.67" y="659.55" width="15.97" height="15.92" fill="#91282c"/><rect x="1564.34" y="659.55" width="15.97" height="15.92" fill="#99393d"/><rect x="1580.01" y="659.55" width="15.97" height="15.92" fill="#a9575a"/><rect x="1595.68" y="659.55" width="15.97" height="15.92" fill="#b57072"/><rect x="1611.35" y="659.55" width="15.97" height="15.92" fill="#c08486"/><rect x="1627.02" y="659.55" width="15.97" height="15.92" fill="#d9b5b6"/><rect x="1642.69" y="659.55" width="31.64" height="15.92" fill="#80080c"/><rect x="1674.03" y="659.55" width="15.97" height="15.92" fill="#932d30"/><rect x="1219.60" y="643.92" width="15.97" height="15.92" fill="#ddbdbe"/><rect x="1235.27" y="643.92" width="15.97" height="15.92" fill="#e6cecf"/><rect x="1250.94" y="643.92" width="15.97" height="15.92" fill="#efe1e1"/><rect x="1266.61" y="643.92" width="15.97" height="15.92" fill="#f9f3f4"/><rect x="1282.28" y="643.92" width="15.97" height="15.92" fill="#fdfcfd"/><rect x="1297.95" y="643.92" width="15.97" height="15.92" fill="#ece9ee"/><rect x="1313.62" y="643.92" width="15.97" height="15.92" fill="#d9d4dd"/><rect x="1329.29" y="643.92" width="15.97" height="15.92" fill="#cac3d0"/><rect x="1344.96" y="643.92" width="15.97" height="15.92" fill="#b8aec0"/><rect x="1360.63" y="643.92" width="15.97" height="15.92" fill="#a89bb1"/><rect x="1376.30" y="643.92" width="15.97" height="15.92" fill="#9889a3"/><rect x="1391.97" y="643.92" width="15.97" height="15.92" fill="#8a7996"/><rect x="1407.64" y="643.92" width="15.97" height="15.92" fill="#7c698a"/><rect x="1423.31" y="643.92" width="15.97" height="15.92" fill="#6e597e"/><rect x="1438.98" y="643.92" width="15.97" height="15.92" fill="#614a71"/><rect x="1454.65" y="643.92" width="15.97" height="15.92" fill="#533a65"/><rect x="1470.32" y="643.92" width="15.97" height="15.92" fill="#462c5a"/><rect x="1485.99" y="643.92" width="15.97" height="15.92" fill="#391c4e"/><rect x="1501.66" y="643.92" width="15.97" height="15.92" fill="#841014"/><rect x="1517.33" y="643.92" width="15.97" height="15.92" fill="#8d2125"/><rect x="1533.00" y="643.92" width="15.97" height="15.92" fill="#973538"/><rect x="1548.67" y="643.92" width="15.97" height="15.92" fill="#99393d"/><rect x="1564.34" y="643.92" width="15.97" height="15.92" fill="#a65255"/><rect x="1580.01" y="643.92" width="15.97" height="15.92" fill="#b57072"/><rect x="1595.68" y="643.92" width="15.97" height="15.92" fill="#c69092"/><rect x="1611.35" y="643.92" width="15.97" height="15.92" fill="#b97779"/><rect x="1627.02" y="643.92" width="15.97" height="15.92" fill="#ecdadb"/><rect x="1642.69" y="643.92" width="15.97" height="15.92" fill="#ffffff"/><rect x="1658.36" y="643.92" width="15.97" height="15.92" fill="#80080c"/><rect x="1674.03" y="643.92" width="15.97" height="15.92" fill="#a04649"/><rect x="1219.60" y="628.30" width="15.97" height="15.92" fill="#dfc1c2"/><rect x="1235.27" y="628.30" width="15.97" height="15.92" fill="#e8d3d3"/><rect x="1250.94" y="628.30" width="15.97" height="15.92" fill="#f2e6e7"/><rect x="1266.61" y="628.30" width="15.97" height="15.92" fill="#fbf8f8"/><rect x="1282.28" y="628.30" width="15.97" height="15.92" fill="#fbfafb"/><rect x="1297.95" y="628.30" width="15.97" height="15.92" fill="#eae7ec"/><rect x="1313.62" y="628.30" width="15.97" height="15.92" fill="#dad4de"/><rect x="1329.29" y="628.30" width="15.97" height="15.92" fill="#c5bdcb"/><rect x="1344.96" y="628.30" width="15.97" height="15.92" fill="#b7acbe"/><rect x="1360.63" y="628.30" width="15.97" height="15.92" fill="#a294ac"/><rect x="1376.30" y="628.30" width="15.97" height="15.92" fill="#91819d"/><rect x="1391.97" y="628.30" width="15.97" height="15.92" fill="#837190"/><rect x="1407.64" y="628.30" width="15.97" height="15.92" fill="#746083"/><rect x="1423.31" y="628.30" width="15.97" height="15.92" fill="#685278"/><rect x="1438.98" y="628.30" width="15.97" height="15.92" fill="#59416b"/><rect x="1454.65" y="628.30" width="15.97" height="15.92" fill="#4b315e"/><rect x="1470.32" y="628.30" width="15.97" height="15.92" fill="#3a1e4f"/><rect x="1485.99" y="628.30" width="15.97" height="15.92" fill="#840f13"/><rect x="1501.66" y="628.30" width="15.97" height="15.92" fill="#8d2124"/><rect x="1517.33" y="628.30" width="15.97" height="15.92" fill="#963235"/><rect x="1533.00" y="628.30" width="15.97" height="15.92" fill="#a04649"/><rect x="1548.67" y="628.30" width="15.97" height="15.92" fill="#a65255"/><rect x="1564.34" y="628.30" width="15.97" height="15.92" fill="#b36b6d"/><rect x="1580.01" y="628.30" width="15.97" height="15.92" fill="#c08486"/><rect x="1595.68" y="628.30" width="15.97" height="15.92" fill="#d3a9aa"/><rect x="1611.35" y="628.30" width="15.97" height="15.92" fill="#e6cece"/><rect x="1627.02" y="628.30" width="15.97" height="15.92" fill="#ffffff"/><rect x="1642.69" y="628.30" width="15.97" height="15.92" fill="#e0dbe3"/><rect x="1658.36" y="628.30" width="15.97" height="15.92" fill="#cbc4d1"/><rect x="1674.03" y="628.30" width="15.97" height="15.92" fill="#a04649"/></g>
<rect x="1714" y="628.3" width="18.5" height="468.70000000000005" fill="url(#gPhase)"/>
<text x="1463.2" y="614" font-family="'Liberation Sans', Arial, Helvetica, sans-serif" font-size="35.5" text-anchor="middle" textLength="108" lengthAdjust="spacingAndGlyphs" fill="#000">Phase</text>
<text x="1221.1" y="1129.4" font-family="'Liberation Sans', Arial, Helvetica, sans-serif" font-size="23.3" text-anchor="middle" fill="#111">15</text>
<text x="1211.6" y="1106.0" font-family="'Liberation Sans', Arial, Helvetica, sans-serif" font-size="23.3" text-anchor="end" fill="#111">15</text>
<text x="1299.4" y="1129.4" font-family="'Liberation Sans', Arial, Helvetica, sans-serif" font-size="23.3" text-anchor="middle" fill="#111">20</text>
<text x="1211.6" y="1027.9" font-family="'Liberation Sans', Arial, Helvetica, sans-serif" font-size="23.3" text-anchor="end" fill="#111">20</text>
<text x="1377.8" y="1129.4" font-family="'Liberation Sans', Arial, Helvetica, sans-serif" font-size="23.3" text-anchor="middle" fill="#111">25</text>
<text x="1211.6" y="949.8" font-family="'Liberation Sans', Arial, Helvetica, sans-serif" font-size="23.3" text-anchor="end" fill="#111">25</text>
<text x="1456.2" y="1129.4" font-family="'Liberation Sans', Arial, Helvetica, sans-serif" font-size="23.3" text-anchor="middle" fill="#111">30</text>
<text x="1211.6" y="871.6" font-family="'Liberation Sans', Arial, Helvetica, sans-serif" font-size="23.3" text-anchor="end" fill="#111">30</text>
<text x="1534.5" y="1129.4" font-family="'Liberation Sans', Arial, Helvetica, sans-serif" font-size="23.3" text-anchor="middle" fill="#111">35</text>
<text x="1211.6" y="793.5" font-family="'Liberation Sans', Arial, Helvetica, sans-serif" font-size="23.3" text-anchor="end" fill="#111">35</text>
<text x="1612.9" y="1129.4" font-family="'Liberation Sans', Arial, Helvetica, sans-serif" font-size="23.3" text-anchor="middle" fill="#111">40</text>
<text x="1211.6" y="715.4" font-family="'Liberation Sans', Arial, Helvetica, sans-serif" font-size="23.3" text-anchor="end" fill="#111">40</text>
<text x="1691.2" y="1129.4" font-family="'Liberation Sans', Arial, Helvetica, sans-serif" font-size="23.3" text-anchor="middle" fill="#111">45</text>
<text x="1211.6" y="637.3" font-family="'Liberation Sans', Arial, Helvetica, sans-serif" font-size="23.3" text-anchor="end" fill="#111">45</text>
<text x="1452.8" y="1175" font-family="'Liberation Sans', Arial, Helvetica, sans-serif" font-size="35.5" text-anchor="middle" textLength="488" lengthAdjust="spacingAndGlyphs" fill="#111">Ellipse major axis radius (μm)</text>
<text transform="translate(1170,865.5) rotate(-90)" font-family="'Liberation Sans', Arial, Helvetica, sans-serif" font-size="37.1" text-anchor="middle" fill="#111">Ellipse minor axis radius (μm)</text>
<text x="1738" y="643" font-family="'Liberation Sans', Arial, Helvetica, sans-serif" font-size="33.5" textLength="29" lengthAdjust="spacingAndGlyphs" fill="#111">pi</text>
<text x="1743" y="876" font-family="'Liberation Sans', Arial, Helvetica, sans-serif" font-size="33" textLength="20" lengthAdjust="spacingAndGlyphs" fill="#111">0</text>
<text x="1736" y="1107" font-family="'Liberation Sans', Arial, Helvetica, sans-serif" font-size="33.5" textLength="43" lengthAdjust="spacingAndGlyphs" fill="#111">-pi</text>
</g>
</svg>
</body></html>
